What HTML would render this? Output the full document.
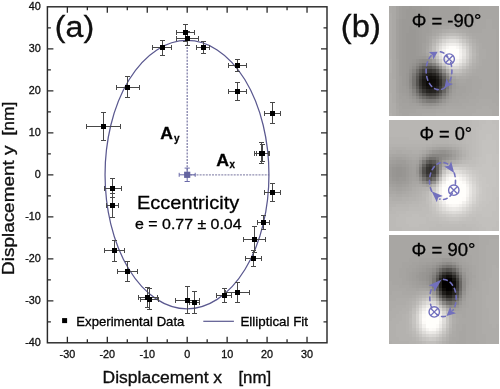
<!DOCTYPE html>
<html><head><meta charset="utf-8"><title>Eccentricity</title><style>
html,body{margin:0;padding:0;background:#fff;}
body{width:500px;height:389px;overflow:hidden;position:relative;}
svg{position:absolute;left:0;top:0;filter:blur(0.3px);}
text{font-family:"Liberation Sans", Arial, sans-serif;stroke:#000;stroke-width:0.3px;}
.tk{font-size:10.8px;fill:#1a1a1a;}
</style></head>
<body>
<svg width="500" height="389" viewBox="0 0 500 389">
<path d="M67.37 342.80v-6M67.37 6.80v6M87.34 342.80v-3.5M87.34 6.80v3.5M107.31 342.80v-6M107.31 6.80v6M127.29 342.80v-3.5M127.29 6.80v3.5M147.26 342.80v-6M147.26 6.80v6M167.23 342.80v-3.5M167.23 6.80v3.5M187.20 342.80v-6M187.20 6.80v6M207.17 342.80v-3.5M207.17 6.80v3.5M227.14 342.80v-6M227.14 6.80v6M247.11 342.80v-3.5M247.11 6.80v3.5M267.09 342.80v-6M267.09 6.80v6M287.06 342.80v-3.5M287.06 6.80v3.5M307.03 342.80v-6M307.03 6.80v6M47.40 321.80h3.5M327.00 321.80h-3.5M47.40 300.80h6M327.00 300.80h-6M47.40 279.80h3.5M327.00 279.80h-3.5M47.40 258.80h6M327.00 258.80h-6M47.40 237.80h3.5M327.00 237.80h-3.5M47.40 216.80h6M327.00 216.80h-6M47.40 195.80h3.5M327.00 195.80h-3.5M47.40 174.80h6M327.00 174.80h-6M47.40 153.80h3.5M327.00 153.80h-3.5M47.40 132.80h6M327.00 132.80h-6M47.40 111.80h3.5M327.00 111.80h-3.5M47.40 90.80h6M327.00 90.80h-6M47.40 69.80h3.5M327.00 69.80h-3.5M47.40 48.80h6M327.00 48.80h-6M47.40 27.80h3.5M327.00 27.80h-3.5" stroke="#2a2a2a" stroke-width="1.3" fill="none"/>
<rect x="47.4" y="6.8" width="279.60" height="336.00" fill="none" stroke="#2a2a2a" stroke-width="1.45"/>
<text x="40.8" y="345.50" text-anchor="end" class="tk">-40</text>
<text x="40.8" y="303.50" text-anchor="end" class="tk">-30</text>
<text x="40.8" y="261.50" text-anchor="end" class="tk">-20</text>
<text x="40.8" y="219.50" text-anchor="end" class="tk">-10</text>
<text x="40.8" y="177.50" text-anchor="end" class="tk">0</text>
<text x="40.8" y="135.50" text-anchor="end" class="tk">10</text>
<text x="40.8" y="93.50" text-anchor="end" class="tk">20</text>
<text x="40.8" y="51.50" text-anchor="end" class="tk">30</text>
<text x="40.8" y="9.50" text-anchor="end" class="tk">40</text>
<text x="67.37" y="357.6" text-anchor="middle" class="tk">-30</text>
<text x="107.31" y="357.6" text-anchor="middle" class="tk">-20</text>
<text x="147.26" y="357.6" text-anchor="middle" class="tk">-10</text>
<text x="187.20" y="357.6" text-anchor="middle" class="tk">0</text>
<text x="227.14" y="357.6" text-anchor="middle" class="tk">10</text>
<text x="267.09" y="357.6" text-anchor="middle" class="tk">20</text>
<text x="307.03" y="357.6" text-anchor="middle" class="tk">30</text>
<text transform="translate(102.60 383.30) scale(1.1214 1)" font-size="15.6" fill="#111">Displacement x</text>
<text transform="translate(238.42 383.30) scale(1.0796 1)" font-size="15.6" fill="#111">[nm]</text>
<text transform="translate(14.20 274.91) rotate(-90) scale(1.1983 1)" font-size="15.8" fill="#111">Displacement y</text>
<text transform="translate(14.20 135.62) rotate(-90) scale(1.1045 1)" font-size="15.8" fill="#111">[nm]</text>
<text transform="translate(54.87 36.50) scale(1.0727 1)" font-size="30" fill="#111">(a)</text>
<text transform="translate(340.84 36.90) scale(1.0730 1)" font-size="30.5" fill="#111">(b)</text>
<path d="M187.20 40.5V174.80" stroke="#8280aa" stroke-width="1.3" stroke-dasharray="2 1.2" fill="none"/>
<path d="M187.20 174.80H269" stroke="#9290b2" stroke-width="1.3" stroke-dasharray="2 1.1" fill="none"/>
<ellipse cx="187.0" cy="174.65" rx="81.95" ry="134.15" fill="none" stroke="#5a588f" stroke-width="1.25"/>
<path d="M176.5 32.5H194.5M185.5 24.5V41.5M176.5 30.0v5M194.5 30.0v5M183.0 24.5h5M183.0 41.5h5M176.5 38.5H198.5M187.5 31.5V45.5M176.5 36.0v5M198.5 36.0v5M185.0 31.5h5M185.0 45.5h5M152.5 47.5H171.5M162.5 40.5V55.5M152.5 45.0v5M171.5 45.0v5M160.0 40.5h5M160.0 55.5h5M196.5 47.5H209.5M203.5 41.5V53.5M196.5 45.0v5M209.5 45.0v5M201.0 41.5h5M201.0 53.5h5M228.5 65.5H246.5M237.5 59.5V71.5M228.5 63.0v5M246.5 63.0v5M235.0 59.5h5M235.0 71.5h5M228.5 91.5H246.5M237.5 82.5V100.5M228.5 89.0v5M246.5 89.0v5M235.0 82.5h5M235.0 100.5h5M116.5 87.5H139.5M127.5 76.5V97.5M116.5 85.0v5M139.5 85.0v5M125.0 76.5h5M125.0 97.5h5M86.5 126.5H120.5M103.5 112.5V140.5M86.5 124.0v5M120.5 124.0v5M101.0 112.5h5M101.0 140.5h5M264.5 113.5H280.5M272.5 102.5V123.5M264.5 111.0v5M280.5 111.0v5M270.0 102.5h5M270.0 123.5h5M254.5 153.5H269.5M261.5 142.5V163.5M254.5 151.0v5M269.5 151.0v5M259.0 142.5h5M259.0 163.5h5M256.5 153.5H268.5M262.5 144.5V161.5M256.5 151.0v5M268.5 151.0v5M260.0 144.5h5M260.0 161.5h5M104.5 188.5H121.5M112.5 178.5V197.5M104.5 186.0v5M121.5 186.0v5M110.0 178.5h5M110.0 197.5h5M106.5 205.5H118.5M112.5 193.5V217.5M106.5 203.0v5M118.5 203.0v5M110.0 193.5h5M110.0 217.5h5M264.5 192.5H280.5M272.5 183.5V201.5M264.5 190.0v5M280.5 190.0v5M270.0 183.5h5M270.0 201.5h5M257.5 222.5H269.5M263.5 215.5V229.5M257.5 220.0v5M269.5 220.0v5M261.0 215.5h5M261.0 229.5h5M243.5 239.5H265.5M254.5 226.5V252.5M243.5 237.0v5M265.5 237.0v5M252.0 226.5h5M252.0 252.5h5M245.5 258.5H261.5M253.5 250.5V266.5M245.5 256.0v5M261.5 256.0v5M251.0 250.5h5M251.0 266.5h5M104.5 250.5H124.5M114.5 240.5V261.5M104.5 248.0v5M124.5 248.0v5M112.0 240.5h5M112.0 261.5h5M117.5 271.5H137.5M127.5 261.5V281.5M117.5 269.0v5M137.5 269.0v5M125.0 261.5h5M125.0 281.5h5M138.5 297.5H157.5M147.5 287.5V307.5M138.5 295.0v5M157.5 295.0v5M145.0 287.5h5M145.0 307.5h5M140.5 299.5H158.5M149.5 288.5V309.5M140.5 297.0v5M158.5 297.0v5M147.0 288.5h5M147.0 309.5h5M175.5 300.5H199.5M187.5 286.5V313.5M175.5 298.0v5M199.5 298.0v5M185.0 286.5h5M185.0 313.5h5M189.5 302.5H199.5M194.5 291.5V313.5M189.5 300.0v5M199.5 300.0v5M192.0 291.5h5M192.0 313.5h5M216.5 295.5H231.5M224.5 288.5V302.5M216.5 293.0v5M231.5 293.0v5M222.0 288.5h5M222.0 302.5h5M225.5 292.5H249.5M237.5 282.5V302.5M225.5 290.0v5M249.5 290.0v5M235.0 282.5h5M235.0 302.5h5" stroke="#484848" stroke-width="1" fill="none"/>
<path d="M183.0 30.0h5v5h-5zM185.0 36.0h5v5h-5zM160.0 45.0h5v5h-5zM201.0 45.0h5v5h-5zM235.0 63.0h5v5h-5zM235.0 89.0h5v5h-5zM125.0 85.0h5v5h-5zM101.0 124.0h5v5h-5zM270.0 111.0h5v5h-5zM259.0 151.0h5v5h-5zM260.0 151.0h5v5h-5zM110.0 186.0h5v5h-5zM110.0 203.0h5v5h-5zM270.0 190.0h5v5h-5zM261.0 220.0h5v5h-5zM252.0 237.0h5v5h-5zM251.0 256.0h5v5h-5zM112.0 248.0h5v5h-5zM125.0 269.0h5v5h-5zM145.0 295.0h5v5h-5zM147.0 297.0h5v5h-5zM185.0 298.0h5v5h-5zM192.0 300.0h5v5h-5zM222.0 293.0h5v5h-5zM235.0 290.0h5v5h-5z" fill="#000"/>
<path d="M179.20 174.80H195.20M179.20 172.80v4M195.20 172.80v4M187.20 168.10V181.50M184.60 168.10h5.2M184.60 181.50h5.2" stroke="#6a6aa8" stroke-width="1" fill="none"/>
<rect x="184.10" y="171.70" width="6.2" height="6.2" fill="#6464a0"/>
<text transform="translate(160.36 139.00) scale(1.0122 1)" font-size="17.4" font-weight="700" fill="#000">A</text>
<text transform="translate(173.90 141.90) scale(0.8621 1)" font-size="11.6" font-weight="700" fill="#000">y</text>
<text transform="translate(216.26 166.10) scale(1.0208 1)" font-size="17.4" font-weight="700" fill="#000">A</text>
<text transform="translate(229.60 168.20) scale(0.8836 1)" font-size="11" font-weight="700" fill="#000">x</text>
<text transform="translate(137.00 209.00) scale(1.0929 1)" font-size="18.3" fill="#000">Eccentricity</text>
<text transform="translate(135.08 229.00) scale(1.0758 1)" font-size="14.8" fill="#000">e = 0.77 ± 0.04</text>
<rect x="62.1" y="318.1" width="5" height="5" fill="#000"/>
<text transform="translate(76.35 325.60) scale(1.0436 1)" font-size="12.6" fill="#000">Experimental Data</text>
<path d="M203.3 321.3H233.9" stroke="#5a588f" stroke-width="1.2"/>
<text transform="translate(240.43 325.60) scale(1.0619 1)" font-size="12.6" fill="#000">Elliptical Fit</text>
<g shape-rendering="crispEdges">
<rect x="389.00" y="6.00" width="3.73" height="3.73" fill="#acaaa7"/>
<rect x="392.33" y="6.00" width="3.73" height="3.73" fill="#aaa8a5"/>
<rect x="395.67" y="6.00" width="3.73" height="3.73" fill="#a4a29f"/>
<rect x="399.00" y="6.00" width="3.73" height="3.73" fill="#a09e9b"/>
<rect x="402.33" y="6.00" width="7.07" height="3.73" fill="#9e9c99"/>
<rect x="409.00" y="6.00" width="3.73" height="3.73" fill="#9c9a97"/>
<rect x="412.33" y="6.00" width="10.40" height="3.73" fill="#9e9c99"/>
<rect x="422.33" y="6.00" width="7.07" height="3.73" fill="#a09e9b"/>
<rect x="429.00" y="6.00" width="30.40" height="3.73" fill="#a2a09d"/>
<rect x="459.00" y="6.00" width="10.40" height="3.73" fill="#a4a29f"/>
<rect x="469.00" y="6.00" width="10.40" height="3.73" fill="#a6a4a1"/>
<rect x="479.00" y="6.00" width="20.40" height="3.73" fill="#a8a6a3"/>
<rect x="389.00" y="9.33" width="3.73" height="3.73" fill="#acaaa7"/>
<rect x="392.33" y="9.33" width="3.73" height="3.73" fill="#aaa8a5"/>
<rect x="395.67" y="9.33" width="3.73" height="3.73" fill="#a4a29f"/>
<rect x="399.00" y="9.33" width="3.73" height="3.73" fill="#a09e9b"/>
<rect x="402.33" y="9.33" width="3.73" height="3.73" fill="#9e9c99"/>
<rect x="405.67" y="9.33" width="10.40" height="3.73" fill="#9c9a97"/>
<rect x="415.67" y="9.33" width="7.07" height="3.73" fill="#9e9c99"/>
<rect x="422.33" y="9.33" width="7.07" height="3.73" fill="#a09e9b"/>
<rect x="429.00" y="9.33" width="30.40" height="3.73" fill="#a2a09d"/>
<rect x="459.00" y="9.33" width="10.40" height="3.73" fill="#a4a29f"/>
<rect x="469.00" y="9.33" width="10.40" height="3.73" fill="#a6a4a1"/>
<rect x="479.00" y="9.33" width="20.40" height="3.73" fill="#a8a6a3"/>
<rect x="389.00" y="12.67" width="3.73" height="3.73" fill="#aeaca9"/>
<rect x="392.33" y="12.67" width="3.73" height="3.73" fill="#aaa8a5"/>
<rect x="395.67" y="12.67" width="3.73" height="3.73" fill="#a4a29f"/>
<rect x="399.00" y="12.67" width="3.73" height="3.73" fill="#a09e9b"/>
<rect x="402.33" y="12.67" width="3.73" height="3.73" fill="#9e9c99"/>
<rect x="405.67" y="12.67" width="10.40" height="3.73" fill="#9c9a97"/>
<rect x="415.67" y="12.67" width="7.07" height="3.73" fill="#9e9c99"/>
<rect x="422.33" y="12.67" width="7.07" height="3.73" fill="#a09e9b"/>
<rect x="429.00" y="12.67" width="30.40" height="3.73" fill="#a2a09d"/>
<rect x="459.00" y="12.67" width="10.40" height="3.73" fill="#a4a29f"/>
<rect x="469.00" y="12.67" width="10.40" height="3.73" fill="#a6a4a1"/>
<rect x="479.00" y="12.67" width="20.40" height="3.73" fill="#a8a6a3"/>
<rect x="389.00" y="16.00" width="3.73" height="3.73" fill="#aeaca9"/>
<rect x="392.33" y="16.00" width="3.73" height="3.73" fill="#aaa8a5"/>
<rect x="395.67" y="16.00" width="3.73" height="3.73" fill="#a4a29f"/>
<rect x="399.00" y="16.00" width="3.73" height="3.73" fill="#a09e9b"/>
<rect x="402.33" y="16.00" width="3.73" height="3.73" fill="#9e9c99"/>
<rect x="405.67" y="16.00" width="13.73" height="3.73" fill="#9c9a97"/>
<rect x="419.00" y="16.00" width="3.73" height="3.73" fill="#9e9c99"/>
<rect x="422.33" y="16.00" width="7.07" height="3.73" fill="#a09e9b"/>
<rect x="429.00" y="16.00" width="27.07" height="3.73" fill="#a2a09d"/>
<rect x="455.67" y="16.00" width="13.73" height="3.73" fill="#a4a29f"/>
<rect x="469.00" y="16.00" width="7.07" height="3.73" fill="#a6a4a1"/>
<rect x="475.67" y="16.00" width="23.73" height="3.73" fill="#a8a6a3"/>
<rect x="389.00" y="19.33" width="3.73" height="3.73" fill="#aeaca9"/>
<rect x="392.33" y="19.33" width="3.73" height="3.73" fill="#aaa8a5"/>
<rect x="395.67" y="19.33" width="3.73" height="3.73" fill="#a2a09d"/>
<rect x="399.00" y="19.33" width="3.73" height="3.73" fill="#9e9c99"/>
<rect x="402.33" y="19.33" width="17.07" height="3.73" fill="#9c9a97"/>
<rect x="419.00" y="19.33" width="3.73" height="3.73" fill="#9e9c99"/>
<rect x="422.33" y="19.33" width="7.07" height="3.73" fill="#a09e9b"/>
<rect x="429.00" y="19.33" width="17.07" height="3.73" fill="#a2a09d"/>
<rect x="445.67" y="19.33" width="23.73" height="3.73" fill="#a4a29f"/>
<rect x="469.00" y="19.33" width="7.07" height="3.73" fill="#a6a4a1"/>
<rect x="475.67" y="19.33" width="10.40" height="3.73" fill="#a8a6a3"/>
<rect x="485.67" y="19.33" width="7.07" height="3.73" fill="#aaa8a5"/>
<rect x="492.33" y="19.33" width="7.07" height="3.73" fill="#a8a6a3"/>
<rect x="389.00" y="22.67" width="3.73" height="3.73" fill="#aeaca9"/>
<rect x="392.33" y="22.67" width="3.73" height="3.73" fill="#aaa8a5"/>
<rect x="395.67" y="22.67" width="3.73" height="3.73" fill="#a2a09d"/>
<rect x="399.00" y="22.67" width="3.73" height="3.73" fill="#9e9c99"/>
<rect x="402.33" y="22.67" width="17.07" height="3.73" fill="#9c9a97"/>
<rect x="419.00" y="22.67" width="3.73" height="3.73" fill="#9e9c99"/>
<rect x="422.33" y="22.67" width="7.07" height="3.73" fill="#a09e9b"/>
<rect x="429.00" y="22.67" width="10.40" height="3.73" fill="#a2a09d"/>
<rect x="439.00" y="22.67" width="10.40" height="3.73" fill="#a4a29f"/>
<rect x="449.00" y="22.67" width="27.07" height="3.73" fill="#a6a4a1"/>
<rect x="475.67" y="22.67" width="10.40" height="3.73" fill="#a8a6a3"/>
<rect x="485.67" y="22.67" width="7.07" height="3.73" fill="#aaa8a5"/>
<rect x="492.33" y="22.67" width="7.07" height="3.73" fill="#a8a6a3"/>
<rect x="389.00" y="26.00" width="3.73" height="3.73" fill="#aeaca9"/>
<rect x="392.33" y="26.00" width="3.73" height="3.73" fill="#aaa8a5"/>
<rect x="395.67" y="26.00" width="3.73" height="3.73" fill="#a2a09d"/>
<rect x="399.00" y="26.00" width="3.73" height="3.73" fill="#9e9c99"/>
<rect x="402.33" y="26.00" width="7.07" height="3.73" fill="#9c9a97"/>
<rect x="409.00" y="26.00" width="3.73" height="3.73" fill="#9a9895"/>
<rect x="412.33" y="26.00" width="7.07" height="3.73" fill="#9c9a97"/>
<rect x="419.00" y="26.00" width="3.73" height="3.73" fill="#9e9c99"/>
<rect x="422.33" y="26.00" width="7.07" height="3.73" fill="#a09e9b"/>
<rect x="429.00" y="26.00" width="3.73" height="3.73" fill="#a2a09d"/>
<rect x="432.33" y="26.00" width="7.07" height="3.73" fill="#a4a29f"/>
<rect x="439.00" y="26.00" width="3.73" height="3.73" fill="#a6a4a1"/>
<rect x="442.33" y="26.00" width="7.07" height="3.73" fill="#a8a6a3"/>
<rect x="449.00" y="26.00" width="10.40" height="3.73" fill="#aaa8a5"/>
<rect x="459.00" y="26.00" width="10.40" height="3.73" fill="#a8a6a3"/>
<rect x="469.00" y="26.00" width="3.73" height="3.73" fill="#a6a4a1"/>
<rect x="472.33" y="26.00" width="13.73" height="3.73" fill="#a8a6a3"/>
<rect x="485.67" y="26.00" width="7.07" height="3.73" fill="#aaa8a5"/>
<rect x="492.33" y="26.00" width="7.07" height="3.73" fill="#a8a6a3"/>
<rect x="389.00" y="29.33" width="3.73" height="3.73" fill="#aeaca9"/>
<rect x="392.33" y="29.33" width="3.73" height="3.73" fill="#aaa8a5"/>
<rect x="395.67" y="29.33" width="3.73" height="3.73" fill="#a2a09d"/>
<rect x="399.00" y="29.33" width="3.73" height="3.73" fill="#9e9c99"/>
<rect x="402.33" y="29.33" width="7.07" height="3.73" fill="#9c9a97"/>
<rect x="409.00" y="29.33" width="7.07" height="3.73" fill="#9a9895"/>
<rect x="415.67" y="29.33" width="3.73" height="3.73" fill="#9c9a97"/>
<rect x="419.00" y="29.33" width="3.73" height="3.73" fill="#9e9c99"/>
<rect x="422.33" y="29.33" width="7.07" height="3.73" fill="#a09e9b"/>
<rect x="429.00" y="29.33" width="3.73" height="3.73" fill="#a2a09d"/>
<rect x="432.33" y="29.33" width="3.73" height="3.73" fill="#a6a4a1"/>
<rect x="435.67" y="29.33" width="3.73" height="3.73" fill="#a8a6a3"/>
<rect x="439.00" y="29.33" width="3.73" height="3.73" fill="#aaa8a5"/>
<rect x="442.33" y="29.33" width="3.73" height="3.73" fill="#aeaca9"/>
<rect x="445.67" y="29.33" width="3.73" height="3.73" fill="#b0aeab"/>
<rect x="449.00" y="29.33" width="7.07" height="3.73" fill="#b2b0ad"/>
<rect x="455.67" y="29.33" width="3.73" height="3.73" fill="#b0aeab"/>
<rect x="459.00" y="29.33" width="3.73" height="3.73" fill="#aeaca9"/>
<rect x="462.33" y="29.33" width="3.73" height="3.73" fill="#acaaa7"/>
<rect x="465.67" y="29.33" width="3.73" height="3.73" fill="#aaa8a5"/>
<rect x="469.00" y="29.33" width="13.73" height="3.73" fill="#a8a6a3"/>
<rect x="482.33" y="29.33" width="13.73" height="3.73" fill="#aaa8a5"/>
<rect x="495.67" y="29.33" width="3.73" height="3.73" fill="#a8a6a3"/>
<rect x="389.00" y="32.67" width="3.73" height="3.73" fill="#aeaca9"/>
<rect x="392.33" y="32.67" width="3.73" height="3.73" fill="#aaa8a5"/>
<rect x="395.67" y="32.67" width="3.73" height="3.73" fill="#a2a09d"/>
<rect x="399.00" y="32.67" width="3.73" height="3.73" fill="#9e9c99"/>
<rect x="402.33" y="32.67" width="3.73" height="3.73" fill="#9c9a97"/>
<rect x="405.67" y="32.67" width="10.40" height="3.73" fill="#9a9895"/>
<rect x="415.67" y="32.67" width="3.73" height="3.73" fill="#9c9a97"/>
<rect x="419.00" y="32.67" width="3.73" height="3.73" fill="#9e9c99"/>
<rect x="422.33" y="32.67" width="3.73" height="3.73" fill="#a09e9b"/>
<rect x="425.67" y="32.67" width="3.73" height="3.73" fill="#a2a09d"/>
<rect x="429.00" y="32.67" width="3.73" height="3.73" fill="#a4a29f"/>
<rect x="432.33" y="32.67" width="3.73" height="3.73" fill="#a8a6a3"/>
<rect x="435.67" y="32.67" width="3.73" height="3.73" fill="#acaaa7"/>
<rect x="439.00" y="32.67" width="3.73" height="3.73" fill="#b2b0ad"/>
<rect x="442.33" y="32.67" width="3.73" height="3.73" fill="#b8b6b3"/>
<rect x="445.67" y="32.67" width="3.73" height="3.73" fill="#bcbab7"/>
<rect x="449.00" y="32.67" width="7.07" height="3.73" fill="#bebcb9"/>
<rect x="455.67" y="32.67" width="3.73" height="3.73" fill="#bcbab7"/>
<rect x="459.00" y="32.67" width="3.73" height="3.73" fill="#b8b6b3"/>
<rect x="462.33" y="32.67" width="3.73" height="3.73" fill="#b4b2af"/>
<rect x="465.67" y="32.67" width="3.73" height="3.73" fill="#aeaca9"/>
<rect x="469.00" y="32.67" width="3.73" height="3.73" fill="#acaaa7"/>
<rect x="472.33" y="32.67" width="23.73" height="3.73" fill="#aaa8a5"/>
<rect x="495.67" y="32.67" width="3.73" height="3.73" fill="#a8a6a3"/>
<rect x="389.00" y="36.00" width="3.73" height="3.73" fill="#aeaca9"/>
<rect x="392.33" y="36.00" width="3.73" height="3.73" fill="#aaa8a5"/>
<rect x="395.67" y="36.00" width="3.73" height="3.73" fill="#a2a09d"/>
<rect x="399.00" y="36.00" width="3.73" height="3.73" fill="#9e9c99"/>
<rect x="402.33" y="36.00" width="3.73" height="3.73" fill="#9c9a97"/>
<rect x="405.67" y="36.00" width="10.40" height="3.73" fill="#9a9895"/>
<rect x="415.67" y="36.00" width="3.73" height="3.73" fill="#9c9a97"/>
<rect x="419.00" y="36.00" width="3.73" height="3.73" fill="#9e9c99"/>
<rect x="422.33" y="36.00" width="3.73" height="3.73" fill="#a09e9b"/>
<rect x="425.67" y="36.00" width="3.73" height="3.73" fill="#a4a29f"/>
<rect x="429.00" y="36.00" width="3.73" height="3.73" fill="#a8a6a3"/>
<rect x="432.33" y="36.00" width="3.73" height="3.73" fill="#aeaca9"/>
<rect x="435.67" y="36.00" width="3.73" height="3.73" fill="#b4b2af"/>
<rect x="439.00" y="36.00" width="3.73" height="3.73" fill="#bcbab7"/>
<rect x="442.33" y="36.00" width="3.73" height="3.73" fill="#c4c2bf"/>
<rect x="445.67" y="36.00" width="3.73" height="3.73" fill="#cac8c5"/>
<rect x="449.00" y="36.00" width="7.07" height="3.73" fill="#ceccc9"/>
<rect x="455.67" y="36.00" width="3.73" height="3.73" fill="#cac8c5"/>
<rect x="459.00" y="36.00" width="3.73" height="3.73" fill="#c4c2bf"/>
<rect x="462.33" y="36.00" width="3.73" height="3.73" fill="#bcbab7"/>
<rect x="465.67" y="36.00" width="3.73" height="3.73" fill="#b6b4b1"/>
<rect x="469.00" y="36.00" width="3.73" height="3.73" fill="#b0aeab"/>
<rect x="472.33" y="36.00" width="3.73" height="3.73" fill="#acaaa7"/>
<rect x="475.67" y="36.00" width="20.40" height="3.73" fill="#aaa8a5"/>
<rect x="495.67" y="36.00" width="3.73" height="3.73" fill="#a8a6a3"/>
<rect x="389.00" y="39.33" width="3.73" height="3.73" fill="#aeaca9"/>
<rect x="392.33" y="39.33" width="3.73" height="3.73" fill="#aaa8a5"/>
<rect x="395.67" y="39.33" width="3.73" height="3.73" fill="#a2a09d"/>
<rect x="399.00" y="39.33" width="3.73" height="3.73" fill="#9e9c99"/>
<rect x="402.33" y="39.33" width="3.73" height="3.73" fill="#9c9a97"/>
<rect x="405.67" y="39.33" width="10.40" height="3.73" fill="#9a9895"/>
<rect x="415.67" y="39.33" width="3.73" height="3.73" fill="#9c9a97"/>
<rect x="419.00" y="39.33" width="3.73" height="3.73" fill="#9e9c99"/>
<rect x="422.33" y="39.33" width="3.73" height="3.73" fill="#a09e9b"/>
<rect x="425.67" y="39.33" width="3.73" height="3.73" fill="#a4a29f"/>
<rect x="429.00" y="39.33" width="3.73" height="3.73" fill="#aaa8a5"/>
<rect x="432.33" y="39.33" width="3.73" height="3.73" fill="#b4b2af"/>
<rect x="435.67" y="39.33" width="3.73" height="3.73" fill="#bebcb9"/>
<rect x="439.00" y="39.33" width="3.73" height="3.73" fill="#c8c6c3"/>
<rect x="442.33" y="39.33" width="3.73" height="3.73" fill="#d4d2cf"/>
<rect x="445.67" y="39.33" width="3.73" height="3.73" fill="#dcdad7"/>
<rect x="449.00" y="39.33" width="7.07" height="3.73" fill="#e0dedb"/>
<rect x="455.67" y="39.33" width="3.73" height="3.73" fill="#dcdad7"/>
<rect x="459.00" y="39.33" width="3.73" height="3.73" fill="#d2d0cd"/>
<rect x="462.33" y="39.33" width="3.73" height="3.73" fill="#c8c6c3"/>
<rect x="465.67" y="39.33" width="3.73" height="3.73" fill="#bebcb9"/>
<rect x="469.00" y="39.33" width="3.73" height="3.73" fill="#b6b4b1"/>
<rect x="472.33" y="39.33" width="3.73" height="3.73" fill="#b0aeab"/>
<rect x="475.67" y="39.33" width="3.73" height="3.73" fill="#acaaa7"/>
<rect x="479.00" y="39.33" width="17.07" height="3.73" fill="#aaa8a5"/>
<rect x="495.67" y="39.33" width="3.73" height="3.73" fill="#a8a6a3"/>
<rect x="389.00" y="42.67" width="3.73" height="3.73" fill="#aeaca9"/>
<rect x="392.33" y="42.67" width="3.73" height="3.73" fill="#aaa8a5"/>
<rect x="395.67" y="42.67" width="3.73" height="3.73" fill="#a2a09d"/>
<rect x="399.00" y="42.67" width="3.73" height="3.73" fill="#9e9c99"/>
<rect x="402.33" y="42.67" width="3.73" height="3.73" fill="#9c9a97"/>
<rect x="405.67" y="42.67" width="10.40" height="3.73" fill="#9a9895"/>
<rect x="415.67" y="42.67" width="3.73" height="3.73" fill="#9c9a97"/>
<rect x="419.00" y="42.67" width="3.73" height="3.73" fill="#9e9c99"/>
<rect x="422.33" y="42.67" width="3.73" height="3.73" fill="#a2a09d"/>
<rect x="425.67" y="42.67" width="3.73" height="3.73" fill="#a6a4a1"/>
<rect x="429.00" y="42.67" width="3.73" height="3.73" fill="#aeaca9"/>
<rect x="432.33" y="42.67" width="3.73" height="3.73" fill="#bab8b5"/>
<rect x="435.67" y="42.67" width="3.73" height="3.73" fill="#c8c6c3"/>
<rect x="439.00" y="42.67" width="3.73" height="3.73" fill="#d6d4d1"/>
<rect x="442.33" y="42.67" width="3.73" height="3.73" fill="#e2e0dd"/>
<rect x="445.67" y="42.67" width="3.73" height="3.73" fill="#eceae7"/>
<rect x="449.00" y="42.67" width="7.07" height="3.73" fill="#f0eeeb"/>
<rect x="455.67" y="42.67" width="3.73" height="3.73" fill="#eceae7"/>
<rect x="459.00" y="42.67" width="3.73" height="3.73" fill="#e2e0dd"/>
<rect x="462.33" y="42.67" width="3.73" height="3.73" fill="#d4d2cf"/>
<rect x="465.67" y="42.67" width="3.73" height="3.73" fill="#c8c6c3"/>
<rect x="469.00" y="42.67" width="3.73" height="3.73" fill="#bcbab7"/>
<rect x="472.33" y="42.67" width="3.73" height="3.73" fill="#b4b2af"/>
<rect x="475.67" y="42.67" width="3.73" height="3.73" fill="#aeaca9"/>
<rect x="479.00" y="42.67" width="3.73" height="3.73" fill="#acaaa7"/>
<rect x="482.33" y="42.67" width="13.73" height="3.73" fill="#aaa8a5"/>
<rect x="495.67" y="42.67" width="3.73" height="3.73" fill="#a8a6a3"/>
<rect x="389.00" y="46.00" width="3.73" height="3.73" fill="#aeaca9"/>
<rect x="392.33" y="46.00" width="3.73" height="3.73" fill="#aaa8a5"/>
<rect x="395.67" y="46.00" width="3.73" height="3.73" fill="#a2a09d"/>
<rect x="399.00" y="46.00" width="3.73" height="3.73" fill="#9e9c99"/>
<rect x="402.33" y="46.00" width="3.73" height="3.73" fill="#9c9a97"/>
<rect x="405.67" y="46.00" width="10.40" height="3.73" fill="#9a9895"/>
<rect x="415.67" y="46.00" width="3.73" height="3.73" fill="#9c9a97"/>
<rect x="419.00" y="46.00" width="3.73" height="3.73" fill="#9e9c99"/>
<rect x="422.33" y="46.00" width="3.73" height="3.73" fill="#a2a09d"/>
<rect x="425.67" y="46.00" width="3.73" height="3.73" fill="#a8a6a3"/>
<rect x="429.00" y="46.00" width="3.73" height="3.73" fill="#b2b0ad"/>
<rect x="432.33" y="46.00" width="3.73" height="3.73" fill="#c0bebb"/>
<rect x="435.67" y="46.00" width="3.73" height="3.73" fill="#d0cecb"/>
<rect x="439.00" y="46.00" width="3.73" height="3.73" fill="#e0dedb"/>
<rect x="442.33" y="46.00" width="3.73" height="3.73" fill="#eeece9"/>
<rect x="445.67" y="46.00" width="3.73" height="3.73" fill="#f8f6f3"/>
<rect x="449.00" y="46.00" width="7.07" height="3.73" fill="#fefcf9"/>
<rect x="455.67" y="46.00" width="3.73" height="3.73" fill="#f8f6f3"/>
<rect x="459.00" y="46.00" width="3.73" height="3.73" fill="#eeece9"/>
<rect x="462.33" y="46.00" width="3.73" height="3.73" fill="#dedcd9"/>
<rect x="465.67" y="46.00" width="3.73" height="3.73" fill="#d0cecb"/>
<rect x="469.00" y="46.00" width="3.73" height="3.73" fill="#c2c0bd"/>
<rect x="472.33" y="46.00" width="3.73" height="3.73" fill="#b6b4b1"/>
<rect x="475.67" y="46.00" width="3.73" height="3.73" fill="#b0aeab"/>
<rect x="479.00" y="46.00" width="3.73" height="3.73" fill="#acaaa7"/>
<rect x="482.33" y="46.00" width="13.73" height="3.73" fill="#aaa8a5"/>
<rect x="495.67" y="46.00" width="3.73" height="3.73" fill="#a8a6a3"/>
<rect x="389.00" y="49.33" width="3.73" height="3.73" fill="#aeaca9"/>
<rect x="392.33" y="49.33" width="3.73" height="3.73" fill="#aaa8a5"/>
<rect x="395.67" y="49.33" width="3.73" height="3.73" fill="#a2a09d"/>
<rect x="399.00" y="49.33" width="3.73" height="3.73" fill="#9e9c99"/>
<rect x="402.33" y="49.33" width="3.73" height="3.73" fill="#9c9a97"/>
<rect x="405.67" y="49.33" width="10.40" height="3.73" fill="#9a9895"/>
<rect x="415.67" y="49.33" width="3.73" height="3.73" fill="#9c9a97"/>
<rect x="419.00" y="49.33" width="3.73" height="3.73" fill="#9e9c99"/>
<rect x="422.33" y="49.33" width="3.73" height="3.73" fill="#a2a09d"/>
<rect x="425.67" y="49.33" width="3.73" height="3.73" fill="#aaa8a5"/>
<rect x="429.00" y="49.33" width="3.73" height="3.73" fill="#b4b2af"/>
<rect x="432.33" y="49.33" width="3.73" height="3.73" fill="#c2c0bd"/>
<rect x="435.67" y="49.33" width="3.73" height="3.73" fill="#d4d2cf"/>
<rect x="439.00" y="49.33" width="3.73" height="3.73" fill="#e6e4e1"/>
<rect x="442.33" y="49.33" width="3.73" height="3.73" fill="#f6f4f1"/>
<rect x="445.67" y="49.33" width="13.73" height="3.73" fill="#fffefb"/>
<rect x="459.00" y="49.33" width="3.73" height="3.73" fill="#f4f2ef"/>
<rect x="462.33" y="49.33" width="3.73" height="3.73" fill="#e6e4e1"/>
<rect x="465.67" y="49.33" width="3.73" height="3.73" fill="#d4d2cf"/>
<rect x="469.00" y="49.33" width="3.73" height="3.73" fill="#c4c2bf"/>
<rect x="472.33" y="49.33" width="3.73" height="3.73" fill="#b8b6b3"/>
<rect x="475.67" y="49.33" width="3.73" height="3.73" fill="#b0aeab"/>
<rect x="479.00" y="49.33" width="7.07" height="3.73" fill="#acaaa7"/>
<rect x="485.67" y="49.33" width="10.40" height="3.73" fill="#aaa8a5"/>
<rect x="495.67" y="49.33" width="3.73" height="3.73" fill="#a8a6a3"/>
<rect x="389.00" y="52.67" width="3.73" height="3.73" fill="#aeaca9"/>
<rect x="392.33" y="52.67" width="3.73" height="3.73" fill="#aaa8a5"/>
<rect x="395.67" y="52.67" width="3.73" height="3.73" fill="#a2a09d"/>
<rect x="399.00" y="52.67" width="3.73" height="3.73" fill="#9e9c99"/>
<rect x="402.33" y="52.67" width="3.73" height="3.73" fill="#9c9a97"/>
<rect x="405.67" y="52.67" width="10.40" height="3.73" fill="#9a9895"/>
<rect x="415.67" y="52.67" width="3.73" height="3.73" fill="#9c9a97"/>
<rect x="419.00" y="52.67" width="3.73" height="3.73" fill="#9e9c99"/>
<rect x="422.33" y="52.67" width="3.73" height="3.73" fill="#a09e9b"/>
<rect x="425.67" y="52.67" width="3.73" height="3.73" fill="#a6a4a1"/>
<rect x="429.00" y="52.67" width="3.73" height="3.73" fill="#b2b0ad"/>
<rect x="432.33" y="52.67" width="3.73" height="3.73" fill="#c0bebb"/>
<rect x="435.67" y="52.67" width="3.73" height="3.73" fill="#d4d2cf"/>
<rect x="439.00" y="52.67" width="3.73" height="3.73" fill="#e6e4e1"/>
<rect x="442.33" y="52.67" width="3.73" height="3.73" fill="#f8f6f3"/>
<rect x="445.67" y="52.67" width="13.73" height="3.73" fill="#fffefb"/>
<rect x="459.00" y="52.67" width="3.73" height="3.73" fill="#f6f4f1"/>
<rect x="462.33" y="52.67" width="3.73" height="3.73" fill="#e8e6e3"/>
<rect x="465.67" y="52.67" width="3.73" height="3.73" fill="#d6d4d1"/>
<rect x="469.00" y="52.67" width="3.73" height="3.73" fill="#c6c4c1"/>
<rect x="472.33" y="52.67" width="3.73" height="3.73" fill="#bab8b5"/>
<rect x="475.67" y="52.67" width="3.73" height="3.73" fill="#b2b0ad"/>
<rect x="479.00" y="52.67" width="7.07" height="3.73" fill="#acaaa7"/>
<rect x="485.67" y="52.67" width="10.40" height="3.73" fill="#aaa8a5"/>
<rect x="495.67" y="52.67" width="3.73" height="3.73" fill="#a8a6a3"/>
<rect x="389.00" y="56.00" width="3.73" height="3.73" fill="#aeaca9"/>
<rect x="392.33" y="56.00" width="3.73" height="3.73" fill="#aaa8a5"/>
<rect x="395.67" y="56.00" width="3.73" height="3.73" fill="#a2a09d"/>
<rect x="399.00" y="56.00" width="3.73" height="3.73" fill="#9e9c99"/>
<rect x="402.33" y="56.00" width="3.73" height="3.73" fill="#9c9a97"/>
<rect x="405.67" y="56.00" width="20.40" height="3.73" fill="#9a9895"/>
<rect x="425.67" y="56.00" width="3.73" height="3.73" fill="#9e9c99"/>
<rect x="429.00" y="56.00" width="3.73" height="3.73" fill="#a8a6a3"/>
<rect x="432.33" y="56.00" width="3.73" height="3.73" fill="#b6b4b1"/>
<rect x="435.67" y="56.00" width="3.73" height="3.73" fill="#cac8c5"/>
<rect x="439.00" y="56.00" width="3.73" height="3.73" fill="#e0dedb"/>
<rect x="442.33" y="56.00" width="3.73" height="3.73" fill="#f2f0ed"/>
<rect x="445.67" y="56.00" width="3.73" height="3.73" fill="#fefcf9"/>
<rect x="449.00" y="56.00" width="7.07" height="3.73" fill="#fffefb"/>
<rect x="455.67" y="56.00" width="3.73" height="3.73" fill="#fefcf9"/>
<rect x="459.00" y="56.00" width="3.73" height="3.73" fill="#f4f2ef"/>
<rect x="462.33" y="56.00" width="3.73" height="3.73" fill="#e4e2df"/>
<rect x="465.67" y="56.00" width="3.73" height="3.73" fill="#d4d2cf"/>
<rect x="469.00" y="56.00" width="3.73" height="3.73" fill="#c4c2bf"/>
<rect x="472.33" y="56.00" width="3.73" height="3.73" fill="#b8b6b3"/>
<rect x="475.67" y="56.00" width="3.73" height="3.73" fill="#b0aeab"/>
<rect x="479.00" y="56.00" width="7.07" height="3.73" fill="#acaaa7"/>
<rect x="485.67" y="56.00" width="10.40" height="3.73" fill="#aaa8a5"/>
<rect x="495.67" y="56.00" width="3.73" height="3.73" fill="#a8a6a3"/>
<rect x="389.00" y="59.33" width="3.73" height="3.73" fill="#b0aeab"/>
<rect x="392.33" y="59.33" width="3.73" height="3.73" fill="#aaa8a5"/>
<rect x="395.67" y="59.33" width="3.73" height="3.73" fill="#a4a29f"/>
<rect x="399.00" y="59.33" width="3.73" height="3.73" fill="#9e9c99"/>
<rect x="402.33" y="59.33" width="3.73" height="3.73" fill="#9c9a97"/>
<rect x="405.67" y="59.33" width="7.07" height="3.73" fill="#9a9895"/>
<rect x="412.33" y="59.33" width="3.73" height="3.73" fill="#989693"/>
<rect x="415.67" y="59.33" width="3.73" height="3.73" fill="#94928f"/>
<rect x="419.00" y="59.33" width="3.73" height="3.73" fill="#908e8b"/>
<rect x="422.33" y="59.33" width="7.07" height="3.73" fill="#8e8c89"/>
<rect x="429.00" y="59.33" width="3.73" height="3.73" fill="#94928f"/>
<rect x="432.33" y="59.33" width="3.73" height="3.73" fill="#a2a09d"/>
<rect x="435.67" y="59.33" width="3.73" height="3.73" fill="#b8b6b3"/>
<rect x="439.00" y="59.33" width="3.73" height="3.73" fill="#ceccc9"/>
<rect x="442.33" y="59.33" width="3.73" height="3.73" fill="#e4e2df"/>
<rect x="445.67" y="59.33" width="3.73" height="3.73" fill="#f2f0ed"/>
<rect x="449.00" y="59.33" width="7.07" height="3.73" fill="#faf8f5"/>
<rect x="455.67" y="59.33" width="3.73" height="3.73" fill="#f6f4f1"/>
<rect x="459.00" y="59.33" width="3.73" height="3.73" fill="#eceae7"/>
<rect x="462.33" y="59.33" width="3.73" height="3.73" fill="#dedcd9"/>
<rect x="465.67" y="59.33" width="3.73" height="3.73" fill="#ceccc9"/>
<rect x="469.00" y="59.33" width="3.73" height="3.73" fill="#c0bebb"/>
<rect x="472.33" y="59.33" width="3.73" height="3.73" fill="#b6b4b1"/>
<rect x="475.67" y="59.33" width="3.73" height="3.73" fill="#b0aeab"/>
<rect x="479.00" y="59.33" width="3.73" height="3.73" fill="#acaaa7"/>
<rect x="482.33" y="59.33" width="13.73" height="3.73" fill="#aaa8a5"/>
<rect x="495.67" y="59.33" width="3.73" height="3.73" fill="#a8a6a3"/>
<rect x="389.00" y="62.67" width="3.73" height="3.73" fill="#b0aeab"/>
<rect x="392.33" y="62.67" width="3.73" height="3.73" fill="#aaa8a5"/>
<rect x="395.67" y="62.67" width="3.73" height="3.73" fill="#a4a29f"/>
<rect x="399.00" y="62.67" width="3.73" height="3.73" fill="#9e9c99"/>
<rect x="402.33" y="62.67" width="3.73" height="3.73" fill="#9c9a97"/>
<rect x="405.67" y="62.67" width="3.73" height="3.73" fill="#9a9895"/>
<rect x="409.00" y="62.67" width="3.73" height="3.73" fill="#989693"/>
<rect x="412.33" y="62.67" width="3.73" height="3.73" fill="#94928f"/>
<rect x="415.67" y="62.67" width="3.73" height="3.73" fill="#8c8a87"/>
<rect x="419.00" y="62.67" width="3.73" height="3.73" fill="#82807d"/>
<rect x="422.33" y="62.67" width="3.73" height="3.73" fill="#787673"/>
<rect x="425.67" y="62.67" width="3.73" height="3.73" fill="#74726f"/>
<rect x="429.00" y="62.67" width="3.73" height="3.73" fill="#767471"/>
<rect x="432.33" y="62.67" width="3.73" height="3.73" fill="#84827f"/>
<rect x="435.67" y="62.67" width="3.73" height="3.73" fill="#9a9895"/>
<rect x="439.00" y="62.67" width="3.73" height="3.73" fill="#b4b2af"/>
<rect x="442.33" y="62.67" width="3.73" height="3.73" fill="#ceccc9"/>
<rect x="445.67" y="62.67" width="3.73" height="3.73" fill="#e0dedb"/>
<rect x="449.00" y="62.67" width="3.73" height="3.73" fill="#eae8e5"/>
<rect x="452.33" y="62.67" width="3.73" height="3.73" fill="#eceae7"/>
<rect x="455.67" y="62.67" width="3.73" height="3.73" fill="#e8e6e3"/>
<rect x="459.00" y="62.67" width="3.73" height="3.73" fill="#dedcd9"/>
<rect x="462.33" y="62.67" width="3.73" height="3.73" fill="#d2d0cd"/>
<rect x="465.67" y="62.67" width="3.73" height="3.73" fill="#c6c4c1"/>
<rect x="469.00" y="62.67" width="3.73" height="3.73" fill="#bab8b5"/>
<rect x="472.33" y="62.67" width="3.73" height="3.73" fill="#b2b0ad"/>
<rect x="475.67" y="62.67" width="3.73" height="3.73" fill="#aeaca9"/>
<rect x="479.00" y="62.67" width="3.73" height="3.73" fill="#acaaa7"/>
<rect x="482.33" y="62.67" width="13.73" height="3.73" fill="#aaa8a5"/>
<rect x="495.67" y="62.67" width="3.73" height="3.73" fill="#a8a6a3"/>
<rect x="389.00" y="66.00" width="3.73" height="3.73" fill="#b0aeab"/>
<rect x="392.33" y="66.00" width="3.73" height="3.73" fill="#aaa8a5"/>
<rect x="395.67" y="66.00" width="3.73" height="3.73" fill="#a4a29f"/>
<rect x="399.00" y="66.00" width="3.73" height="3.73" fill="#9e9c99"/>
<rect x="402.33" y="66.00" width="3.73" height="3.73" fill="#9c9a97"/>
<rect x="405.67" y="66.00" width="3.73" height="3.73" fill="#9a9895"/>
<rect x="409.00" y="66.00" width="3.73" height="3.73" fill="#969491"/>
<rect x="412.33" y="66.00" width="3.73" height="3.73" fill="#8e8c89"/>
<rect x="415.67" y="66.00" width="3.73" height="3.73" fill="#807e7b"/>
<rect x="419.00" y="66.00" width="3.73" height="3.73" fill="#6e6c69"/>
<rect x="422.33" y="66.00" width="3.73" height="3.73" fill="#5e5c59"/>
<rect x="425.67" y="66.00" width="7.07" height="3.73" fill="#54524f"/>
<rect x="432.33" y="66.00" width="3.73" height="3.73" fill="#605e5b"/>
<rect x="435.67" y="66.00" width="3.73" height="3.73" fill="#767471"/>
<rect x="439.00" y="66.00" width="3.73" height="3.73" fill="#92908d"/>
<rect x="442.33" y="66.00" width="3.73" height="3.73" fill="#b0aeab"/>
<rect x="445.67" y="66.00" width="3.73" height="3.73" fill="#c8c6c3"/>
<rect x="449.00" y="66.00" width="3.73" height="3.73" fill="#d6d4d1"/>
<rect x="452.33" y="66.00" width="3.73" height="3.73" fill="#dad8d5"/>
<rect x="455.67" y="66.00" width="3.73" height="3.73" fill="#d8d6d3"/>
<rect x="459.00" y="66.00" width="3.73" height="3.73" fill="#d0cecb"/>
<rect x="462.33" y="66.00" width="3.73" height="3.73" fill="#c6c4c1"/>
<rect x="465.67" y="66.00" width="3.73" height="3.73" fill="#bcbab7"/>
<rect x="469.00" y="66.00" width="3.73" height="3.73" fill="#b4b2af"/>
<rect x="472.33" y="66.00" width="3.73" height="3.73" fill="#b0aeab"/>
<rect x="475.67" y="66.00" width="3.73" height="3.73" fill="#acaaa7"/>
<rect x="479.00" y="66.00" width="17.07" height="3.73" fill="#aaa8a5"/>
<rect x="495.67" y="66.00" width="3.73" height="3.73" fill="#a8a6a3"/>
<rect x="389.00" y="69.33" width="3.73" height="3.73" fill="#b0aeab"/>
<rect x="392.33" y="69.33" width="3.73" height="3.73" fill="#aaa8a5"/>
<rect x="395.67" y="69.33" width="3.73" height="3.73" fill="#a4a29f"/>
<rect x="399.00" y="69.33" width="3.73" height="3.73" fill="#9e9c99"/>
<rect x="402.33" y="69.33" width="3.73" height="3.73" fill="#9c9a97"/>
<rect x="405.67" y="69.33" width="3.73" height="3.73" fill="#9a9895"/>
<rect x="409.00" y="69.33" width="3.73" height="3.73" fill="#92908d"/>
<rect x="412.33" y="69.33" width="3.73" height="3.73" fill="#868481"/>
<rect x="415.67" y="69.33" width="3.73" height="3.73" fill="#706e6b"/>
<rect x="419.00" y="69.33" width="3.73" height="3.73" fill="#585653"/>
<rect x="422.33" y="69.33" width="3.73" height="3.73" fill="#44423f"/>
<rect x="425.67" y="69.33" width="3.73" height="3.73" fill="#363431"/>
<rect x="429.00" y="69.33" width="3.73" height="3.73" fill="#34322f"/>
<rect x="432.33" y="69.33" width="3.73" height="3.73" fill="#3e3c39"/>
<rect x="435.67" y="69.33" width="3.73" height="3.73" fill="#52504d"/>
<rect x="439.00" y="69.33" width="3.73" height="3.73" fill="#706e6b"/>
<rect x="442.33" y="69.33" width="3.73" height="3.73" fill="#908e8b"/>
<rect x="445.67" y="69.33" width="3.73" height="3.73" fill="#aeaca9"/>
<rect x="449.00" y="69.33" width="3.73" height="3.73" fill="#c0bebb"/>
<rect x="452.33" y="69.33" width="7.07" height="3.73" fill="#c6c4c1"/>
<rect x="459.00" y="69.33" width="3.73" height="3.73" fill="#c2c0bd"/>
<rect x="462.33" y="69.33" width="3.73" height="3.73" fill="#bab8b5"/>
<rect x="465.67" y="69.33" width="3.73" height="3.73" fill="#b4b2af"/>
<rect x="469.00" y="69.33" width="3.73" height="3.73" fill="#b0aeab"/>
<rect x="472.33" y="69.33" width="3.73" height="3.73" fill="#acaaa7"/>
<rect x="475.67" y="69.33" width="20.40" height="3.73" fill="#aaa8a5"/>
<rect x="495.67" y="69.33" width="3.73" height="3.73" fill="#a8a6a3"/>
<rect x="389.00" y="72.67" width="3.73" height="3.73" fill="#aeaca9"/>
<rect x="392.33" y="72.67" width="3.73" height="3.73" fill="#aaa8a5"/>
<rect x="395.67" y="72.67" width="3.73" height="3.73" fill="#a4a29f"/>
<rect x="399.00" y="72.67" width="3.73" height="3.73" fill="#9e9c99"/>
<rect x="402.33" y="72.67" width="3.73" height="3.73" fill="#9c9a97"/>
<rect x="405.67" y="72.67" width="3.73" height="3.73" fill="#989693"/>
<rect x="409.00" y="72.67" width="3.73" height="3.73" fill="#8e8c89"/>
<rect x="412.33" y="72.67" width="3.73" height="3.73" fill="#7c7a77"/>
<rect x="415.67" y="72.67" width="3.73" height="3.73" fill="#62605d"/>
<rect x="419.00" y="72.67" width="3.73" height="3.73" fill="#464441"/>
<rect x="422.33" y="72.67" width="3.73" height="3.73" fill="#2e2c29"/>
<rect x="425.67" y="72.67" width="3.73" height="3.73" fill="#201e1b"/>
<rect x="429.00" y="72.67" width="3.73" height="3.73" fill="#1c1a17"/>
<rect x="432.33" y="72.67" width="3.73" height="3.73" fill="#24221f"/>
<rect x="435.67" y="72.67" width="3.73" height="3.73" fill="#34322f"/>
<rect x="439.00" y="72.67" width="3.73" height="3.73" fill="#52504d"/>
<rect x="442.33" y="72.67" width="3.73" height="3.73" fill="#74726f"/>
<rect x="445.67" y="72.67" width="3.73" height="3.73" fill="#94928f"/>
<rect x="449.00" y="72.67" width="3.73" height="3.73" fill="#acaaa7"/>
<rect x="452.33" y="72.67" width="3.73" height="3.73" fill="#b6b4b1"/>
<rect x="455.67" y="72.67" width="3.73" height="3.73" fill="#b8b6b3"/>
<rect x="459.00" y="72.67" width="3.73" height="3.73" fill="#b6b4b1"/>
<rect x="462.33" y="72.67" width="3.73" height="3.73" fill="#b2b0ad"/>
<rect x="465.67" y="72.67" width="3.73" height="3.73" fill="#aeaca9"/>
<rect x="469.00" y="72.67" width="3.73" height="3.73" fill="#acaaa7"/>
<rect x="472.33" y="72.67" width="23.73" height="3.73" fill="#aaa8a5"/>
<rect x="495.67" y="72.67" width="3.73" height="3.73" fill="#a8a6a3"/>
<rect x="389.00" y="76.00" width="3.73" height="3.73" fill="#aeaca9"/>
<rect x="392.33" y="76.00" width="3.73" height="3.73" fill="#aaa8a5"/>
<rect x="395.67" y="76.00" width="3.73" height="3.73" fill="#a4a29f"/>
<rect x="399.00" y="76.00" width="3.73" height="3.73" fill="#a09e9b"/>
<rect x="402.33" y="76.00" width="3.73" height="3.73" fill="#9c9a97"/>
<rect x="405.67" y="76.00" width="3.73" height="3.73" fill="#989693"/>
<rect x="409.00" y="76.00" width="3.73" height="3.73" fill="#8c8a87"/>
<rect x="412.33" y="76.00" width="3.73" height="3.73" fill="#767471"/>
<rect x="415.67" y="76.00" width="3.73" height="3.73" fill="#585653"/>
<rect x="419.00" y="76.00" width="3.73" height="3.73" fill="#383633"/>
<rect x="422.33" y="76.00" width="3.73" height="3.73" fill="#201e1b"/>
<rect x="425.67" y="76.00" width="3.73" height="3.73" fill="#12100d"/>
<rect x="429.00" y="76.00" width="3.73" height="3.73" fill="#100e0b"/>
<rect x="432.33" y="76.00" width="3.73" height="3.73" fill="#14120f"/>
<rect x="435.67" y="76.00" width="3.73" height="3.73" fill="#22201d"/>
<rect x="439.00" y="76.00" width="3.73" height="3.73" fill="#3e3c39"/>
<rect x="442.33" y="76.00" width="3.73" height="3.73" fill="#605e5b"/>
<rect x="445.67" y="76.00" width="3.73" height="3.73" fill="#82807d"/>
<rect x="449.00" y="76.00" width="3.73" height="3.73" fill="#9c9a97"/>
<rect x="452.33" y="76.00" width="3.73" height="3.73" fill="#a8a6a3"/>
<rect x="455.67" y="76.00" width="3.73" height="3.73" fill="#aeaca9"/>
<rect x="459.00" y="76.00" width="7.07" height="3.73" fill="#acaaa7"/>
<rect x="465.67" y="76.00" width="3.73" height="3.73" fill="#aaa8a5"/>
<rect x="469.00" y="76.00" width="10.40" height="3.73" fill="#a8a6a3"/>
<rect x="479.00" y="76.00" width="17.07" height="3.73" fill="#aaa8a5"/>
<rect x="495.67" y="76.00" width="3.73" height="3.73" fill="#a8a6a3"/>
<rect x="389.00" y="79.33" width="3.73" height="3.73" fill="#aeaca9"/>
<rect x="392.33" y="79.33" width="3.73" height="3.73" fill="#acaaa7"/>
<rect x="395.67" y="79.33" width="3.73" height="3.73" fill="#a4a29f"/>
<rect x="399.00" y="79.33" width="3.73" height="3.73" fill="#a09e9b"/>
<rect x="402.33" y="79.33" width="3.73" height="3.73" fill="#9c9a97"/>
<rect x="405.67" y="79.33" width="3.73" height="3.73" fill="#989693"/>
<rect x="409.00" y="79.33" width="3.73" height="3.73" fill="#8a8885"/>
<rect x="412.33" y="79.33" width="3.73" height="3.73" fill="#74726f"/>
<rect x="415.67" y="79.33" width="3.73" height="3.73" fill="#54524f"/>
<rect x="419.00" y="79.33" width="3.73" height="3.73" fill="#32302d"/>
<rect x="422.33" y="79.33" width="3.73" height="3.73" fill="#1a1815"/>
<rect x="425.67" y="79.33" width="3.73" height="3.73" fill="#0e0c09"/>
<rect x="429.00" y="79.33" width="3.73" height="3.73" fill="#0c0a07"/>
<rect x="432.33" y="79.33" width="3.73" height="3.73" fill="#0e0c09"/>
<rect x="435.67" y="79.33" width="3.73" height="3.73" fill="#1a1815"/>
<rect x="439.00" y="79.33" width="3.73" height="3.73" fill="#32302d"/>
<rect x="442.33" y="79.33" width="3.73" height="3.73" fill="#565451"/>
<rect x="445.67" y="79.33" width="3.73" height="3.73" fill="#787673"/>
<rect x="449.00" y="79.33" width="3.73" height="3.73" fill="#92908d"/>
<rect x="452.33" y="79.33" width="3.73" height="3.73" fill="#a2a09d"/>
<rect x="455.67" y="79.33" width="3.73" height="3.73" fill="#a6a4a1"/>
<rect x="459.00" y="79.33" width="7.07" height="3.73" fill="#a8a6a3"/>
<rect x="465.67" y="79.33" width="7.07" height="3.73" fill="#a6a4a1"/>
<rect x="472.33" y="79.33" width="10.40" height="3.73" fill="#a8a6a3"/>
<rect x="482.33" y="79.33" width="13.73" height="3.73" fill="#aaa8a5"/>
<rect x="495.67" y="79.33" width="3.73" height="3.73" fill="#a8a6a3"/>
<rect x="389.00" y="82.67" width="3.73" height="3.73" fill="#aeaca9"/>
<rect x="392.33" y="82.67" width="3.73" height="3.73" fill="#acaaa7"/>
<rect x="395.67" y="82.67" width="3.73" height="3.73" fill="#a4a29f"/>
<rect x="399.00" y="82.67" width="3.73" height="3.73" fill="#a09e9b"/>
<rect x="402.33" y="82.67" width="3.73" height="3.73" fill="#9c9a97"/>
<rect x="405.67" y="82.67" width="3.73" height="3.73" fill="#989693"/>
<rect x="409.00" y="82.67" width="3.73" height="3.73" fill="#8c8a87"/>
<rect x="412.33" y="82.67" width="3.73" height="3.73" fill="#74726f"/>
<rect x="415.67" y="82.67" width="3.73" height="3.73" fill="#54524f"/>
<rect x="419.00" y="82.67" width="3.73" height="3.73" fill="#34322f"/>
<rect x="422.33" y="82.67" width="3.73" height="3.73" fill="#1c1a17"/>
<rect x="425.67" y="82.67" width="3.73" height="3.73" fill="#0e0c09"/>
<rect x="429.00" y="82.67" width="3.73" height="3.73" fill="#0c0a07"/>
<rect x="432.33" y="82.67" width="3.73" height="3.73" fill="#100e0b"/>
<rect x="435.67" y="82.67" width="3.73" height="3.73" fill="#1a1815"/>
<rect x="439.00" y="82.67" width="3.73" height="3.73" fill="#32302d"/>
<rect x="442.33" y="82.67" width="3.73" height="3.73" fill="#54524f"/>
<rect x="445.67" y="82.67" width="3.73" height="3.73" fill="#767471"/>
<rect x="449.00" y="82.67" width="3.73" height="3.73" fill="#908e8b"/>
<rect x="452.33" y="82.67" width="3.73" height="3.73" fill="#9e9c99"/>
<rect x="455.67" y="82.67" width="3.73" height="3.73" fill="#a4a29f"/>
<rect x="459.00" y="82.67" width="13.73" height="3.73" fill="#a6a4a1"/>
<rect x="472.33" y="82.67" width="10.40" height="3.73" fill="#a8a6a3"/>
<rect x="482.33" y="82.67" width="13.73" height="3.73" fill="#aaa8a5"/>
<rect x="495.67" y="82.67" width="3.73" height="3.73" fill="#a8a6a3"/>
<rect x="389.00" y="86.00" width="3.73" height="3.73" fill="#aeaca9"/>
<rect x="392.33" y="86.00" width="3.73" height="3.73" fill="#acaaa7"/>
<rect x="395.67" y="86.00" width="3.73" height="3.73" fill="#a4a29f"/>
<rect x="399.00" y="86.00" width="3.73" height="3.73" fill="#a09e9b"/>
<rect x="402.33" y="86.00" width="3.73" height="3.73" fill="#9e9c99"/>
<rect x="405.67" y="86.00" width="3.73" height="3.73" fill="#9a9895"/>
<rect x="409.00" y="86.00" width="3.73" height="3.73" fill="#8e8c89"/>
<rect x="412.33" y="86.00" width="3.73" height="3.73" fill="#7a7875"/>
<rect x="415.67" y="86.00" width="3.73" height="3.73" fill="#5e5c59"/>
<rect x="419.00" y="86.00" width="3.73" height="3.73" fill="#3e3c39"/>
<rect x="422.33" y="86.00" width="3.73" height="3.73" fill="#24221f"/>
<rect x="425.67" y="86.00" width="3.73" height="3.73" fill="#161411"/>
<rect x="429.00" y="86.00" width="3.73" height="3.73" fill="#12100d"/>
<rect x="432.33" y="86.00" width="3.73" height="3.73" fill="#161411"/>
<rect x="435.67" y="86.00" width="3.73" height="3.73" fill="#22201d"/>
<rect x="439.00" y="86.00" width="3.73" height="3.73" fill="#3c3a37"/>
<rect x="442.33" y="86.00" width="3.73" height="3.73" fill="#5c5a57"/>
<rect x="445.67" y="86.00" width="3.73" height="3.73" fill="#7a7875"/>
<rect x="449.00" y="86.00" width="3.73" height="3.73" fill="#92908d"/>
<rect x="452.33" y="86.00" width="3.73" height="3.73" fill="#9e9c99"/>
<rect x="455.67" y="86.00" width="3.73" height="3.73" fill="#a2a09d"/>
<rect x="459.00" y="86.00" width="7.07" height="3.73" fill="#a4a29f"/>
<rect x="465.67" y="86.00" width="7.07" height="3.73" fill="#a6a4a1"/>
<rect x="472.33" y="86.00" width="10.40" height="3.73" fill="#a8a6a3"/>
<rect x="482.33" y="86.00" width="13.73" height="3.73" fill="#aaa8a5"/>
<rect x="495.67" y="86.00" width="3.73" height="3.73" fill="#a8a6a3"/>
<rect x="389.00" y="89.33" width="3.73" height="3.73" fill="#aeaca9"/>
<rect x="392.33" y="89.33" width="3.73" height="3.73" fill="#acaaa7"/>
<rect x="395.67" y="89.33" width="3.73" height="3.73" fill="#a4a29f"/>
<rect x="399.00" y="89.33" width="3.73" height="3.73" fill="#a09e9b"/>
<rect x="402.33" y="89.33" width="3.73" height="3.73" fill="#9e9c99"/>
<rect x="405.67" y="89.33" width="3.73" height="3.73" fill="#9c9a97"/>
<rect x="409.00" y="89.33" width="3.73" height="3.73" fill="#94928f"/>
<rect x="412.33" y="89.33" width="3.73" height="3.73" fill="#84827f"/>
<rect x="415.67" y="89.33" width="3.73" height="3.73" fill="#6a6865"/>
<rect x="419.00" y="89.33" width="3.73" height="3.73" fill="#4e4c49"/>
<rect x="422.33" y="89.33" width="3.73" height="3.73" fill="#363431"/>
<rect x="425.67" y="89.33" width="3.73" height="3.73" fill="#262421"/>
<rect x="429.00" y="89.33" width="3.73" height="3.73" fill="#22201d"/>
<rect x="432.33" y="89.33" width="3.73" height="3.73" fill="#262421"/>
<rect x="435.67" y="89.33" width="3.73" height="3.73" fill="#34322f"/>
<rect x="439.00" y="89.33" width="3.73" height="3.73" fill="#4c4a47"/>
<rect x="442.33" y="89.33" width="3.73" height="3.73" fill="#686663"/>
<rect x="445.67" y="89.33" width="3.73" height="3.73" fill="#84827f"/>
<rect x="449.00" y="89.33" width="3.73" height="3.73" fill="#969491"/>
<rect x="452.33" y="89.33" width="3.73" height="3.73" fill="#a09e9b"/>
<rect x="455.67" y="89.33" width="10.40" height="3.73" fill="#a4a29f"/>
<rect x="465.67" y="89.33" width="7.07" height="3.73" fill="#a6a4a1"/>
<rect x="472.33" y="89.33" width="7.07" height="3.73" fill="#a8a6a3"/>
<rect x="479.00" y="89.33" width="17.07" height="3.73" fill="#aaa8a5"/>
<rect x="495.67" y="89.33" width="3.73" height="3.73" fill="#a8a6a3"/>
<rect x="389.00" y="92.67" width="3.73" height="3.73" fill="#b0aeab"/>
<rect x="392.33" y="92.67" width="3.73" height="3.73" fill="#acaaa7"/>
<rect x="395.67" y="92.67" width="3.73" height="3.73" fill="#a6a4a1"/>
<rect x="399.00" y="92.67" width="3.73" height="3.73" fill="#a2a09d"/>
<rect x="402.33" y="92.67" width="3.73" height="3.73" fill="#a09e9b"/>
<rect x="405.67" y="92.67" width="3.73" height="3.73" fill="#9e9c99"/>
<rect x="409.00" y="92.67" width="3.73" height="3.73" fill="#989693"/>
<rect x="412.33" y="92.67" width="3.73" height="3.73" fill="#8c8a87"/>
<rect x="415.67" y="92.67" width="3.73" height="3.73" fill="#7a7875"/>
<rect x="419.00" y="92.67" width="3.73" height="3.73" fill="#64625f"/>
<rect x="422.33" y="92.67" width="3.73" height="3.73" fill="#504e4b"/>
<rect x="425.67" y="92.67" width="3.73" height="3.73" fill="#403e3b"/>
<rect x="429.00" y="92.67" width="3.73" height="3.73" fill="#3c3a37"/>
<rect x="432.33" y="92.67" width="3.73" height="3.73" fill="#403e3b"/>
<rect x="435.67" y="92.67" width="3.73" height="3.73" fill="#4e4c49"/>
<rect x="439.00" y="92.67" width="3.73" height="3.73" fill="#62605d"/>
<rect x="442.33" y="92.67" width="3.73" height="3.73" fill="#7a7875"/>
<rect x="445.67" y="92.67" width="3.73" height="3.73" fill="#8e8c89"/>
<rect x="449.00" y="92.67" width="3.73" height="3.73" fill="#9c9a97"/>
<rect x="452.33" y="92.67" width="3.73" height="3.73" fill="#a2a09d"/>
<rect x="455.67" y="92.67" width="7.07" height="3.73" fill="#a4a29f"/>
<rect x="462.33" y="92.67" width="7.07" height="3.73" fill="#a6a4a1"/>
<rect x="469.00" y="92.67" width="10.40" height="3.73" fill="#a8a6a3"/>
<rect x="479.00" y="92.67" width="20.40" height="3.73" fill="#aaa8a5"/>
<rect x="389.00" y="96.00" width="3.73" height="3.73" fill="#b0aeab"/>
<rect x="392.33" y="96.00" width="3.73" height="3.73" fill="#acaaa7"/>
<rect x="395.67" y="96.00" width="3.73" height="3.73" fill="#a6a4a1"/>
<rect x="399.00" y="96.00" width="7.07" height="3.73" fill="#a2a09d"/>
<rect x="405.67" y="96.00" width="3.73" height="3.73" fill="#a09e9b"/>
<rect x="409.00" y="96.00" width="3.73" height="3.73" fill="#9c9a97"/>
<rect x="412.33" y="96.00" width="3.73" height="3.73" fill="#969491"/>
<rect x="415.67" y="96.00" width="3.73" height="3.73" fill="#8a8885"/>
<rect x="419.00" y="96.00" width="3.73" height="3.73" fill="#7a7875"/>
<rect x="422.33" y="96.00" width="3.73" height="3.73" fill="#6c6a67"/>
<rect x="425.67" y="96.00" width="3.73" height="3.73" fill="#605e5b"/>
<rect x="429.00" y="96.00" width="3.73" height="3.73" fill="#5a5855"/>
<rect x="432.33" y="96.00" width="3.73" height="3.73" fill="#5e5c59"/>
<rect x="435.67" y="96.00" width="3.73" height="3.73" fill="#6a6865"/>
<rect x="439.00" y="96.00" width="3.73" height="3.73" fill="#7a7875"/>
<rect x="442.33" y="96.00" width="3.73" height="3.73" fill="#8a8885"/>
<rect x="445.67" y="96.00" width="3.73" height="3.73" fill="#989693"/>
<rect x="449.00" y="96.00" width="3.73" height="3.73" fill="#a09e9b"/>
<rect x="452.33" y="96.00" width="3.73" height="3.73" fill="#a4a29f"/>
<rect x="455.67" y="96.00" width="10.40" height="3.73" fill="#a6a4a1"/>
<rect x="465.67" y="96.00" width="10.40" height="3.73" fill="#a8a6a3"/>
<rect x="475.67" y="96.00" width="23.73" height="3.73" fill="#aaa8a5"/>
<rect x="389.00" y="99.33" width="3.73" height="3.73" fill="#b0aeab"/>
<rect x="392.33" y="99.33" width="3.73" height="3.73" fill="#acaaa7"/>
<rect x="395.67" y="99.33" width="3.73" height="3.73" fill="#a6a4a1"/>
<rect x="399.00" y="99.33" width="3.73" height="3.73" fill="#a4a29f"/>
<rect x="402.33" y="99.33" width="7.07" height="3.73" fill="#a2a09d"/>
<rect x="409.00" y="99.33" width="3.73" height="3.73" fill="#a09e9b"/>
<rect x="412.33" y="99.33" width="3.73" height="3.73" fill="#9c9a97"/>
<rect x="415.67" y="99.33" width="3.73" height="3.73" fill="#969491"/>
<rect x="419.00" y="99.33" width="3.73" height="3.73" fill="#8e8c89"/>
<rect x="422.33" y="99.33" width="3.73" height="3.73" fill="#84827f"/>
<rect x="425.67" y="99.33" width="3.73" height="3.73" fill="#7c7a77"/>
<rect x="429.00" y="99.33" width="3.73" height="3.73" fill="#7a7875"/>
<rect x="432.33" y="99.33" width="3.73" height="3.73" fill="#7c7a77"/>
<rect x="435.67" y="99.33" width="3.73" height="3.73" fill="#84827f"/>
<rect x="439.00" y="99.33" width="3.73" height="3.73" fill="#8e8c89"/>
<rect x="442.33" y="99.33" width="3.73" height="3.73" fill="#989693"/>
<rect x="445.67" y="99.33" width="3.73" height="3.73" fill="#a09e9b"/>
<rect x="449.00" y="99.33" width="3.73" height="3.73" fill="#a4a29f"/>
<rect x="452.33" y="99.33" width="7.07" height="3.73" fill="#a6a4a1"/>
<rect x="459.00" y="99.33" width="10.40" height="3.73" fill="#a8a6a3"/>
<rect x="469.00" y="99.33" width="10.40" height="3.73" fill="#aaa8a5"/>
<rect x="479.00" y="99.33" width="13.73" height="3.73" fill="#acaaa7"/>
<rect x="492.33" y="99.33" width="7.07" height="3.73" fill="#aaa8a5"/>
<rect x="389.00" y="102.67" width="3.73" height="3.73" fill="#b0aeab"/>
<rect x="392.33" y="102.67" width="3.73" height="3.73" fill="#aeaca9"/>
<rect x="395.67" y="102.67" width="3.73" height="3.73" fill="#a8a6a3"/>
<rect x="399.00" y="102.67" width="10.40" height="3.73" fill="#a4a29f"/>
<rect x="409.00" y="102.67" width="7.07" height="3.73" fill="#a2a09d"/>
<rect x="415.67" y="102.67" width="3.73" height="3.73" fill="#a09e9b"/>
<rect x="419.00" y="102.67" width="3.73" height="3.73" fill="#9c9a97"/>
<rect x="422.33" y="102.67" width="3.73" height="3.73" fill="#969491"/>
<rect x="425.67" y="102.67" width="3.73" height="3.73" fill="#94928f"/>
<rect x="429.00" y="102.67" width="3.73" height="3.73" fill="#92908d"/>
<rect x="432.33" y="102.67" width="3.73" height="3.73" fill="#94928f"/>
<rect x="435.67" y="102.67" width="3.73" height="3.73" fill="#989693"/>
<rect x="439.00" y="102.67" width="3.73" height="3.73" fill="#9e9c99"/>
<rect x="442.33" y="102.67" width="3.73" height="3.73" fill="#a2a09d"/>
<rect x="445.67" y="102.67" width="3.73" height="3.73" fill="#a6a4a1"/>
<rect x="449.00" y="102.67" width="13.73" height="3.73" fill="#a8a6a3"/>
<rect x="462.33" y="102.67" width="13.73" height="3.73" fill="#aaa8a5"/>
<rect x="475.67" y="102.67" width="20.40" height="3.73" fill="#acaaa7"/>
<rect x="495.67" y="102.67" width="3.73" height="3.73" fill="#aaa8a5"/>
<rect x="389.00" y="106.00" width="3.73" height="3.73" fill="#b0aeab"/>
<rect x="392.33" y="106.00" width="3.73" height="3.73" fill="#aeaca9"/>
<rect x="395.67" y="106.00" width="3.73" height="3.73" fill="#a8a6a3"/>
<rect x="399.00" y="106.00" width="3.73" height="3.73" fill="#a6a4a1"/>
<rect x="402.33" y="106.00" width="20.40" height="3.73" fill="#a4a29f"/>
<rect x="422.33" y="106.00" width="3.73" height="3.73" fill="#a2a09d"/>
<rect x="425.67" y="106.00" width="7.07" height="3.73" fill="#a09e9b"/>
<rect x="432.33" y="106.00" width="3.73" height="3.73" fill="#a2a09d"/>
<rect x="435.67" y="106.00" width="3.73" height="3.73" fill="#a4a29f"/>
<rect x="439.00" y="106.00" width="3.73" height="3.73" fill="#a6a4a1"/>
<rect x="442.33" y="106.00" width="3.73" height="3.73" fill="#a8a6a3"/>
<rect x="445.67" y="106.00" width="20.40" height="3.73" fill="#aaa8a5"/>
<rect x="465.67" y="106.00" width="17.07" height="3.73" fill="#acaaa7"/>
<rect x="482.33" y="106.00" width="7.07" height="3.73" fill="#aeaca9"/>
<rect x="489.00" y="106.00" width="10.40" height="3.73" fill="#acaaa7"/>
<rect x="389.00" y="109.33" width="3.73" height="3.73" fill="#b0aeab"/>
<rect x="392.33" y="109.33" width="3.73" height="3.73" fill="#aeaca9"/>
<rect x="395.67" y="109.33" width="3.73" height="3.73" fill="#aaa8a5"/>
<rect x="399.00" y="109.33" width="17.07" height="3.73" fill="#a6a4a1"/>
<rect x="415.67" y="109.33" width="20.40" height="3.73" fill="#a8a6a3"/>
<rect x="435.67" y="109.33" width="10.40" height="3.73" fill="#aaa8a5"/>
<rect x="445.67" y="109.33" width="30.40" height="3.73" fill="#acaaa7"/>
<rect x="475.67" y="109.33" width="17.07" height="3.73" fill="#aeaca9"/>
<rect x="492.33" y="109.33" width="7.07" height="3.73" fill="#acaaa7"/>
<rect x="389.00" y="112.67" width="3.73" height="3.73" fill="#b2b0ad"/>
<rect x="392.33" y="112.67" width="3.73" height="3.73" fill="#aeaca9"/>
<rect x="395.67" y="112.67" width="3.73" height="3.73" fill="#aaa8a5"/>
<rect x="399.00" y="112.67" width="3.73" height="3.73" fill="#a8a6a3"/>
<rect x="402.33" y="112.67" width="7.07" height="3.73" fill="#a6a4a1"/>
<rect x="409.00" y="112.67" width="13.73" height="3.73" fill="#a8a6a3"/>
<rect x="422.33" y="112.67" width="13.73" height="3.73" fill="#aaa8a5"/>
<rect x="435.67" y="112.67" width="37.07" height="3.73" fill="#acaaa7"/>
<rect x="472.33" y="112.67" width="20.40" height="3.73" fill="#aeaca9"/>
<rect x="492.33" y="112.67" width="7.07" height="3.73" fill="#acaaa7"/>
</g>
<path d="M450.69 62.67L450.83 63.12L450.96 63.57L451.08 64.02L451.19 64.48L451.29 64.95L451.39 65.42L451.48 65.89L451.56 66.36L451.63 66.84L451.69 67.32L451.75 67.80L451.80 68.29L451.83 68.77L451.86 69.26L451.88 69.75L451.90 70.24L451.90 70.72L451.90 71.21L451.88 71.70L451.86 72.19L451.83 72.68L451.79 73.16L451.74 73.65L451.69 74.13L451.62 74.61L451.55 75.09L451.47 75.56L451.38 76.03L451.28 76.50L451.18 76.96L451.07 77.42L450.94 77.88L450.81 78.33L450.68 78.77L450.53 79.21L450.38 79.65L450.22 80.08L450.05 80.50L449.88 80.92L449.69 81.32M445.06 87.48L444.20 88.09L443.31 88.61L442.39 89.03L441.46 89.35L440.52 89.57L439.56 89.68L438.61 89.69L437.65 89.60L436.70 89.40L435.77 89.09L434.85 88.69L433.96 88.19L433.09 87.59L432.26 86.90L431.46 86.12L430.71 85.25L430.00 84.31L429.34 83.29L428.73 82.20L428.18 81.05L427.69 79.84L427.26 78.58L426.90 77.28L426.60 75.94L426.37 74.57L426.21 73.18L426.12 71.78L426.10 70.37L426.15 68.96L426.28 67.56L426.47 66.18L426.73 64.83L427.06 63.51L427.46 62.22L427.91 60.99L428.43 59.80L429.01 58.68L429.64 57.62L430.33 56.64L431.06 55.73M440.35 51.80L440.55 51.84L440.75 51.88L440.95 51.92L441.15 51.97L441.35 52.02L441.55 52.07L441.75 52.14L441.95 52.20L442.14 52.27L442.34 52.35L442.53 52.43L442.73 52.51L442.92 52.60L443.11 52.69L443.31 52.79L443.50 52.89L443.69 53.00L443.87 53.11L444.06 53.22L444.25 53.34L444.43 53.47L444.61 53.59L444.80 53.73L444.98 53.86L445.16 54.00L445.33 54.15L445.51 54.30L445.68 54.45L445.86 54.60L446.03 54.77L446.19 54.93L446.36 55.10L446.53 55.27L446.69 55.45L446.85 55.63L447.01 55.81L447.17 56.00L447.33 56.19L447.48 56.38L447.63 56.58" fill="none" stroke="#7270bd" stroke-width="1.6" stroke-dasharray="3.8 3.6" stroke-linecap="round"/>
<path d="M437.65 51.80L433.26 59.42L432.38 54.94L428.86 52.03Z" fill="#7270bd"/>
<path d="M444.45 87.92L446.33 78.65L448.65 82.64L453.06 84.00Z" fill="#7270bd"/>
<circle cx="449.22" cy="59.11" r="5.2" fill="none" stroke="#7270bd" stroke-width="1.4"/><path d="M445.54 55.43L452.90 62.78M452.90 55.43L445.54 62.78" stroke="#7270bd" stroke-width="1.3"/>
<text transform="translate(411.69 26.60) scale(1.0524 1)" font-size="17.5" fill="#000">Φ = -90°</text>
<g shape-rendering="crispEdges">
<rect x="389.00" y="120.40" width="70.40" height="3.74" fill="#b8b6b3"/>
<rect x="459.00" y="120.40" width="10.40" height="3.74" fill="#bab8b5"/>
<rect x="469.00" y="120.40" width="3.73" height="3.74" fill="#bcbab7"/>
<rect x="472.33" y="120.40" width="7.07" height="3.74" fill="#bebcb9"/>
<rect x="479.00" y="120.40" width="7.07" height="3.74" fill="#c0bebb"/>
<rect x="485.67" y="120.40" width="7.07" height="3.74" fill="#c2c0bd"/>
<rect x="492.33" y="120.40" width="7.07" height="3.74" fill="#c0bebb"/>
<rect x="389.00" y="123.74" width="70.40" height="3.74" fill="#b8b6b3"/>
<rect x="459.00" y="123.74" width="10.40" height="3.74" fill="#bab8b5"/>
<rect x="469.00" y="123.74" width="3.73" height="3.74" fill="#bcbab7"/>
<rect x="472.33" y="123.74" width="7.07" height="3.74" fill="#bebcb9"/>
<rect x="479.00" y="123.74" width="3.73" height="3.74" fill="#c0bebb"/>
<rect x="482.33" y="123.74" width="13.73" height="3.74" fill="#c2c0bd"/>
<rect x="495.67" y="123.74" width="3.73" height="3.74" fill="#c0bebb"/>
<rect x="389.00" y="127.08" width="70.40" height="3.74" fill="#b8b6b3"/>
<rect x="459.00" y="127.08" width="7.07" height="3.74" fill="#bab8b5"/>
<rect x="465.67" y="127.08" width="7.07" height="3.74" fill="#bcbab7"/>
<rect x="472.33" y="127.08" width="3.73" height="3.74" fill="#bebcb9"/>
<rect x="475.67" y="127.08" width="7.07" height="3.74" fill="#c0bebb"/>
<rect x="482.33" y="127.08" width="13.73" height="3.74" fill="#c2c0bd"/>
<rect x="495.67" y="127.08" width="3.73" height="3.74" fill="#c0bebb"/>
<rect x="389.00" y="130.42" width="70.40" height="3.74" fill="#b8b6b3"/>
<rect x="459.00" y="130.42" width="7.07" height="3.74" fill="#bab8b5"/>
<rect x="465.67" y="130.42" width="7.07" height="3.74" fill="#bcbab7"/>
<rect x="472.33" y="130.42" width="3.73" height="3.74" fill="#bebcb9"/>
<rect x="475.67" y="130.42" width="3.73" height="3.74" fill="#c0bebb"/>
<rect x="479.00" y="130.42" width="20.40" height="3.74" fill="#c2c0bd"/>
<rect x="389.00" y="133.76" width="70.40" height="3.74" fill="#b8b6b3"/>
<rect x="459.00" y="133.76" width="7.07" height="3.74" fill="#bab8b5"/>
<rect x="465.67" y="133.76" width="7.07" height="3.74" fill="#bcbab7"/>
<rect x="472.33" y="133.76" width="3.73" height="3.74" fill="#bebcb9"/>
<rect x="475.67" y="133.76" width="3.73" height="3.74" fill="#c0bebb"/>
<rect x="479.00" y="133.76" width="7.07" height="3.74" fill="#c2c0bd"/>
<rect x="485.67" y="133.76" width="7.07" height="3.74" fill="#c4c2bf"/>
<rect x="492.33" y="133.76" width="7.07" height="3.74" fill="#c2c0bd"/>
<rect x="389.00" y="137.10" width="20.40" height="3.74" fill="#b6b4b1"/>
<rect x="409.00" y="137.10" width="27.07" height="3.74" fill="#b8b6b3"/>
<rect x="435.67" y="137.10" width="10.40" height="3.74" fill="#b6b4b1"/>
<rect x="445.67" y="137.10" width="13.73" height="3.74" fill="#b8b6b3"/>
<rect x="459.00" y="137.10" width="7.07" height="3.74" fill="#bab8b5"/>
<rect x="465.67" y="137.10" width="7.07" height="3.74" fill="#bcbab7"/>
<rect x="472.33" y="137.10" width="3.73" height="3.74" fill="#bebcb9"/>
<rect x="475.67" y="137.10" width="3.73" height="3.74" fill="#c0bebb"/>
<rect x="479.00" y="137.10" width="7.07" height="3.74" fill="#c2c0bd"/>
<rect x="485.67" y="137.10" width="7.07" height="3.74" fill="#c4c2bf"/>
<rect x="492.33" y="137.10" width="7.07" height="3.74" fill="#c2c0bd"/>
<rect x="389.00" y="140.44" width="43.73" height="3.74" fill="#b6b4b1"/>
<rect x="432.33" y="140.44" width="17.07" height="3.74" fill="#b4b2af"/>
<rect x="449.00" y="140.44" width="7.07" height="3.74" fill="#b6b4b1"/>
<rect x="455.67" y="140.44" width="7.07" height="3.74" fill="#b8b6b3"/>
<rect x="462.33" y="140.44" width="3.73" height="3.74" fill="#bab8b5"/>
<rect x="465.67" y="140.44" width="7.07" height="3.74" fill="#bcbab7"/>
<rect x="472.33" y="140.44" width="3.73" height="3.74" fill="#bebcb9"/>
<rect x="475.67" y="140.44" width="3.73" height="3.74" fill="#c0bebb"/>
<rect x="479.00" y="140.44" width="3.73" height="3.74" fill="#c2c0bd"/>
<rect x="482.33" y="140.44" width="13.73" height="3.74" fill="#c4c2bf"/>
<rect x="495.67" y="140.44" width="3.73" height="3.74" fill="#c2c0bd"/>
<rect x="389.00" y="143.78" width="37.07" height="3.74" fill="#b4b2af"/>
<rect x="425.67" y="143.78" width="7.07" height="3.74" fill="#b2b0ad"/>
<rect x="432.33" y="143.78" width="3.73" height="3.74" fill="#b0aeab"/>
<rect x="435.67" y="143.78" width="13.73" height="3.74" fill="#aeaca9"/>
<rect x="449.00" y="143.78" width="3.73" height="3.74" fill="#b0aeab"/>
<rect x="452.33" y="143.78" width="3.73" height="3.74" fill="#b2b0ad"/>
<rect x="455.67" y="143.78" width="3.73" height="3.74" fill="#b4b2af"/>
<rect x="459.00" y="143.78" width="3.73" height="3.74" fill="#b6b4b1"/>
<rect x="462.33" y="143.78" width="3.73" height="3.74" fill="#b8b6b3"/>
<rect x="465.67" y="143.78" width="3.73" height="3.74" fill="#bab8b5"/>
<rect x="469.00" y="143.78" width="3.73" height="3.74" fill="#bcbab7"/>
<rect x="472.33" y="143.78" width="3.73" height="3.74" fill="#bebcb9"/>
<rect x="475.67" y="143.78" width="3.73" height="3.74" fill="#c0bebb"/>
<rect x="479.00" y="143.78" width="3.73" height="3.74" fill="#c2c0bd"/>
<rect x="482.33" y="143.78" width="13.73" height="3.74" fill="#c4c2bf"/>
<rect x="495.67" y="143.78" width="3.73" height="3.74" fill="#c2c0bd"/>
<rect x="389.00" y="147.12" width="3.73" height="3.74" fill="#b2b0ad"/>
<rect x="392.33" y="147.12" width="13.73" height="3.74" fill="#b0aeab"/>
<rect x="405.67" y="147.12" width="17.07" height="3.74" fill="#b2b0ad"/>
<rect x="422.33" y="147.12" width="3.73" height="3.74" fill="#b0aeab"/>
<rect x="425.67" y="147.12" width="3.73" height="3.74" fill="#acaaa7"/>
<rect x="429.00" y="147.12" width="3.73" height="3.74" fill="#aaa8a5"/>
<rect x="432.33" y="147.12" width="3.73" height="3.74" fill="#a6a4a1"/>
<rect x="435.67" y="147.12" width="3.73" height="3.74" fill="#a4a29f"/>
<rect x="439.00" y="147.12" width="7.07" height="3.74" fill="#a2a09d"/>
<rect x="445.67" y="147.12" width="3.73" height="3.74" fill="#a4a29f"/>
<rect x="449.00" y="147.12" width="3.73" height="3.74" fill="#a6a4a1"/>
<rect x="452.33" y="147.12" width="3.73" height="3.74" fill="#aaa8a5"/>
<rect x="455.67" y="147.12" width="3.73" height="3.74" fill="#aeaca9"/>
<rect x="459.00" y="147.12" width="3.73" height="3.74" fill="#b2b0ad"/>
<rect x="462.33" y="147.12" width="3.73" height="3.74" fill="#b6b4b1"/>
<rect x="465.67" y="147.12" width="3.73" height="3.74" fill="#bab8b5"/>
<rect x="469.00" y="147.12" width="3.73" height="3.74" fill="#bcbab7"/>
<rect x="472.33" y="147.12" width="3.73" height="3.74" fill="#bebcb9"/>
<rect x="475.67" y="147.12" width="3.73" height="3.74" fill="#c0bebb"/>
<rect x="479.00" y="147.12" width="3.73" height="3.74" fill="#c2c0bd"/>
<rect x="482.33" y="147.12" width="13.73" height="3.74" fill="#c4c2bf"/>
<rect x="495.67" y="147.12" width="3.73" height="3.74" fill="#c2c0bd"/>
<rect x="389.00" y="150.45" width="7.07" height="3.74" fill="#aeaca9"/>
<rect x="395.67" y="150.45" width="7.07" height="3.74" fill="#acaaa7"/>
<rect x="402.33" y="150.45" width="10.40" height="3.74" fill="#aeaca9"/>
<rect x="412.33" y="150.45" width="7.07" height="3.74" fill="#b0aeab"/>
<rect x="419.00" y="150.45" width="3.73" height="3.74" fill="#aeaca9"/>
<rect x="422.33" y="150.45" width="3.73" height="3.74" fill="#aaa8a5"/>
<rect x="425.67" y="150.45" width="3.73" height="3.74" fill="#a4a29f"/>
<rect x="429.00" y="150.45" width="3.73" height="3.74" fill="#9e9c99"/>
<rect x="432.33" y="150.45" width="3.73" height="3.74" fill="#989693"/>
<rect x="435.67" y="150.45" width="3.73" height="3.74" fill="#969491"/>
<rect x="439.00" y="150.45" width="7.07" height="3.74" fill="#94928f"/>
<rect x="445.67" y="150.45" width="3.73" height="3.74" fill="#989693"/>
<rect x="449.00" y="150.45" width="3.73" height="3.74" fill="#9c9a97"/>
<rect x="452.33" y="150.45" width="3.73" height="3.74" fill="#a2a09d"/>
<rect x="455.67" y="150.45" width="3.73" height="3.74" fill="#a8a6a3"/>
<rect x="459.00" y="150.45" width="3.73" height="3.74" fill="#aeaca9"/>
<rect x="462.33" y="150.45" width="3.73" height="3.74" fill="#b4b2af"/>
<rect x="465.67" y="150.45" width="3.73" height="3.74" fill="#b8b6b3"/>
<rect x="469.00" y="150.45" width="3.73" height="3.74" fill="#bcbab7"/>
<rect x="472.33" y="150.45" width="3.73" height="3.74" fill="#bebcb9"/>
<rect x="475.67" y="150.45" width="3.73" height="3.74" fill="#c0bebb"/>
<rect x="479.00" y="150.45" width="3.73" height="3.74" fill="#c2c0bd"/>
<rect x="482.33" y="150.45" width="13.73" height="3.74" fill="#c4c2bf"/>
<rect x="495.67" y="150.45" width="3.73" height="3.74" fill="#c2c0bd"/>
<rect x="389.00" y="153.79" width="3.73" height="3.74" fill="#aaa8a5"/>
<rect x="392.33" y="153.79" width="13.73" height="3.74" fill="#a8a6a3"/>
<rect x="405.67" y="153.79" width="3.73" height="3.74" fill="#aaa8a5"/>
<rect x="409.00" y="153.79" width="10.40" height="3.74" fill="#acaaa7"/>
<rect x="419.00" y="153.79" width="3.73" height="3.74" fill="#a8a6a3"/>
<rect x="422.33" y="153.79" width="3.73" height="3.74" fill="#a09e9b"/>
<rect x="425.67" y="153.79" width="3.73" height="3.74" fill="#94928f"/>
<rect x="429.00" y="153.79" width="3.73" height="3.74" fill="#8c8a87"/>
<rect x="432.33" y="153.79" width="7.07" height="3.74" fill="#888683"/>
<rect x="439.00" y="153.79" width="3.73" height="3.74" fill="#8a8885"/>
<rect x="442.33" y="153.79" width="3.73" height="3.74" fill="#8c8a87"/>
<rect x="445.67" y="153.79" width="3.73" height="3.74" fill="#908e8b"/>
<rect x="449.00" y="153.79" width="3.73" height="3.74" fill="#969491"/>
<rect x="452.33" y="153.79" width="3.73" height="3.74" fill="#9e9c99"/>
<rect x="455.67" y="153.79" width="3.73" height="3.74" fill="#a6a4a1"/>
<rect x="459.00" y="153.79" width="3.73" height="3.74" fill="#acaaa7"/>
<rect x="462.33" y="153.79" width="3.73" height="3.74" fill="#b2b0ad"/>
<rect x="465.67" y="153.79" width="3.73" height="3.74" fill="#b8b6b3"/>
<rect x="469.00" y="153.79" width="3.73" height="3.74" fill="#bcbab7"/>
<rect x="472.33" y="153.79" width="3.73" height="3.74" fill="#bebcb9"/>
<rect x="475.67" y="153.79" width="3.73" height="3.74" fill="#c0bebb"/>
<rect x="479.00" y="153.79" width="3.73" height="3.74" fill="#c2c0bd"/>
<rect x="482.33" y="153.79" width="3.73" height="3.74" fill="#c4c2bf"/>
<rect x="485.67" y="153.79" width="7.07" height="3.74" fill="#c6c4c1"/>
<rect x="492.33" y="153.79" width="7.07" height="3.74" fill="#c4c2bf"/>
<rect x="389.00" y="157.13" width="3.73" height="3.74" fill="#a6a4a1"/>
<rect x="392.33" y="157.13" width="3.73" height="3.74" fill="#a4a29f"/>
<rect x="395.67" y="157.13" width="7.07" height="3.74" fill="#a2a09d"/>
<rect x="402.33" y="157.13" width="3.73" height="3.74" fill="#a4a29f"/>
<rect x="405.67" y="157.13" width="3.73" height="3.74" fill="#a6a4a1"/>
<rect x="409.00" y="157.13" width="3.73" height="3.74" fill="#a8a6a3"/>
<rect x="412.33" y="157.13" width="3.73" height="3.74" fill="#aaa8a5"/>
<rect x="415.67" y="157.13" width="3.73" height="3.74" fill="#a8a6a3"/>
<rect x="419.00" y="157.13" width="3.73" height="3.74" fill="#a09e9b"/>
<rect x="422.33" y="157.13" width="3.73" height="3.74" fill="#908e8b"/>
<rect x="425.67" y="157.13" width="3.73" height="3.74" fill="#7e7c79"/>
<rect x="429.00" y="157.13" width="3.73" height="3.74" fill="#72706d"/>
<rect x="432.33" y="157.13" width="3.73" height="3.74" fill="#74726f"/>
<rect x="435.67" y="157.13" width="3.73" height="3.74" fill="#7e7c79"/>
<rect x="439.00" y="157.13" width="3.73" height="3.74" fill="#888683"/>
<rect x="442.33" y="157.13" width="3.73" height="3.74" fill="#908e8b"/>
<rect x="445.67" y="157.13" width="3.73" height="3.74" fill="#969491"/>
<rect x="449.00" y="157.13" width="3.73" height="3.74" fill="#9c9a97"/>
<rect x="452.33" y="157.13" width="3.73" height="3.74" fill="#a2a09d"/>
<rect x="455.67" y="157.13" width="3.73" height="3.74" fill="#aaa8a5"/>
<rect x="459.00" y="157.13" width="3.73" height="3.74" fill="#b0aeab"/>
<rect x="462.33" y="157.13" width="3.73" height="3.74" fill="#b6b4b1"/>
<rect x="465.67" y="157.13" width="3.73" height="3.74" fill="#bab8b5"/>
<rect x="469.00" y="157.13" width="3.73" height="3.74" fill="#bcbab7"/>
<rect x="472.33" y="157.13" width="3.73" height="3.74" fill="#c0bebb"/>
<rect x="475.67" y="157.13" width="3.73" height="3.74" fill="#c2c0bd"/>
<rect x="479.00" y="157.13" width="7.07" height="3.74" fill="#c4c2bf"/>
<rect x="485.67" y="157.13" width="7.07" height="3.74" fill="#c6c4c1"/>
<rect x="492.33" y="157.13" width="7.07" height="3.74" fill="#c4c2bf"/>
<rect x="389.00" y="160.47" width="3.73" height="3.74" fill="#a2a09d"/>
<rect x="392.33" y="160.47" width="3.73" height="3.74" fill="#a09e9b"/>
<rect x="395.67" y="160.47" width="10.40" height="3.74" fill="#9e9c99"/>
<rect x="405.67" y="160.47" width="3.73" height="3.74" fill="#a2a09d"/>
<rect x="409.00" y="160.47" width="3.73" height="3.74" fill="#a4a29f"/>
<rect x="412.33" y="160.47" width="3.73" height="3.74" fill="#a6a4a1"/>
<rect x="415.67" y="160.47" width="3.73" height="3.74" fill="#a4a29f"/>
<rect x="419.00" y="160.47" width="3.73" height="3.74" fill="#94928f"/>
<rect x="422.33" y="160.47" width="3.73" height="3.74" fill="#7a7875"/>
<rect x="425.67" y="160.47" width="3.73" height="3.74" fill="#605e5b"/>
<rect x="429.00" y="160.47" width="3.73" height="3.74" fill="#54524f"/>
<rect x="432.33" y="160.47" width="3.73" height="3.74" fill="#5c5a57"/>
<rect x="435.67" y="160.47" width="3.73" height="3.74" fill="#72706d"/>
<rect x="439.00" y="160.47" width="3.73" height="3.74" fill="#8c8a87"/>
<rect x="442.33" y="160.47" width="3.73" height="3.74" fill="#9c9a97"/>
<rect x="445.67" y="160.47" width="3.73" height="3.74" fill="#a4a29f"/>
<rect x="449.00" y="160.47" width="3.73" height="3.74" fill="#aaa8a5"/>
<rect x="452.33" y="160.47" width="3.73" height="3.74" fill="#b0aeab"/>
<rect x="455.67" y="160.47" width="3.73" height="3.74" fill="#b4b2af"/>
<rect x="459.00" y="160.47" width="3.73" height="3.74" fill="#b8b6b3"/>
<rect x="462.33" y="160.47" width="3.73" height="3.74" fill="#bcbab7"/>
<rect x="465.67" y="160.47" width="3.73" height="3.74" fill="#bebcb9"/>
<rect x="469.00" y="160.47" width="7.07" height="3.74" fill="#c0bebb"/>
<rect x="475.67" y="160.47" width="3.73" height="3.74" fill="#c2c0bd"/>
<rect x="479.00" y="160.47" width="7.07" height="3.74" fill="#c4c2bf"/>
<rect x="485.67" y="160.47" width="7.07" height="3.74" fill="#c6c4c1"/>
<rect x="492.33" y="160.47" width="7.07" height="3.74" fill="#c4c2bf"/>
<rect x="389.00" y="163.81" width="3.73" height="3.74" fill="#9e9c99"/>
<rect x="392.33" y="163.81" width="3.73" height="3.74" fill="#9c9a97"/>
<rect x="395.67" y="163.81" width="7.07" height="3.74" fill="#9a9895"/>
<rect x="402.33" y="163.81" width="3.73" height="3.74" fill="#9c9a97"/>
<rect x="405.67" y="163.81" width="3.73" height="3.74" fill="#9e9c99"/>
<rect x="409.00" y="163.81" width="3.73" height="3.74" fill="#a2a09d"/>
<rect x="412.33" y="163.81" width="3.73" height="3.74" fill="#a4a29f"/>
<rect x="415.67" y="163.81" width="3.73" height="3.74" fill="#9e9c99"/>
<rect x="419.00" y="163.81" width="3.73" height="3.74" fill="#888683"/>
<rect x="422.33" y="163.81" width="3.73" height="3.74" fill="#64625f"/>
<rect x="425.67" y="163.81" width="3.73" height="3.74" fill="#44423f"/>
<rect x="429.00" y="163.81" width="3.73" height="3.74" fill="#3a3835"/>
<rect x="432.33" y="163.81" width="3.73" height="3.74" fill="#464441"/>
<rect x="435.67" y="163.81" width="3.73" height="3.74" fill="#686663"/>
<rect x="439.00" y="163.81" width="3.73" height="3.74" fill="#908e8b"/>
<rect x="442.33" y="163.81" width="3.73" height="3.74" fill="#aaa8a5"/>
<rect x="445.67" y="163.81" width="3.73" height="3.74" fill="#b6b4b1"/>
<rect x="449.00" y="163.81" width="3.73" height="3.74" fill="#bcbab7"/>
<rect x="452.33" y="163.81" width="3.73" height="3.74" fill="#c0bebb"/>
<rect x="455.67" y="163.81" width="3.73" height="3.74" fill="#c2c0bd"/>
<rect x="459.00" y="163.81" width="10.40" height="3.74" fill="#c4c2bf"/>
<rect x="469.00" y="163.81" width="7.07" height="3.74" fill="#c2c0bd"/>
<rect x="475.67" y="163.81" width="7.07" height="3.74" fill="#c4c2bf"/>
<rect x="482.33" y="163.81" width="10.40" height="3.74" fill="#c6c4c1"/>
<rect x="492.33" y="163.81" width="7.07" height="3.74" fill="#c4c2bf"/>
<rect x="389.00" y="167.15" width="3.73" height="3.74" fill="#9c9a97"/>
<rect x="392.33" y="167.15" width="3.73" height="3.74" fill="#989693"/>
<rect x="395.67" y="167.15" width="7.07" height="3.74" fill="#969491"/>
<rect x="402.33" y="167.15" width="3.73" height="3.74" fill="#989693"/>
<rect x="405.67" y="167.15" width="3.73" height="3.74" fill="#9c9a97"/>
<rect x="409.00" y="167.15" width="3.73" height="3.74" fill="#a09e9b"/>
<rect x="412.33" y="167.15" width="3.73" height="3.74" fill="#a2a09d"/>
<rect x="415.67" y="167.15" width="3.73" height="3.74" fill="#9a9895"/>
<rect x="419.00" y="167.15" width="3.73" height="3.74" fill="#7e7c79"/>
<rect x="422.33" y="167.15" width="3.73" height="3.74" fill="#54524f"/>
<rect x="425.67" y="167.15" width="3.73" height="3.74" fill="#363431"/>
<rect x="429.00" y="167.15" width="3.73" height="3.74" fill="#302e2b"/>
<rect x="432.33" y="167.15" width="3.73" height="3.74" fill="#3e3c39"/>
<rect x="435.67" y="167.15" width="3.73" height="3.74" fill="#64625f"/>
<rect x="439.00" y="167.15" width="3.73" height="3.74" fill="#94928f"/>
<rect x="442.33" y="167.15" width="3.73" height="3.74" fill="#b8b6b3"/>
<rect x="445.67" y="167.15" width="3.73" height="3.74" fill="#c8c6c3"/>
<rect x="449.00" y="167.15" width="3.73" height="3.74" fill="#ceccc9"/>
<rect x="452.33" y="167.15" width="7.07" height="3.74" fill="#d2d0cd"/>
<rect x="459.00" y="167.15" width="3.73" height="3.74" fill="#d0cecb"/>
<rect x="462.33" y="167.15" width="3.73" height="3.74" fill="#ceccc9"/>
<rect x="465.67" y="167.15" width="3.73" height="3.74" fill="#cac8c5"/>
<rect x="469.00" y="167.15" width="3.73" height="3.74" fill="#c8c6c3"/>
<rect x="472.33" y="167.15" width="23.73" height="3.74" fill="#c6c4c1"/>
<rect x="495.67" y="167.15" width="3.73" height="3.74" fill="#c4c2bf"/>
<rect x="389.00" y="170.49" width="3.73" height="3.74" fill="#9c9a97"/>
<rect x="392.33" y="170.49" width="3.73" height="3.74" fill="#989693"/>
<rect x="395.67" y="170.49" width="7.07" height="3.74" fill="#969491"/>
<rect x="402.33" y="170.49" width="3.73" height="3.74" fill="#989693"/>
<rect x="405.67" y="170.49" width="3.73" height="3.74" fill="#9c9a97"/>
<rect x="409.00" y="170.49" width="3.73" height="3.74" fill="#a09e9b"/>
<rect x="412.33" y="170.49" width="3.73" height="3.74" fill="#a2a09d"/>
<rect x="415.67" y="170.49" width="3.73" height="3.74" fill="#989693"/>
<rect x="419.00" y="170.49" width="3.73" height="3.74" fill="#7c7a77"/>
<rect x="422.33" y="170.49" width="3.73" height="3.74" fill="#52504d"/>
<rect x="425.67" y="170.49" width="3.73" height="3.74" fill="#363431"/>
<rect x="429.00" y="170.49" width="3.73" height="3.74" fill="#32302d"/>
<rect x="432.33" y="170.49" width="3.73" height="3.74" fill="#403e3b"/>
<rect x="435.67" y="170.49" width="3.73" height="3.74" fill="#686663"/>
<rect x="439.00" y="170.49" width="3.73" height="3.74" fill="#9e9c99"/>
<rect x="442.33" y="170.49" width="3.73" height="3.74" fill="#c6c4c1"/>
<rect x="445.67" y="170.49" width="3.73" height="3.74" fill="#d8d6d3"/>
<rect x="449.00" y="170.49" width="3.73" height="3.74" fill="#e0dedb"/>
<rect x="452.33" y="170.49" width="7.07" height="3.74" fill="#e2e0dd"/>
<rect x="459.00" y="170.49" width="3.73" height="3.74" fill="#dedcd9"/>
<rect x="462.33" y="170.49" width="3.73" height="3.74" fill="#d8d6d3"/>
<rect x="465.67" y="170.49" width="3.73" height="3.74" fill="#d2d0cd"/>
<rect x="469.00" y="170.49" width="3.73" height="3.74" fill="#ceccc9"/>
<rect x="472.33" y="170.49" width="3.73" height="3.74" fill="#cac8c5"/>
<rect x="475.67" y="170.49" width="3.73" height="3.74" fill="#c8c6c3"/>
<rect x="479.00" y="170.49" width="17.07" height="3.74" fill="#c6c4c1"/>
<rect x="495.67" y="170.49" width="3.73" height="3.74" fill="#c4c2bf"/>
<rect x="389.00" y="173.83" width="3.73" height="3.74" fill="#9c9a97"/>
<rect x="392.33" y="173.83" width="3.73" height="3.74" fill="#989693"/>
<rect x="395.67" y="173.83" width="7.07" height="3.74" fill="#969491"/>
<rect x="402.33" y="173.83" width="3.73" height="3.74" fill="#989693"/>
<rect x="405.67" y="173.83" width="3.73" height="3.74" fill="#9c9a97"/>
<rect x="409.00" y="173.83" width="3.73" height="3.74" fill="#a09e9b"/>
<rect x="412.33" y="173.83" width="3.73" height="3.74" fill="#a2a09d"/>
<rect x="415.67" y="173.83" width="3.73" height="3.74" fill="#9c9a97"/>
<rect x="419.00" y="173.83" width="3.73" height="3.74" fill="#84827f"/>
<rect x="422.33" y="173.83" width="3.73" height="3.74" fill="#5e5c59"/>
<rect x="425.67" y="173.83" width="3.73" height="3.74" fill="#42403d"/>
<rect x="429.00" y="173.83" width="3.73" height="3.74" fill="#3e3c39"/>
<rect x="432.33" y="173.83" width="3.73" height="3.74" fill="#504e4b"/>
<rect x="435.67" y="173.83" width="3.73" height="3.74" fill="#7c7a77"/>
<rect x="439.00" y="173.83" width="3.73" height="3.74" fill="#aeaca9"/>
<rect x="442.33" y="173.83" width="3.73" height="3.74" fill="#d4d2cf"/>
<rect x="445.67" y="173.83" width="3.73" height="3.74" fill="#e8e6e3"/>
<rect x="449.00" y="173.83" width="3.73" height="3.74" fill="#f0eeeb"/>
<rect x="452.33" y="173.83" width="3.73" height="3.74" fill="#f2f0ed"/>
<rect x="455.67" y="173.83" width="3.73" height="3.74" fill="#f0eeeb"/>
<rect x="459.00" y="173.83" width="3.73" height="3.74" fill="#eceae7"/>
<rect x="462.33" y="173.83" width="3.73" height="3.74" fill="#e4e2df"/>
<rect x="465.67" y="173.83" width="3.73" height="3.74" fill="#dcdad7"/>
<rect x="469.00" y="173.83" width="3.73" height="3.74" fill="#d4d2cf"/>
<rect x="472.33" y="173.83" width="3.73" height="3.74" fill="#ceccc9"/>
<rect x="475.67" y="173.83" width="3.73" height="3.74" fill="#cac8c5"/>
<rect x="479.00" y="173.83" width="3.73" height="3.74" fill="#c8c6c3"/>
<rect x="482.33" y="173.83" width="13.73" height="3.74" fill="#c6c4c1"/>
<rect x="495.67" y="173.83" width="3.73" height="3.74" fill="#c4c2bf"/>
<rect x="389.00" y="177.17" width="3.73" height="3.74" fill="#9e9c99"/>
<rect x="392.33" y="177.17" width="3.73" height="3.74" fill="#9a9895"/>
<rect x="395.67" y="177.17" width="3.73" height="3.74" fill="#989693"/>
<rect x="399.00" y="177.17" width="7.07" height="3.74" fill="#9a9895"/>
<rect x="405.67" y="177.17" width="3.73" height="3.74" fill="#9e9c99"/>
<rect x="409.00" y="177.17" width="3.73" height="3.74" fill="#a2a09d"/>
<rect x="412.33" y="177.17" width="3.73" height="3.74" fill="#a4a29f"/>
<rect x="415.67" y="177.17" width="3.73" height="3.74" fill="#a2a09d"/>
<rect x="419.00" y="177.17" width="3.73" height="3.74" fill="#92908d"/>
<rect x="422.33" y="177.17" width="3.73" height="3.74" fill="#767471"/>
<rect x="425.67" y="177.17" width="3.73" height="3.74" fill="#5e5c59"/>
<rect x="429.00" y="177.17" width="3.73" height="3.74" fill="#5a5855"/>
<rect x="432.33" y="177.17" width="3.73" height="3.74" fill="#706e6b"/>
<rect x="435.67" y="177.17" width="3.73" height="3.74" fill="#989693"/>
<rect x="439.00" y="177.17" width="3.73" height="3.74" fill="#c4c2bf"/>
<rect x="442.33" y="177.17" width="3.73" height="3.74" fill="#e4e2df"/>
<rect x="445.67" y="177.17" width="3.73" height="3.74" fill="#f6f4f1"/>
<rect x="449.00" y="177.17" width="3.73" height="3.74" fill="#fefcf9"/>
<rect x="452.33" y="177.17" width="3.73" height="3.74" fill="#fffefb"/>
<rect x="455.67" y="177.17" width="3.73" height="3.74" fill="#fefcf9"/>
<rect x="459.00" y="177.17" width="3.73" height="3.74" fill="#f8f6f3"/>
<rect x="462.33" y="177.17" width="3.73" height="3.74" fill="#f0eeeb"/>
<rect x="465.67" y="177.17" width="3.73" height="3.74" fill="#e4e2df"/>
<rect x="469.00" y="177.17" width="3.73" height="3.74" fill="#dad8d5"/>
<rect x="472.33" y="177.17" width="3.73" height="3.74" fill="#d2d0cd"/>
<rect x="475.67" y="177.17" width="3.73" height="3.74" fill="#cccac7"/>
<rect x="479.00" y="177.17" width="7.07" height="3.74" fill="#c8c6c3"/>
<rect x="485.67" y="177.17" width="10.40" height="3.74" fill="#c6c4c1"/>
<rect x="495.67" y="177.17" width="3.73" height="3.74" fill="#c4c2bf"/>
<rect x="389.00" y="180.51" width="3.73" height="3.74" fill="#a09e9b"/>
<rect x="392.33" y="180.51" width="3.73" height="3.74" fill="#9e9c99"/>
<rect x="395.67" y="180.51" width="7.07" height="3.74" fill="#9c9a97"/>
<rect x="402.33" y="180.51" width="3.73" height="3.74" fill="#9e9c99"/>
<rect x="405.67" y="180.51" width="3.73" height="3.74" fill="#a09e9b"/>
<rect x="409.00" y="180.51" width="3.73" height="3.74" fill="#a4a29f"/>
<rect x="412.33" y="180.51" width="7.07" height="3.74" fill="#a8a6a3"/>
<rect x="419.00" y="180.51" width="3.73" height="3.74" fill="#a09e9b"/>
<rect x="422.33" y="180.51" width="3.73" height="3.74" fill="#908e8b"/>
<rect x="425.67" y="180.51" width="7.07" height="3.74" fill="#82807d"/>
<rect x="432.33" y="180.51" width="3.73" height="3.74" fill="#969491"/>
<rect x="435.67" y="180.51" width="3.73" height="3.74" fill="#b8b6b3"/>
<rect x="439.00" y="180.51" width="3.73" height="3.74" fill="#dad8d5"/>
<rect x="442.33" y="180.51" width="3.73" height="3.74" fill="#f2f0ed"/>
<rect x="445.67" y="180.51" width="17.07" height="3.74" fill="#fffefb"/>
<rect x="462.33" y="180.51" width="3.73" height="3.74" fill="#faf8f5"/>
<rect x="465.67" y="180.51" width="3.73" height="3.74" fill="#eceae7"/>
<rect x="469.00" y="180.51" width="3.73" height="3.74" fill="#e0dedb"/>
<rect x="472.33" y="180.51" width="3.73" height="3.74" fill="#d6d4d1"/>
<rect x="475.67" y="180.51" width="3.73" height="3.74" fill="#ceccc9"/>
<rect x="479.00" y="180.51" width="3.73" height="3.74" fill="#cac8c5"/>
<rect x="482.33" y="180.51" width="3.73" height="3.74" fill="#c8c6c3"/>
<rect x="485.67" y="180.51" width="10.40" height="3.74" fill="#c6c4c1"/>
<rect x="495.67" y="180.51" width="3.73" height="3.74" fill="#c4c2bf"/>
<rect x="389.00" y="183.85" width="3.73" height="3.74" fill="#a4a29f"/>
<rect x="392.33" y="183.85" width="3.73" height="3.74" fill="#a2a09d"/>
<rect x="395.67" y="183.85" width="7.07" height="3.74" fill="#a09e9b"/>
<rect x="402.33" y="183.85" width="3.73" height="3.74" fill="#a2a09d"/>
<rect x="405.67" y="183.85" width="3.73" height="3.74" fill="#a4a29f"/>
<rect x="409.00" y="183.85" width="3.73" height="3.74" fill="#a8a6a3"/>
<rect x="412.33" y="183.85" width="3.73" height="3.74" fill="#aaa8a5"/>
<rect x="415.67" y="183.85" width="7.07" height="3.74" fill="#acaaa7"/>
<rect x="422.33" y="183.85" width="3.73" height="3.74" fill="#a8a6a3"/>
<rect x="425.67" y="183.85" width="3.73" height="3.74" fill="#a2a09d"/>
<rect x="429.00" y="183.85" width="3.73" height="3.74" fill="#a8a6a3"/>
<rect x="432.33" y="183.85" width="3.73" height="3.74" fill="#b8b6b3"/>
<rect x="435.67" y="183.85" width="3.73" height="3.74" fill="#d0cecb"/>
<rect x="439.00" y="183.85" width="3.73" height="3.74" fill="#eae8e5"/>
<rect x="442.33" y="183.85" width="3.73" height="3.74" fill="#fcfaf7"/>
<rect x="445.67" y="183.85" width="20.40" height="3.74" fill="#fffefb"/>
<rect x="465.67" y="183.85" width="3.73" height="3.74" fill="#f4f2ef"/>
<rect x="469.00" y="183.85" width="3.73" height="3.74" fill="#e6e4e1"/>
<rect x="472.33" y="183.85" width="3.73" height="3.74" fill="#dad8d5"/>
<rect x="475.67" y="183.85" width="3.73" height="3.74" fill="#d0cecb"/>
<rect x="479.00" y="183.85" width="3.73" height="3.74" fill="#cac8c5"/>
<rect x="482.33" y="183.85" width="7.07" height="3.74" fill="#c8c6c3"/>
<rect x="489.00" y="183.85" width="7.07" height="3.74" fill="#c6c4c1"/>
<rect x="495.67" y="183.85" width="3.73" height="3.74" fill="#c4c2bf"/>
<rect x="389.00" y="187.19" width="3.73" height="3.74" fill="#a8a6a3"/>
<rect x="392.33" y="187.19" width="3.73" height="3.74" fill="#a6a4a1"/>
<rect x="395.67" y="187.19" width="7.07" height="3.74" fill="#a4a29f"/>
<rect x="402.33" y="187.19" width="3.73" height="3.74" fill="#a6a4a1"/>
<rect x="405.67" y="187.19" width="3.73" height="3.74" fill="#a8a6a3"/>
<rect x="409.00" y="187.19" width="3.73" height="3.74" fill="#aaa8a5"/>
<rect x="412.33" y="187.19" width="3.73" height="3.74" fill="#aeaca9"/>
<rect x="415.67" y="187.19" width="3.73" height="3.74" fill="#b0aeab"/>
<rect x="419.00" y="187.19" width="3.73" height="3.74" fill="#b2b0ad"/>
<rect x="422.33" y="187.19" width="3.73" height="3.74" fill="#b4b2af"/>
<rect x="425.67" y="187.19" width="3.73" height="3.74" fill="#b6b4b1"/>
<rect x="429.00" y="187.19" width="3.73" height="3.74" fill="#bcbab7"/>
<rect x="432.33" y="187.19" width="3.73" height="3.74" fill="#cac8c5"/>
<rect x="435.67" y="187.19" width="3.73" height="3.74" fill="#dedcd9"/>
<rect x="439.00" y="187.19" width="3.73" height="3.74" fill="#f2f0ed"/>
<rect x="442.33" y="187.19" width="23.73" height="3.74" fill="#fffefb"/>
<rect x="465.67" y="187.19" width="3.73" height="3.74" fill="#f8f6f3"/>
<rect x="469.00" y="187.19" width="3.73" height="3.74" fill="#e8e6e3"/>
<rect x="472.33" y="187.19" width="3.73" height="3.74" fill="#dcdad7"/>
<rect x="475.67" y="187.19" width="3.73" height="3.74" fill="#d2d0cd"/>
<rect x="479.00" y="187.19" width="3.73" height="3.74" fill="#cccac7"/>
<rect x="482.33" y="187.19" width="3.73" height="3.74" fill="#c8c6c3"/>
<rect x="485.67" y="187.19" width="7.07" height="3.74" fill="#c6c4c1"/>
<rect x="492.33" y="187.19" width="7.07" height="3.74" fill="#c4c2bf"/>
<rect x="389.00" y="190.53" width="7.07" height="3.74" fill="#aaa8a5"/>
<rect x="395.67" y="190.53" width="7.07" height="3.74" fill="#a8a6a3"/>
<rect x="402.33" y="190.53" width="3.73" height="3.74" fill="#aaa8a5"/>
<rect x="405.67" y="190.53" width="3.73" height="3.74" fill="#acaaa7"/>
<rect x="409.00" y="190.53" width="3.73" height="3.74" fill="#aeaca9"/>
<rect x="412.33" y="190.53" width="3.73" height="3.74" fill="#b0aeab"/>
<rect x="415.67" y="190.53" width="3.73" height="3.74" fill="#b2b0ad"/>
<rect x="419.00" y="190.53" width="3.73" height="3.74" fill="#b4b2af"/>
<rect x="422.33" y="190.53" width="3.73" height="3.74" fill="#b8b6b3"/>
<rect x="425.67" y="190.53" width="3.73" height="3.74" fill="#bcbab7"/>
<rect x="429.00" y="190.53" width="3.73" height="3.74" fill="#c6c4c1"/>
<rect x="432.33" y="190.53" width="3.73" height="3.74" fill="#d2d0cd"/>
<rect x="435.67" y="190.53" width="3.73" height="3.74" fill="#e2e0dd"/>
<rect x="439.00" y="190.53" width="3.73" height="3.74" fill="#f4f2ef"/>
<rect x="442.33" y="190.53" width="23.73" height="3.74" fill="#fffefb"/>
<rect x="465.67" y="190.53" width="3.73" height="3.74" fill="#f8f6f3"/>
<rect x="469.00" y="190.53" width="3.73" height="3.74" fill="#e8e6e3"/>
<rect x="472.33" y="190.53" width="3.73" height="3.74" fill="#dcdad7"/>
<rect x="475.67" y="190.53" width="3.73" height="3.74" fill="#d2d0cd"/>
<rect x="479.00" y="190.53" width="3.73" height="3.74" fill="#cccac7"/>
<rect x="482.33" y="190.53" width="3.73" height="3.74" fill="#c8c6c3"/>
<rect x="485.67" y="190.53" width="7.07" height="3.74" fill="#c6c4c1"/>
<rect x="492.33" y="190.53" width="7.07" height="3.74" fill="#c4c2bf"/>
<rect x="389.00" y="193.87" width="7.07" height="3.74" fill="#aeaca9"/>
<rect x="395.67" y="193.87" width="7.07" height="3.74" fill="#acaaa7"/>
<rect x="402.33" y="193.87" width="7.07" height="3.74" fill="#aeaca9"/>
<rect x="409.00" y="193.87" width="3.73" height="3.74" fill="#b0aeab"/>
<rect x="412.33" y="193.87" width="3.73" height="3.74" fill="#b2b0ad"/>
<rect x="415.67" y="193.87" width="3.73" height="3.74" fill="#b4b2af"/>
<rect x="419.00" y="193.87" width="3.73" height="3.74" fill="#b6b4b1"/>
<rect x="422.33" y="193.87" width="3.73" height="3.74" fill="#bab8b5"/>
<rect x="425.67" y="193.87" width="3.73" height="3.74" fill="#bebcb9"/>
<rect x="429.00" y="193.87" width="3.73" height="3.74" fill="#c6c4c1"/>
<rect x="432.33" y="193.87" width="3.73" height="3.74" fill="#d2d0cd"/>
<rect x="435.67" y="193.87" width="3.73" height="3.74" fill="#e2e0dd"/>
<rect x="439.00" y="193.87" width="3.73" height="3.74" fill="#f2f0ed"/>
<rect x="442.33" y="193.87" width="23.73" height="3.74" fill="#fffefb"/>
<rect x="465.67" y="193.87" width="3.73" height="3.74" fill="#f6f4f1"/>
<rect x="469.00" y="193.87" width="3.73" height="3.74" fill="#e6e4e1"/>
<rect x="472.33" y="193.87" width="3.73" height="3.74" fill="#dad8d5"/>
<rect x="475.67" y="193.87" width="3.73" height="3.74" fill="#d0cecb"/>
<rect x="479.00" y="193.87" width="3.73" height="3.74" fill="#cac8c5"/>
<rect x="482.33" y="193.87" width="3.73" height="3.74" fill="#c8c6c3"/>
<rect x="485.67" y="193.87" width="7.07" height="3.74" fill="#c6c4c1"/>
<rect x="492.33" y="193.87" width="7.07" height="3.74" fill="#c4c2bf"/>
<rect x="389.00" y="197.21" width="3.73" height="3.74" fill="#b2b0ad"/>
<rect x="392.33" y="197.21" width="10.40" height="3.74" fill="#b0aeab"/>
<rect x="402.33" y="197.21" width="7.07" height="3.74" fill="#b2b0ad"/>
<rect x="409.00" y="197.21" width="7.07" height="3.74" fill="#b4b2af"/>
<rect x="415.67" y="197.21" width="3.73" height="3.74" fill="#b6b4b1"/>
<rect x="419.00" y="197.21" width="3.73" height="3.74" fill="#b8b6b3"/>
<rect x="422.33" y="197.21" width="3.73" height="3.74" fill="#bab8b5"/>
<rect x="425.67" y="197.21" width="3.73" height="3.74" fill="#c0bebb"/>
<rect x="429.00" y="197.21" width="3.73" height="3.74" fill="#c6c4c1"/>
<rect x="432.33" y="197.21" width="3.73" height="3.74" fill="#d0cecb"/>
<rect x="435.67" y="197.21" width="3.73" height="3.74" fill="#dedcd9"/>
<rect x="439.00" y="197.21" width="3.73" height="3.74" fill="#eceae7"/>
<rect x="442.33" y="197.21" width="3.73" height="3.74" fill="#fcfaf7"/>
<rect x="445.67" y="197.21" width="17.07" height="3.74" fill="#fffefb"/>
<rect x="462.33" y="197.21" width="3.73" height="3.74" fill="#fefcf9"/>
<rect x="465.67" y="197.21" width="3.73" height="3.74" fill="#f0eeeb"/>
<rect x="469.00" y="197.21" width="3.73" height="3.74" fill="#e2e0dd"/>
<rect x="472.33" y="197.21" width="3.73" height="3.74" fill="#d8d6d3"/>
<rect x="475.67" y="197.21" width="3.73" height="3.74" fill="#ceccc9"/>
<rect x="479.00" y="197.21" width="3.73" height="3.74" fill="#cac8c5"/>
<rect x="482.33" y="197.21" width="3.73" height="3.74" fill="#c8c6c3"/>
<rect x="485.67" y="197.21" width="7.07" height="3.74" fill="#c6c4c1"/>
<rect x="492.33" y="197.21" width="3.73" height="3.74" fill="#c4c2bf"/>
<rect x="495.67" y="197.21" width="3.73" height="3.74" fill="#c2c0bd"/>
<rect x="389.00" y="200.55" width="17.07" height="3.74" fill="#b4b2af"/>
<rect x="405.67" y="200.55" width="7.07" height="3.74" fill="#b6b4b1"/>
<rect x="412.33" y="200.55" width="7.07" height="3.74" fill="#b8b6b3"/>
<rect x="419.00" y="200.55" width="3.73" height="3.74" fill="#bab8b5"/>
<rect x="422.33" y="200.55" width="3.73" height="3.74" fill="#bcbab7"/>
<rect x="425.67" y="200.55" width="3.73" height="3.74" fill="#c0bebb"/>
<rect x="429.00" y="200.55" width="3.73" height="3.74" fill="#c4c2bf"/>
<rect x="432.33" y="200.55" width="3.73" height="3.74" fill="#ceccc9"/>
<rect x="435.67" y="200.55" width="3.73" height="3.74" fill="#d8d6d3"/>
<rect x="439.00" y="200.55" width="3.73" height="3.74" fill="#e6e4e1"/>
<rect x="442.33" y="200.55" width="3.73" height="3.74" fill="#f2f0ed"/>
<rect x="445.67" y="200.55" width="3.73" height="3.74" fill="#fefcf9"/>
<rect x="449.00" y="200.55" width="10.40" height="3.74" fill="#fffefb"/>
<rect x="459.00" y="200.55" width="3.73" height="3.74" fill="#fefcf9"/>
<rect x="462.33" y="200.55" width="3.73" height="3.74" fill="#f4f2ef"/>
<rect x="465.67" y="200.55" width="3.73" height="3.74" fill="#e8e6e3"/>
<rect x="469.00" y="200.55" width="3.73" height="3.74" fill="#dedcd9"/>
<rect x="472.33" y="200.55" width="3.73" height="3.74" fill="#d4d2cf"/>
<rect x="475.67" y="200.55" width="3.73" height="3.74" fill="#cccac7"/>
<rect x="479.00" y="200.55" width="3.73" height="3.74" fill="#c8c6c3"/>
<rect x="482.33" y="200.55" width="7.07" height="3.74" fill="#c6c4c1"/>
<rect x="489.00" y="200.55" width="7.07" height="3.74" fill="#c4c2bf"/>
<rect x="495.67" y="200.55" width="3.73" height="3.74" fill="#c2c0bd"/>
<rect x="389.00" y="203.88" width="7.07" height="3.74" fill="#b6b4b1"/>
<rect x="395.67" y="203.88" width="13.73" height="3.74" fill="#b8b6b3"/>
<rect x="409.00" y="203.88" width="10.40" height="3.74" fill="#bab8b5"/>
<rect x="419.00" y="203.88" width="7.07" height="3.74" fill="#bcbab7"/>
<rect x="425.67" y="203.88" width="3.73" height="3.74" fill="#bebcb9"/>
<rect x="429.00" y="203.88" width="3.73" height="3.74" fill="#c4c2bf"/>
<rect x="432.33" y="203.88" width="3.73" height="3.74" fill="#cac8c5"/>
<rect x="435.67" y="203.88" width="3.73" height="3.74" fill="#d2d0cd"/>
<rect x="439.00" y="203.88" width="3.73" height="3.74" fill="#dedcd9"/>
<rect x="442.33" y="203.88" width="3.73" height="3.74" fill="#e8e6e3"/>
<rect x="445.67" y="203.88" width="3.73" height="3.74" fill="#f2f0ed"/>
<rect x="449.00" y="203.88" width="3.73" height="3.74" fill="#f8f6f3"/>
<rect x="452.33" y="203.88" width="3.73" height="3.74" fill="#faf8f5"/>
<rect x="455.67" y="203.88" width="3.73" height="3.74" fill="#f8f6f3"/>
<rect x="459.00" y="203.88" width="3.73" height="3.74" fill="#f2f0ed"/>
<rect x="462.33" y="203.88" width="3.73" height="3.74" fill="#eae8e5"/>
<rect x="465.67" y="203.88" width="3.73" height="3.74" fill="#e0dedb"/>
<rect x="469.00" y="203.88" width="3.73" height="3.74" fill="#d6d4d1"/>
<rect x="472.33" y="203.88" width="3.73" height="3.74" fill="#ceccc9"/>
<rect x="475.67" y="203.88" width="3.73" height="3.74" fill="#cac8c5"/>
<rect x="479.00" y="203.88" width="7.07" height="3.74" fill="#c6c4c1"/>
<rect x="485.67" y="203.88" width="10.40" height="3.74" fill="#c4c2bf"/>
<rect x="495.67" y="203.88" width="3.73" height="3.74" fill="#c2c0bd"/>
<rect x="389.00" y="207.22" width="3.73" height="3.74" fill="#b8b6b3"/>
<rect x="392.33" y="207.22" width="17.07" height="3.74" fill="#bab8b5"/>
<rect x="409.00" y="207.22" width="13.73" height="3.74" fill="#bcbab7"/>
<rect x="422.33" y="207.22" width="7.07" height="3.74" fill="#bebcb9"/>
<rect x="429.00" y="207.22" width="3.73" height="3.74" fill="#c2c0bd"/>
<rect x="432.33" y="207.22" width="3.73" height="3.74" fill="#c6c4c1"/>
<rect x="435.67" y="207.22" width="3.73" height="3.74" fill="#ceccc9"/>
<rect x="439.00" y="207.22" width="3.73" height="3.74" fill="#d6d4d1"/>
<rect x="442.33" y="207.22" width="3.73" height="3.74" fill="#dedcd9"/>
<rect x="445.67" y="207.22" width="3.73" height="3.74" fill="#e6e4e1"/>
<rect x="449.00" y="207.22" width="3.73" height="3.74" fill="#eae8e5"/>
<rect x="452.33" y="207.22" width="3.73" height="3.74" fill="#eceae7"/>
<rect x="455.67" y="207.22" width="3.73" height="3.74" fill="#eae8e5"/>
<rect x="459.00" y="207.22" width="3.73" height="3.74" fill="#e6e4e1"/>
<rect x="462.33" y="207.22" width="3.73" height="3.74" fill="#dedcd9"/>
<rect x="465.67" y="207.22" width="3.73" height="3.74" fill="#d6d4d1"/>
<rect x="469.00" y="207.22" width="3.73" height="3.74" fill="#d0cecb"/>
<rect x="472.33" y="207.22" width="3.73" height="3.74" fill="#cac8c5"/>
<rect x="475.67" y="207.22" width="7.07" height="3.74" fill="#c6c4c1"/>
<rect x="482.33" y="207.22" width="13.73" height="3.74" fill="#c4c2bf"/>
<rect x="495.67" y="207.22" width="3.73" height="3.74" fill="#c2c0bd"/>
<rect x="389.00" y="210.56" width="7.07" height="3.74" fill="#bab8b5"/>
<rect x="395.67" y="210.56" width="10.40" height="3.74" fill="#bcbab7"/>
<rect x="405.67" y="210.56" width="23.73" height="3.74" fill="#bebcb9"/>
<rect x="429.00" y="210.56" width="3.73" height="3.74" fill="#c0bebb"/>
<rect x="432.33" y="210.56" width="3.73" height="3.74" fill="#c4c2bf"/>
<rect x="435.67" y="210.56" width="3.73" height="3.74" fill="#c8c6c3"/>
<rect x="439.00" y="210.56" width="3.73" height="3.74" fill="#ceccc9"/>
<rect x="442.33" y="210.56" width="3.73" height="3.74" fill="#d4d2cf"/>
<rect x="445.67" y="210.56" width="3.73" height="3.74" fill="#d8d6d3"/>
<rect x="449.00" y="210.56" width="3.73" height="3.74" fill="#dcdad7"/>
<rect x="452.33" y="210.56" width="3.73" height="3.74" fill="#dedcd9"/>
<rect x="455.67" y="210.56" width="3.73" height="3.74" fill="#dcdad7"/>
<rect x="459.00" y="210.56" width="3.73" height="3.74" fill="#dad8d5"/>
<rect x="462.33" y="210.56" width="3.73" height="3.74" fill="#d4d2cf"/>
<rect x="465.67" y="210.56" width="3.73" height="3.74" fill="#ceccc9"/>
<rect x="469.00" y="210.56" width="3.73" height="3.74" fill="#cac8c5"/>
<rect x="472.33" y="210.56" width="3.73" height="3.74" fill="#c6c4c1"/>
<rect x="475.67" y="210.56" width="17.07" height="3.74" fill="#c4c2bf"/>
<rect x="492.33" y="210.56" width="7.07" height="3.74" fill="#c2c0bd"/>
<rect x="389.00" y="213.90" width="10.40" height="3.74" fill="#bcbab7"/>
<rect x="399.00" y="213.90" width="13.73" height="3.74" fill="#bebcb9"/>
<rect x="412.33" y="213.90" width="7.07" height="3.74" fill="#c0bebb"/>
<rect x="419.00" y="213.90" width="7.07" height="3.74" fill="#bebcb9"/>
<rect x="425.67" y="213.90" width="7.07" height="3.74" fill="#c0bebb"/>
<rect x="432.33" y="213.90" width="3.73" height="3.74" fill="#c2c0bd"/>
<rect x="435.67" y="213.90" width="3.73" height="3.74" fill="#c4c2bf"/>
<rect x="439.00" y="213.90" width="3.73" height="3.74" fill="#c8c6c3"/>
<rect x="442.33" y="213.90" width="3.73" height="3.74" fill="#cac8c5"/>
<rect x="445.67" y="213.90" width="3.73" height="3.74" fill="#ceccc9"/>
<rect x="449.00" y="213.90" width="3.73" height="3.74" fill="#d0cecb"/>
<rect x="452.33" y="213.90" width="3.73" height="3.74" fill="#d2d0cd"/>
<rect x="455.67" y="213.90" width="3.73" height="3.74" fill="#d0cecb"/>
<rect x="459.00" y="213.90" width="3.73" height="3.74" fill="#ceccc9"/>
<rect x="462.33" y="213.90" width="3.73" height="3.74" fill="#cccac7"/>
<rect x="465.67" y="213.90" width="3.73" height="3.74" fill="#c8c6c3"/>
<rect x="469.00" y="213.90" width="7.07" height="3.74" fill="#c4c2bf"/>
<rect x="475.67" y="213.90" width="7.07" height="3.74" fill="#c2c0bd"/>
<rect x="482.33" y="213.90" width="10.40" height="3.74" fill="#c4c2bf"/>
<rect x="492.33" y="213.90" width="7.07" height="3.74" fill="#c2c0bd"/>
<rect x="389.00" y="217.24" width="7.07" height="3.74" fill="#bcbab7"/>
<rect x="395.67" y="217.24" width="10.40" height="3.74" fill="#bebcb9"/>
<rect x="405.67" y="217.24" width="20.40" height="3.74" fill="#c0bebb"/>
<rect x="425.67" y="217.24" width="3.73" height="3.74" fill="#bebcb9"/>
<rect x="429.00" y="217.24" width="10.40" height="3.74" fill="#c0bebb"/>
<rect x="439.00" y="217.24" width="3.73" height="3.74" fill="#c2c0bd"/>
<rect x="442.33" y="217.24" width="3.73" height="3.74" fill="#c4c2bf"/>
<rect x="445.67" y="217.24" width="3.73" height="3.74" fill="#c6c4c1"/>
<rect x="449.00" y="217.24" width="10.40" height="3.74" fill="#c8c6c3"/>
<rect x="459.00" y="217.24" width="3.73" height="3.74" fill="#c6c4c1"/>
<rect x="462.33" y="217.24" width="3.73" height="3.74" fill="#c4c2bf"/>
<rect x="465.67" y="217.24" width="7.07" height="3.74" fill="#c2c0bd"/>
<rect x="472.33" y="217.24" width="3.73" height="3.74" fill="#c0bebb"/>
<rect x="475.67" y="217.24" width="23.73" height="3.74" fill="#c2c0bd"/>
<rect x="389.00" y="220.58" width="7.07" height="3.74" fill="#bcbab7"/>
<rect x="395.67" y="220.58" width="10.40" height="3.74" fill="#bebcb9"/>
<rect x="405.67" y="220.58" width="20.40" height="3.74" fill="#c0bebb"/>
<rect x="425.67" y="220.58" width="13.73" height="3.74" fill="#bebcb9"/>
<rect x="439.00" y="220.58" width="10.40" height="3.74" fill="#c0bebb"/>
<rect x="449.00" y="220.58" width="10.40" height="3.74" fill="#c2c0bd"/>
<rect x="459.00" y="220.58" width="20.40" height="3.74" fill="#c0bebb"/>
<rect x="479.00" y="220.58" width="17.07" height="3.74" fill="#c2c0bd"/>
<rect x="495.67" y="220.58" width="3.73" height="3.74" fill="#c0bebb"/>
<rect x="389.00" y="223.92" width="7.07" height="3.74" fill="#bcbab7"/>
<rect x="395.67" y="223.92" width="13.73" height="3.74" fill="#bebcb9"/>
<rect x="409.00" y="223.92" width="10.40" height="3.74" fill="#c0bebb"/>
<rect x="419.00" y="223.92" width="17.07" height="3.74" fill="#bebcb9"/>
<rect x="435.67" y="223.92" width="7.07" height="3.74" fill="#bcbab7"/>
<rect x="442.33" y="223.92" width="20.40" height="3.74" fill="#bebcb9"/>
<rect x="462.33" y="223.92" width="3.73" height="3.74" fill="#bcbab7"/>
<rect x="465.67" y="223.92" width="10.40" height="3.74" fill="#bebcb9"/>
<rect x="475.67" y="223.92" width="7.07" height="3.74" fill="#c0bebb"/>
<rect x="482.33" y="223.92" width="13.73" height="3.74" fill="#c2c0bd"/>
<rect x="495.67" y="223.92" width="3.73" height="3.74" fill="#c0bebb"/>
<rect x="389.00" y="227.26" width="13.73" height="3.74" fill="#bcbab7"/>
<rect x="402.33" y="227.26" width="27.07" height="3.74" fill="#bebcb9"/>
<rect x="429.00" y="227.26" width="43.73" height="3.74" fill="#bcbab7"/>
<rect x="472.33" y="227.26" width="7.07" height="3.74" fill="#bebcb9"/>
<rect x="479.00" y="227.26" width="7.07" height="3.74" fill="#c0bebb"/>
<rect x="485.67" y="227.26" width="7.07" height="3.74" fill="#c2c0bd"/>
<rect x="492.33" y="227.26" width="7.07" height="3.74" fill="#c0bebb"/>
</g>
<path d="M452.31 193.14L452.08 193.50L451.85 193.86L451.60 194.21L451.35 194.55L451.10 194.88L450.84 195.20L450.57 195.51L450.29 195.81L450.02 196.09L449.73 196.37L449.44 196.64L449.15 196.90L448.85 197.14L448.55 197.38L448.24 197.60L447.93 197.81L447.61 198.01L447.29 198.20L446.97 198.37L446.65 198.53L446.32 198.68L445.99 198.82L445.65 198.95L445.32 199.06L444.98 199.16L444.64 199.25L444.30 199.32L443.96 199.38L443.61 199.43L443.27 199.47L442.93 199.49L442.58 199.50L442.24 199.50L441.89 199.48L441.55 199.45L441.20 199.41L440.86 199.35L440.52 199.28L440.18 199.20L439.84 199.11M431.65 191.18L431.21 190.17L430.82 189.13L430.48 188.04L430.19 186.93L429.95 185.80L429.75 184.65L429.62 183.48L429.53 182.30L429.50 181.11L429.52 179.93L429.60 178.75L429.72 177.57L429.91 176.42L430.14 175.28L430.42 174.16L430.75 173.08L431.13 172.02L431.56 171.00L432.03 170.03L432.55 169.10L433.10 168.21L433.70 167.38L434.33 166.61L435.00 165.89L435.69 165.24L436.41 164.65L437.16 164.13L437.93 163.68L438.72 163.30L439.53 162.99L440.34 162.76L441.17 162.60L442.00 162.51L442.83 162.51L443.66 162.57L444.49 162.72L445.31 162.94L446.12 163.23L446.91 163.60L447.68 164.03M454.23 173.04L454.34 173.35L454.44 173.67L454.53 174.00L454.62 174.32L454.71 174.65L454.79 174.98L454.87 175.32L454.95 175.65L455.01 175.99L455.08 176.33L455.14 176.67L455.19 177.01L455.25 177.36L455.29 177.70L455.33 178.05L455.37 178.39L455.40 178.74L455.43 179.09L455.45 179.44L455.47 179.79L455.49 180.14L455.50 180.49L455.50 180.84L455.50 181.19L455.49 181.54L455.48 181.90L455.47 182.25L455.45 182.60L455.43 182.95L455.40 183.29L455.37 183.64L455.33 183.99L455.29 184.34L455.24 184.68L455.19 185.02L455.13 185.37L455.07 185.71L455.01 186.04L454.94 186.38L454.86 186.72" fill="none" stroke="#7270bd" stroke-width="1.6" stroke-dasharray="3.8 3.6" stroke-linecap="round"/>
<path d="M454.23 173.04L444.21 166.56L448.99 165.83L451.16 161.50Z" fill="#7270bd"/>
<path d="M431.65 191.18L442.83 196.02L438.20 197.52L436.85 202.20Z" fill="#7270bd"/>
<circle cx="453.80" cy="190.14" r="5.2" fill="none" stroke="#7270bd" stroke-width="1.4"/><path d="M450.13 186.46L457.48 193.81M457.48 186.46L450.13 193.81" stroke="#7270bd" stroke-width="1.3"/>
<text transform="translate(419.40 139.70) scale(1.0401 1)" font-size="17.5" fill="#000">Φ = 0°</text>
<g shape-rendering="crispEdges">
<rect x="389.00" y="235.40" width="80.40" height="3.69" fill="#a8a6a3"/>
<rect x="469.00" y="235.40" width="10.40" height="3.69" fill="#aaa8a5"/>
<rect x="479.00" y="235.40" width="20.40" height="3.69" fill="#acaaa7"/>
<rect x="389.00" y="238.69" width="80.40" height="3.69" fill="#a8a6a3"/>
<rect x="469.00" y="238.69" width="10.40" height="3.69" fill="#aaa8a5"/>
<rect x="479.00" y="238.69" width="10.40" height="3.69" fill="#acaaa7"/>
<rect x="489.00" y="238.69" width="10.40" height="3.69" fill="#aeaca9"/>
<rect x="389.00" y="241.98" width="80.40" height="3.69" fill="#a8a6a3"/>
<rect x="469.00" y="241.98" width="10.40" height="3.69" fill="#aaa8a5"/>
<rect x="479.00" y="241.98" width="10.40" height="3.69" fill="#acaaa7"/>
<rect x="489.00" y="241.98" width="10.40" height="3.69" fill="#aeaca9"/>
<rect x="389.00" y="245.27" width="80.40" height="3.69" fill="#a8a6a3"/>
<rect x="469.00" y="245.27" width="10.40" height="3.69" fill="#aaa8a5"/>
<rect x="479.00" y="245.27" width="7.07" height="3.69" fill="#acaaa7"/>
<rect x="485.67" y="245.27" width="13.73" height="3.69" fill="#aeaca9"/>
<rect x="389.00" y="248.56" width="80.40" height="3.69" fill="#a8a6a3"/>
<rect x="469.00" y="248.56" width="10.40" height="3.69" fill="#aaa8a5"/>
<rect x="479.00" y="248.56" width="7.07" height="3.69" fill="#acaaa7"/>
<rect x="485.67" y="248.56" width="13.73" height="3.69" fill="#aeaca9"/>
<rect x="389.00" y="251.85" width="37.07" height="3.69" fill="#a8a6a3"/>
<rect x="425.67" y="251.85" width="30.40" height="3.69" fill="#a6a4a1"/>
<rect x="455.67" y="251.85" width="13.73" height="3.69" fill="#a8a6a3"/>
<rect x="469.00" y="251.85" width="10.40" height="3.69" fill="#aaa8a5"/>
<rect x="479.00" y="251.85" width="7.07" height="3.69" fill="#acaaa7"/>
<rect x="485.67" y="251.85" width="13.73" height="3.69" fill="#aeaca9"/>
<rect x="389.00" y="255.15" width="23.73" height="3.69" fill="#a8a6a3"/>
<rect x="412.33" y="255.15" width="23.73" height="3.69" fill="#a6a4a1"/>
<rect x="435.67" y="255.15" width="20.40" height="3.69" fill="#a4a29f"/>
<rect x="455.67" y="255.15" width="7.07" height="3.69" fill="#a6a4a1"/>
<rect x="462.33" y="255.15" width="10.40" height="3.69" fill="#a8a6a3"/>
<rect x="472.33" y="255.15" width="7.07" height="3.69" fill="#aaa8a5"/>
<rect x="479.00" y="255.15" width="7.07" height="3.69" fill="#acaaa7"/>
<rect x="485.67" y="255.15" width="13.73" height="3.69" fill="#aeaca9"/>
<rect x="389.00" y="258.44" width="20.40" height="3.69" fill="#a8a6a3"/>
<rect x="409.00" y="258.44" width="10.40" height="3.69" fill="#a6a4a1"/>
<rect x="419.00" y="258.44" width="13.73" height="3.69" fill="#a4a29f"/>
<rect x="432.33" y="258.44" width="7.07" height="3.69" fill="#a2a09d"/>
<rect x="439.00" y="258.44" width="3.73" height="3.69" fill="#a09e9b"/>
<rect x="442.33" y="258.44" width="10.40" height="3.69" fill="#9c9a97"/>
<rect x="452.33" y="258.44" width="3.73" height="3.69" fill="#a09e9b"/>
<rect x="455.67" y="258.44" width="3.73" height="3.69" fill="#a2a09d"/>
<rect x="459.00" y="258.44" width="3.73" height="3.69" fill="#a4a29f"/>
<rect x="462.33" y="258.44" width="3.73" height="3.69" fill="#a6a4a1"/>
<rect x="465.67" y="258.44" width="7.07" height="3.69" fill="#a8a6a3"/>
<rect x="472.33" y="258.44" width="7.07" height="3.69" fill="#aaa8a5"/>
<rect x="479.00" y="258.44" width="7.07" height="3.69" fill="#acaaa7"/>
<rect x="485.67" y="258.44" width="13.73" height="3.69" fill="#aeaca9"/>
<rect x="389.00" y="261.73" width="13.73" height="3.69" fill="#a8a6a3"/>
<rect x="402.33" y="261.73" width="10.40" height="3.69" fill="#a6a4a1"/>
<rect x="412.33" y="261.73" width="7.07" height="3.69" fill="#a4a29f"/>
<rect x="419.00" y="261.73" width="7.07" height="3.69" fill="#a2a09d"/>
<rect x="425.67" y="261.73" width="7.07" height="3.69" fill="#a09e9b"/>
<rect x="432.33" y="261.73" width="3.73" height="3.69" fill="#9e9c99"/>
<rect x="435.67" y="261.73" width="3.73" height="3.69" fill="#9a9895"/>
<rect x="439.00" y="261.73" width="3.73" height="3.69" fill="#969491"/>
<rect x="442.33" y="261.73" width="3.73" height="3.69" fill="#908e8b"/>
<rect x="445.67" y="261.73" width="3.73" height="3.69" fill="#8c8a87"/>
<rect x="449.00" y="261.73" width="3.73" height="3.69" fill="#8e8c89"/>
<rect x="452.33" y="261.73" width="3.73" height="3.69" fill="#94928f"/>
<rect x="455.67" y="261.73" width="3.73" height="3.69" fill="#9c9a97"/>
<rect x="459.00" y="261.73" width="3.73" height="3.69" fill="#a2a09d"/>
<rect x="462.33" y="261.73" width="3.73" height="3.69" fill="#a4a29f"/>
<rect x="465.67" y="261.73" width="3.73" height="3.69" fill="#a6a4a1"/>
<rect x="469.00" y="261.73" width="3.73" height="3.69" fill="#a8a6a3"/>
<rect x="472.33" y="261.73" width="7.07" height="3.69" fill="#aaa8a5"/>
<rect x="479.00" y="261.73" width="7.07" height="3.69" fill="#acaaa7"/>
<rect x="485.67" y="261.73" width="13.73" height="3.69" fill="#aeaca9"/>
<rect x="389.00" y="265.02" width="13.73" height="3.69" fill="#a8a6a3"/>
<rect x="402.33" y="265.02" width="7.07" height="3.69" fill="#a6a4a1"/>
<rect x="409.00" y="265.02" width="7.07" height="3.69" fill="#a4a29f"/>
<rect x="415.67" y="265.02" width="3.73" height="3.69" fill="#a2a09d"/>
<rect x="419.00" y="265.02" width="3.73" height="3.69" fill="#a09e9b"/>
<rect x="422.33" y="265.02" width="3.73" height="3.69" fill="#9e9c99"/>
<rect x="425.67" y="265.02" width="7.07" height="3.69" fill="#9c9a97"/>
<rect x="432.33" y="265.02" width="3.73" height="3.69" fill="#989693"/>
<rect x="435.67" y="265.02" width="3.73" height="3.69" fill="#908e8b"/>
<rect x="439.00" y="265.02" width="3.73" height="3.69" fill="#868481"/>
<rect x="442.33" y="265.02" width="3.73" height="3.69" fill="#7a7875"/>
<rect x="445.67" y="265.02" width="3.73" height="3.69" fill="#74726f"/>
<rect x="449.00" y="265.02" width="3.73" height="3.69" fill="#767471"/>
<rect x="452.33" y="265.02" width="3.73" height="3.69" fill="#807e7b"/>
<rect x="455.67" y="265.02" width="3.73" height="3.69" fill="#908e8b"/>
<rect x="459.00" y="265.02" width="3.73" height="3.69" fill="#9a9895"/>
<rect x="462.33" y="265.02" width="3.73" height="3.69" fill="#a2a09d"/>
<rect x="465.67" y="265.02" width="3.73" height="3.69" fill="#a4a29f"/>
<rect x="469.00" y="265.02" width="3.73" height="3.69" fill="#a6a4a1"/>
<rect x="472.33" y="265.02" width="3.73" height="3.69" fill="#a8a6a3"/>
<rect x="475.67" y="265.02" width="3.73" height="3.69" fill="#aaa8a5"/>
<rect x="479.00" y="265.02" width="7.07" height="3.69" fill="#acaaa7"/>
<rect x="485.67" y="265.02" width="7.07" height="3.69" fill="#aeaca9"/>
<rect x="492.33" y="265.02" width="3.73" height="3.69" fill="#b0aeab"/>
<rect x="495.67" y="265.02" width="3.73" height="3.69" fill="#aeaca9"/>
<rect x="389.00" y="268.31" width="10.40" height="3.69" fill="#a8a6a3"/>
<rect x="399.00" y="268.31" width="7.07" height="3.69" fill="#a6a4a1"/>
<rect x="405.67" y="268.31" width="7.07" height="3.69" fill="#a4a29f"/>
<rect x="412.33" y="268.31" width="3.73" height="3.69" fill="#a2a09d"/>
<rect x="415.67" y="268.31" width="3.73" height="3.69" fill="#a09e9b"/>
<rect x="419.00" y="268.31" width="3.73" height="3.69" fill="#9e9c99"/>
<rect x="422.33" y="268.31" width="3.73" height="3.69" fill="#9c9a97"/>
<rect x="425.67" y="268.31" width="3.73" height="3.69" fill="#989693"/>
<rect x="429.00" y="268.31" width="3.73" height="3.69" fill="#969491"/>
<rect x="432.33" y="268.31" width="3.73" height="3.69" fill="#908e8b"/>
<rect x="435.67" y="268.31" width="3.73" height="3.69" fill="#82807d"/>
<rect x="439.00" y="268.31" width="3.73" height="3.69" fill="#6e6c69"/>
<rect x="442.33" y="268.31" width="3.73" height="3.69" fill="#5c5a57"/>
<rect x="445.67" y="268.31" width="3.73" height="3.69" fill="#52504d"/>
<rect x="449.00" y="268.31" width="3.73" height="3.69" fill="#565451"/>
<rect x="452.33" y="268.31" width="3.73" height="3.69" fill="#666461"/>
<rect x="455.67" y="268.31" width="3.73" height="3.69" fill="#7e7c79"/>
<rect x="459.00" y="268.31" width="3.73" height="3.69" fill="#92908d"/>
<rect x="462.33" y="268.31" width="3.73" height="3.69" fill="#9e9c99"/>
<rect x="465.67" y="268.31" width="3.73" height="3.69" fill="#a2a09d"/>
<rect x="469.00" y="268.31" width="3.73" height="3.69" fill="#a6a4a1"/>
<rect x="472.33" y="268.31" width="3.73" height="3.69" fill="#a8a6a3"/>
<rect x="475.67" y="268.31" width="3.73" height="3.69" fill="#aaa8a5"/>
<rect x="479.00" y="268.31" width="7.07" height="3.69" fill="#acaaa7"/>
<rect x="485.67" y="268.31" width="7.07" height="3.69" fill="#aeaca9"/>
<rect x="492.33" y="268.31" width="7.07" height="3.69" fill="#b0aeab"/>
<rect x="389.00" y="271.60" width="10.40" height="3.69" fill="#a8a6a3"/>
<rect x="399.00" y="271.60" width="7.07" height="3.69" fill="#a6a4a1"/>
<rect x="405.67" y="271.60" width="3.73" height="3.69" fill="#a4a29f"/>
<rect x="409.00" y="271.60" width="3.73" height="3.69" fill="#a2a09d"/>
<rect x="412.33" y="271.60" width="3.73" height="3.69" fill="#a09e9b"/>
<rect x="415.67" y="271.60" width="3.73" height="3.69" fill="#9e9c99"/>
<rect x="419.00" y="271.60" width="3.73" height="3.69" fill="#9a9895"/>
<rect x="422.33" y="271.60" width="3.73" height="3.69" fill="#989693"/>
<rect x="425.67" y="271.60" width="3.73" height="3.69" fill="#969491"/>
<rect x="429.00" y="271.60" width="3.73" height="3.69" fill="#92908d"/>
<rect x="432.33" y="271.60" width="3.73" height="3.69" fill="#888683"/>
<rect x="435.67" y="271.60" width="3.73" height="3.69" fill="#72706d"/>
<rect x="439.00" y="271.60" width="3.73" height="3.69" fill="#54524f"/>
<rect x="442.33" y="271.60" width="3.73" height="3.69" fill="#3a3835"/>
<rect x="445.67" y="271.60" width="3.73" height="3.69" fill="#2e2c29"/>
<rect x="449.00" y="271.60" width="3.73" height="3.69" fill="#32302d"/>
<rect x="452.33" y="271.60" width="3.73" height="3.69" fill="#484643"/>
<rect x="455.67" y="271.60" width="3.73" height="3.69" fill="#686663"/>
<rect x="459.00" y="271.60" width="3.73" height="3.69" fill="#868481"/>
<rect x="462.33" y="271.60" width="3.73" height="3.69" fill="#989693"/>
<rect x="465.67" y="271.60" width="3.73" height="3.69" fill="#a2a09d"/>
<rect x="469.00" y="271.60" width="3.73" height="3.69" fill="#a4a29f"/>
<rect x="472.33" y="271.60" width="3.73" height="3.69" fill="#a8a6a3"/>
<rect x="475.67" y="271.60" width="3.73" height="3.69" fill="#aaa8a5"/>
<rect x="479.00" y="271.60" width="7.07" height="3.69" fill="#acaaa7"/>
<rect x="485.67" y="271.60" width="7.07" height="3.69" fill="#aeaca9"/>
<rect x="492.33" y="271.60" width="7.07" height="3.69" fill="#b0aeab"/>
<rect x="389.00" y="274.89" width="10.40" height="3.69" fill="#a8a6a3"/>
<rect x="399.00" y="274.89" width="7.07" height="3.69" fill="#a6a4a1"/>
<rect x="405.67" y="274.89" width="3.73" height="3.69" fill="#a4a29f"/>
<rect x="409.00" y="274.89" width="3.73" height="3.69" fill="#a2a09d"/>
<rect x="412.33" y="274.89" width="3.73" height="3.69" fill="#a09e9b"/>
<rect x="415.67" y="274.89" width="3.73" height="3.69" fill="#9c9a97"/>
<rect x="419.00" y="274.89" width="3.73" height="3.69" fill="#9a9895"/>
<rect x="422.33" y="274.89" width="3.73" height="3.69" fill="#989693"/>
<rect x="425.67" y="274.89" width="3.73" height="3.69" fill="#94928f"/>
<rect x="429.00" y="274.89" width="3.73" height="3.69" fill="#8e8c89"/>
<rect x="432.33" y="274.89" width="3.73" height="3.69" fill="#807e7b"/>
<rect x="435.67" y="274.89" width="3.73" height="3.69" fill="#62605d"/>
<rect x="439.00" y="274.89" width="3.73" height="3.69" fill="#3c3a37"/>
<rect x="442.33" y="274.89" width="3.73" height="3.69" fill="#1e1c19"/>
<rect x="445.67" y="274.89" width="3.73" height="3.69" fill="#100e0b"/>
<rect x="449.00" y="274.89" width="3.73" height="3.69" fill="#14120f"/>
<rect x="452.33" y="274.89" width="3.73" height="3.69" fill="#2c2a27"/>
<rect x="455.67" y="274.89" width="3.73" height="3.69" fill="#52504d"/>
<rect x="459.00" y="274.89" width="3.73" height="3.69" fill="#787673"/>
<rect x="462.33" y="274.89" width="3.73" height="3.69" fill="#94928f"/>
<rect x="465.67" y="274.89" width="3.73" height="3.69" fill="#a09e9b"/>
<rect x="469.00" y="274.89" width="3.73" height="3.69" fill="#a4a29f"/>
<rect x="472.33" y="274.89" width="3.73" height="3.69" fill="#a6a4a1"/>
<rect x="475.67" y="274.89" width="3.73" height="3.69" fill="#aaa8a5"/>
<rect x="479.00" y="274.89" width="7.07" height="3.69" fill="#acaaa7"/>
<rect x="485.67" y="274.89" width="7.07" height="3.69" fill="#aeaca9"/>
<rect x="492.33" y="274.89" width="7.07" height="3.69" fill="#b0aeab"/>
<rect x="389.00" y="278.18" width="13.73" height="3.69" fill="#a8a6a3"/>
<rect x="402.33" y="278.18" width="3.73" height="3.69" fill="#a6a4a1"/>
<rect x="405.67" y="278.18" width="3.73" height="3.69" fill="#a4a29f"/>
<rect x="409.00" y="278.18" width="3.73" height="3.69" fill="#a2a09d"/>
<rect x="412.33" y="278.18" width="3.73" height="3.69" fill="#a09e9b"/>
<rect x="415.67" y="278.18" width="3.73" height="3.69" fill="#9e9c99"/>
<rect x="419.00" y="278.18" width="3.73" height="3.69" fill="#9a9895"/>
<rect x="422.33" y="278.18" width="3.73" height="3.69" fill="#989693"/>
<rect x="425.67" y="278.18" width="3.73" height="3.69" fill="#94928f"/>
<rect x="429.00" y="278.18" width="3.73" height="3.69" fill="#8e8c89"/>
<rect x="432.33" y="278.18" width="3.73" height="3.69" fill="#7a7875"/>
<rect x="435.67" y="278.18" width="3.73" height="3.69" fill="#565451"/>
<rect x="439.00" y="278.18" width="3.73" height="3.69" fill="#2a2825"/>
<rect x="442.33" y="278.18" width="3.73" height="3.69" fill="#0a0805"/>
<rect x="445.67" y="278.18" width="7.07" height="3.69" fill="#020000"/>
<rect x="452.33" y="278.18" width="3.73" height="3.69" fill="#181613"/>
<rect x="455.67" y="278.18" width="3.73" height="3.69" fill="#403e3b"/>
<rect x="459.00" y="278.18" width="3.73" height="3.69" fill="#6e6c69"/>
<rect x="462.33" y="278.18" width="3.73" height="3.69" fill="#908e8b"/>
<rect x="465.67" y="278.18" width="3.73" height="3.69" fill="#9e9c99"/>
<rect x="469.00" y="278.18" width="3.73" height="3.69" fill="#a4a29f"/>
<rect x="472.33" y="278.18" width="3.73" height="3.69" fill="#a8a6a3"/>
<rect x="475.67" y="278.18" width="3.73" height="3.69" fill="#aaa8a5"/>
<rect x="479.00" y="278.18" width="7.07" height="3.69" fill="#acaaa7"/>
<rect x="485.67" y="278.18" width="3.73" height="3.69" fill="#aeaca9"/>
<rect x="489.00" y="278.18" width="10.40" height="3.69" fill="#b0aeab"/>
<rect x="389.00" y="281.47" width="3.73" height="3.69" fill="#aaa8a5"/>
<rect x="392.33" y="281.47" width="10.40" height="3.69" fill="#a8a6a3"/>
<rect x="402.33" y="281.47" width="7.07" height="3.69" fill="#a6a4a1"/>
<rect x="409.00" y="281.47" width="3.73" height="3.69" fill="#a4a29f"/>
<rect x="412.33" y="281.47" width="3.73" height="3.69" fill="#a2a09d"/>
<rect x="415.67" y="281.47" width="3.73" height="3.69" fill="#a09e9b"/>
<rect x="419.00" y="281.47" width="3.73" height="3.69" fill="#9e9c99"/>
<rect x="422.33" y="281.47" width="3.73" height="3.69" fill="#9c9a97"/>
<rect x="425.67" y="281.47" width="3.73" height="3.69" fill="#989693"/>
<rect x="429.00" y="281.47" width="3.73" height="3.69" fill="#908e8b"/>
<rect x="432.33" y="281.47" width="3.73" height="3.69" fill="#7a7875"/>
<rect x="435.67" y="281.47" width="3.73" height="3.69" fill="#52504d"/>
<rect x="439.00" y="281.47" width="3.73" height="3.69" fill="#22201d"/>
<rect x="442.33" y="281.47" width="10.40" height="3.69" fill="#020000"/>
<rect x="452.33" y="281.47" width="3.73" height="3.69" fill="#0e0c09"/>
<rect x="455.67" y="281.47" width="3.73" height="3.69" fill="#363431"/>
<rect x="459.00" y="281.47" width="3.73" height="3.69" fill="#686663"/>
<rect x="462.33" y="281.47" width="3.73" height="3.69" fill="#8e8c89"/>
<rect x="465.67" y="281.47" width="3.73" height="3.69" fill="#9e9c99"/>
<rect x="469.00" y="281.47" width="3.73" height="3.69" fill="#a4a29f"/>
<rect x="472.33" y="281.47" width="3.73" height="3.69" fill="#a8a6a3"/>
<rect x="475.67" y="281.47" width="3.73" height="3.69" fill="#aaa8a5"/>
<rect x="479.00" y="281.47" width="3.73" height="3.69" fill="#acaaa7"/>
<rect x="482.33" y="281.47" width="7.07" height="3.69" fill="#aeaca9"/>
<rect x="489.00" y="281.47" width="10.40" height="3.69" fill="#b0aeab"/>
<rect x="389.00" y="284.76" width="10.40" height="3.69" fill="#aaa8a5"/>
<rect x="399.00" y="284.76" width="10.40" height="3.69" fill="#a8a6a3"/>
<rect x="409.00" y="284.76" width="3.73" height="3.69" fill="#a6a4a1"/>
<rect x="412.33" y="284.76" width="3.73" height="3.69" fill="#a4a29f"/>
<rect x="415.67" y="284.76" width="7.07" height="3.69" fill="#a2a09d"/>
<rect x="422.33" y="284.76" width="3.73" height="3.69" fill="#a09e9b"/>
<rect x="425.67" y="284.76" width="3.73" height="3.69" fill="#9e9c99"/>
<rect x="429.00" y="284.76" width="3.73" height="3.69" fill="#969491"/>
<rect x="432.33" y="284.76" width="3.73" height="3.69" fill="#807e7b"/>
<rect x="435.67" y="284.76" width="3.73" height="3.69" fill="#54524f"/>
<rect x="439.00" y="284.76" width="3.73" height="3.69" fill="#24221f"/>
<rect x="442.33" y="284.76" width="3.73" height="3.69" fill="#040200"/>
<rect x="445.67" y="284.76" width="7.07" height="3.69" fill="#020000"/>
<rect x="452.33" y="284.76" width="3.73" height="3.69" fill="#0e0c09"/>
<rect x="455.67" y="284.76" width="3.73" height="3.69" fill="#363431"/>
<rect x="459.00" y="284.76" width="3.73" height="3.69" fill="#686663"/>
<rect x="462.33" y="284.76" width="3.73" height="3.69" fill="#8e8c89"/>
<rect x="465.67" y="284.76" width="3.73" height="3.69" fill="#a09e9b"/>
<rect x="469.00" y="284.76" width="3.73" height="3.69" fill="#a6a4a1"/>
<rect x="472.33" y="284.76" width="3.73" height="3.69" fill="#a8a6a3"/>
<rect x="475.67" y="284.76" width="3.73" height="3.69" fill="#aaa8a5"/>
<rect x="479.00" y="284.76" width="3.73" height="3.69" fill="#acaaa7"/>
<rect x="482.33" y="284.76" width="7.07" height="3.69" fill="#aeaca9"/>
<rect x="489.00" y="284.76" width="10.40" height="3.69" fill="#b0aeab"/>
<rect x="389.00" y="288.05" width="17.07" height="3.69" fill="#aaa8a5"/>
<rect x="405.67" y="288.05" width="10.40" height="3.69" fill="#a8a6a3"/>
<rect x="415.67" y="288.05" width="3.73" height="3.69" fill="#a6a4a1"/>
<rect x="419.00" y="288.05" width="7.07" height="3.69" fill="#a8a6a3"/>
<rect x="425.67" y="288.05" width="3.73" height="3.69" fill="#a6a4a1"/>
<rect x="429.00" y="288.05" width="3.73" height="3.69" fill="#a09e9b"/>
<rect x="432.33" y="288.05" width="3.73" height="3.69" fill="#8a8885"/>
<rect x="435.67" y="288.05" width="3.73" height="3.69" fill="#605e5b"/>
<rect x="439.00" y="288.05" width="3.73" height="3.69" fill="#302e2b"/>
<rect x="442.33" y="288.05" width="3.73" height="3.69" fill="#0e0c09"/>
<rect x="445.67" y="288.05" width="3.73" height="3.69" fill="#020000"/>
<rect x="449.00" y="288.05" width="3.73" height="3.69" fill="#040200"/>
<rect x="452.33" y="288.05" width="3.73" height="3.69" fill="#161411"/>
<rect x="455.67" y="288.05" width="3.73" height="3.69" fill="#3c3a37"/>
<rect x="459.00" y="288.05" width="3.73" height="3.69" fill="#6c6a67"/>
<rect x="462.33" y="288.05" width="3.73" height="3.69" fill="#908e8b"/>
<rect x="465.67" y="288.05" width="3.73" height="3.69" fill="#a2a09d"/>
<rect x="469.00" y="288.05" width="3.73" height="3.69" fill="#a6a4a1"/>
<rect x="472.33" y="288.05" width="7.07" height="3.69" fill="#aaa8a5"/>
<rect x="479.00" y="288.05" width="3.73" height="3.69" fill="#acaaa7"/>
<rect x="482.33" y="288.05" width="7.07" height="3.69" fill="#aeaca9"/>
<rect x="489.00" y="288.05" width="10.40" height="3.69" fill="#b0aeab"/>
<rect x="389.00" y="291.35" width="3.73" height="3.69" fill="#aaa8a5"/>
<rect x="392.33" y="291.35" width="10.40" height="3.69" fill="#acaaa7"/>
<rect x="402.33" y="291.35" width="13.73" height="3.69" fill="#aaa8a5"/>
<rect x="415.67" y="291.35" width="3.73" height="3.69" fill="#acaaa7"/>
<rect x="419.00" y="291.35" width="3.73" height="3.69" fill="#aeaca9"/>
<rect x="422.33" y="291.35" width="3.73" height="3.69" fill="#b0aeab"/>
<rect x="425.67" y="291.35" width="3.73" height="3.69" fill="#b2b0ad"/>
<rect x="429.00" y="291.35" width="3.73" height="3.69" fill="#aeaca9"/>
<rect x="432.33" y="291.35" width="3.73" height="3.69" fill="#9a9895"/>
<rect x="435.67" y="291.35" width="3.73" height="3.69" fill="#74726f"/>
<rect x="439.00" y="291.35" width="3.73" height="3.69" fill="#464441"/>
<rect x="442.33" y="291.35" width="3.73" height="3.69" fill="#201e1b"/>
<rect x="445.67" y="291.35" width="3.73" height="3.69" fill="#100e0b"/>
<rect x="449.00" y="291.35" width="3.73" height="3.69" fill="#12100d"/>
<rect x="452.33" y="291.35" width="3.73" height="3.69" fill="#24221f"/>
<rect x="455.67" y="291.35" width="3.73" height="3.69" fill="#4a4845"/>
<rect x="459.00" y="291.35" width="3.73" height="3.69" fill="#767471"/>
<rect x="462.33" y="291.35" width="3.73" height="3.69" fill="#969491"/>
<rect x="465.67" y="291.35" width="3.73" height="3.69" fill="#a4a29f"/>
<rect x="469.00" y="291.35" width="3.73" height="3.69" fill="#a8a6a3"/>
<rect x="472.33" y="291.35" width="3.73" height="3.69" fill="#aaa8a5"/>
<rect x="475.67" y="291.35" width="7.07" height="3.69" fill="#acaaa7"/>
<rect x="482.33" y="291.35" width="7.07" height="3.69" fill="#aeaca9"/>
<rect x="489.00" y="291.35" width="10.40" height="3.69" fill="#b0aeab"/>
<rect x="389.00" y="294.64" width="23.73" height="3.69" fill="#acaaa7"/>
<rect x="412.33" y="294.64" width="3.73" height="3.69" fill="#aeaca9"/>
<rect x="415.67" y="294.64" width="3.73" height="3.69" fill="#b2b0ad"/>
<rect x="419.00" y="294.64" width="3.73" height="3.69" fill="#b6b4b1"/>
<rect x="422.33" y="294.64" width="3.73" height="3.69" fill="#bab8b5"/>
<rect x="425.67" y="294.64" width="3.73" height="3.69" fill="#bebcb9"/>
<rect x="429.00" y="294.64" width="3.73" height="3.69" fill="#bcbab7"/>
<rect x="432.33" y="294.64" width="3.73" height="3.69" fill="#aeaca9"/>
<rect x="435.67" y="294.64" width="3.73" height="3.69" fill="#8e8c89"/>
<rect x="439.00" y="294.64" width="3.73" height="3.69" fill="#62605d"/>
<rect x="442.33" y="294.64" width="3.73" height="3.69" fill="#3e3c39"/>
<rect x="445.67" y="294.64" width="7.07" height="3.69" fill="#282623"/>
<rect x="452.33" y="294.64" width="3.73" height="3.69" fill="#3c3a37"/>
<rect x="455.67" y="294.64" width="3.73" height="3.69" fill="#5e5c59"/>
<rect x="459.00" y="294.64" width="3.73" height="3.69" fill="#82807d"/>
<rect x="462.33" y="294.64" width="3.73" height="3.69" fill="#9c9a97"/>
<rect x="465.67" y="294.64" width="3.73" height="3.69" fill="#a6a4a1"/>
<rect x="469.00" y="294.64" width="3.73" height="3.69" fill="#a8a6a3"/>
<rect x="472.33" y="294.64" width="3.73" height="3.69" fill="#aaa8a5"/>
<rect x="475.67" y="294.64" width="7.07" height="3.69" fill="#acaaa7"/>
<rect x="482.33" y="294.64" width="3.73" height="3.69" fill="#aeaca9"/>
<rect x="485.67" y="294.64" width="13.73" height="3.69" fill="#b0aeab"/>
<rect x="389.00" y="297.93" width="7.07" height="3.69" fill="#acaaa7"/>
<rect x="395.67" y="297.93" width="13.73" height="3.69" fill="#aeaca9"/>
<rect x="409.00" y="297.93" width="3.73" height="3.69" fill="#b0aeab"/>
<rect x="412.33" y="297.93" width="3.73" height="3.69" fill="#b2b0ad"/>
<rect x="415.67" y="297.93" width="3.73" height="3.69" fill="#b8b6b3"/>
<rect x="419.00" y="297.93" width="3.73" height="3.69" fill="#bebcb9"/>
<rect x="422.33" y="297.93" width="3.73" height="3.69" fill="#c6c4c1"/>
<rect x="425.67" y="297.93" width="7.07" height="3.69" fill="#ceccc9"/>
<rect x="432.33" y="297.93" width="3.73" height="3.69" fill="#c4c2bf"/>
<rect x="435.67" y="297.93" width="3.73" height="3.69" fill="#acaaa7"/>
<rect x="439.00" y="297.93" width="3.73" height="3.69" fill="#868481"/>
<rect x="442.33" y="297.93" width="3.73" height="3.69" fill="#62605d"/>
<rect x="445.67" y="297.93" width="3.73" height="3.69" fill="#4c4a47"/>
<rect x="449.00" y="297.93" width="3.73" height="3.69" fill="#484643"/>
<rect x="452.33" y="297.93" width="3.73" height="3.69" fill="#585653"/>
<rect x="455.67" y="297.93" width="3.73" height="3.69" fill="#74726f"/>
<rect x="459.00" y="297.93" width="3.73" height="3.69" fill="#908e8b"/>
<rect x="462.33" y="297.93" width="3.73" height="3.69" fill="#a09e9b"/>
<rect x="465.67" y="297.93" width="3.73" height="3.69" fill="#a8a6a3"/>
<rect x="469.00" y="297.93" width="7.07" height="3.69" fill="#aaa8a5"/>
<rect x="475.67" y="297.93" width="7.07" height="3.69" fill="#acaaa7"/>
<rect x="482.33" y="297.93" width="3.73" height="3.69" fill="#aeaca9"/>
<rect x="485.67" y="297.93" width="13.73" height="3.69" fill="#b0aeab"/>
<rect x="389.00" y="301.22" width="17.07" height="3.69" fill="#aeaca9"/>
<rect x="405.67" y="301.22" width="3.73" height="3.69" fill="#b0aeab"/>
<rect x="409.00" y="301.22" width="3.73" height="3.69" fill="#b2b0ad"/>
<rect x="412.33" y="301.22" width="3.73" height="3.69" fill="#b6b4b1"/>
<rect x="415.67" y="301.22" width="3.73" height="3.69" fill="#bebcb9"/>
<rect x="419.00" y="301.22" width="3.73" height="3.69" fill="#c8c6c3"/>
<rect x="422.33" y="301.22" width="3.73" height="3.69" fill="#d4d2cf"/>
<rect x="425.67" y="301.22" width="3.73" height="3.69" fill="#dedcd9"/>
<rect x="429.00" y="301.22" width="3.73" height="3.69" fill="#e2e0dd"/>
<rect x="432.33" y="301.22" width="3.73" height="3.69" fill="#dcdad7"/>
<rect x="435.67" y="301.22" width="3.73" height="3.69" fill="#c8c6c3"/>
<rect x="439.00" y="301.22" width="3.73" height="3.69" fill="#a8a6a3"/>
<rect x="442.33" y="301.22" width="3.73" height="3.69" fill="#888683"/>
<rect x="445.67" y="301.22" width="3.73" height="3.69" fill="#72706d"/>
<rect x="449.00" y="301.22" width="3.73" height="3.69" fill="#6c6a67"/>
<rect x="452.33" y="301.22" width="3.73" height="3.69" fill="#767471"/>
<rect x="455.67" y="301.22" width="3.73" height="3.69" fill="#8a8885"/>
<rect x="459.00" y="301.22" width="3.73" height="3.69" fill="#9a9895"/>
<rect x="462.33" y="301.22" width="3.73" height="3.69" fill="#a4a29f"/>
<rect x="465.67" y="301.22" width="3.73" height="3.69" fill="#a8a6a3"/>
<rect x="469.00" y="301.22" width="7.07" height="3.69" fill="#aaa8a5"/>
<rect x="475.67" y="301.22" width="7.07" height="3.69" fill="#acaaa7"/>
<rect x="482.33" y="301.22" width="3.73" height="3.69" fill="#aeaca9"/>
<rect x="485.67" y="301.22" width="13.73" height="3.69" fill="#b0aeab"/>
<rect x="389.00" y="304.51" width="7.07" height="3.69" fill="#aeaca9"/>
<rect x="395.67" y="304.51" width="10.40" height="3.69" fill="#b0aeab"/>
<rect x="405.67" y="304.51" width="3.73" height="3.69" fill="#b2b0ad"/>
<rect x="409.00" y="304.51" width="3.73" height="3.69" fill="#b4b2af"/>
<rect x="412.33" y="304.51" width="3.73" height="3.69" fill="#bab8b5"/>
<rect x="415.67" y="304.51" width="3.73" height="3.69" fill="#c6c4c1"/>
<rect x="419.00" y="304.51" width="3.73" height="3.69" fill="#d4d2cf"/>
<rect x="422.33" y="304.51" width="3.73" height="3.69" fill="#e2e0dd"/>
<rect x="425.67" y="304.51" width="3.73" height="3.69" fill="#eeece9"/>
<rect x="429.00" y="304.51" width="3.73" height="3.69" fill="#f2f0ed"/>
<rect x="432.33" y="304.51" width="3.73" height="3.69" fill="#eeece9"/>
<rect x="435.67" y="304.51" width="3.73" height="3.69" fill="#e0dedb"/>
<rect x="439.00" y="304.51" width="3.73" height="3.69" fill="#c8c6c3"/>
<rect x="442.33" y="304.51" width="3.73" height="3.69" fill="#acaaa7"/>
<rect x="445.67" y="304.51" width="3.73" height="3.69" fill="#969491"/>
<rect x="449.00" y="304.51" width="3.73" height="3.69" fill="#8c8a87"/>
<rect x="452.33" y="304.51" width="3.73" height="3.69" fill="#908e8b"/>
<rect x="455.67" y="304.51" width="3.73" height="3.69" fill="#9a9895"/>
<rect x="459.00" y="304.51" width="3.73" height="3.69" fill="#a2a09d"/>
<rect x="462.33" y="304.51" width="3.73" height="3.69" fill="#a6a4a1"/>
<rect x="465.67" y="304.51" width="3.73" height="3.69" fill="#a8a6a3"/>
<rect x="469.00" y="304.51" width="7.07" height="3.69" fill="#aaa8a5"/>
<rect x="475.67" y="304.51" width="7.07" height="3.69" fill="#acaaa7"/>
<rect x="482.33" y="304.51" width="3.73" height="3.69" fill="#aeaca9"/>
<rect x="485.67" y="304.51" width="13.73" height="3.69" fill="#b0aeab"/>
<rect x="389.00" y="307.80" width="3.73" height="3.69" fill="#aeaca9"/>
<rect x="392.33" y="307.80" width="10.40" height="3.69" fill="#b0aeab"/>
<rect x="402.33" y="307.80" width="7.07" height="3.69" fill="#b2b0ad"/>
<rect x="409.00" y="307.80" width="3.73" height="3.69" fill="#b6b4b1"/>
<rect x="412.33" y="307.80" width="3.73" height="3.69" fill="#c0bebb"/>
<rect x="415.67" y="307.80" width="3.73" height="3.69" fill="#cccac7"/>
<rect x="419.00" y="307.80" width="3.73" height="3.69" fill="#dedcd9"/>
<rect x="422.33" y="307.80" width="3.73" height="3.69" fill="#eeece9"/>
<rect x="425.67" y="307.80" width="3.73" height="3.69" fill="#faf8f5"/>
<rect x="429.00" y="307.80" width="3.73" height="3.69" fill="#fffefb"/>
<rect x="432.33" y="307.80" width="3.73" height="3.69" fill="#fefcf9"/>
<rect x="435.67" y="307.80" width="3.73" height="3.69" fill="#f2f0ed"/>
<rect x="439.00" y="307.80" width="3.73" height="3.69" fill="#dedcd9"/>
<rect x="442.33" y="307.80" width="3.73" height="3.69" fill="#c6c4c1"/>
<rect x="445.67" y="307.80" width="3.73" height="3.69" fill="#b0aeab"/>
<rect x="449.00" y="307.80" width="3.73" height="3.69" fill="#a4a29f"/>
<rect x="452.33" y="307.80" width="3.73" height="3.69" fill="#a09e9b"/>
<rect x="455.67" y="307.80" width="3.73" height="3.69" fill="#a4a29f"/>
<rect x="459.00" y="307.80" width="3.73" height="3.69" fill="#a6a4a1"/>
<rect x="462.33" y="307.80" width="3.73" height="3.69" fill="#a8a6a3"/>
<rect x="465.67" y="307.80" width="10.40" height="3.69" fill="#aaa8a5"/>
<rect x="475.67" y="307.80" width="7.07" height="3.69" fill="#acaaa7"/>
<rect x="482.33" y="307.80" width="7.07" height="3.69" fill="#aeaca9"/>
<rect x="489.00" y="307.80" width="10.40" height="3.69" fill="#b0aeab"/>
<rect x="389.00" y="311.09" width="10.40" height="3.69" fill="#b0aeab"/>
<rect x="399.00" y="311.09" width="7.07" height="3.69" fill="#b2b0ad"/>
<rect x="405.67" y="311.09" width="3.73" height="3.69" fill="#b4b2af"/>
<rect x="409.00" y="311.09" width="3.73" height="3.69" fill="#bab8b5"/>
<rect x="412.33" y="311.09" width="3.73" height="3.69" fill="#c2c0bd"/>
<rect x="415.67" y="311.09" width="3.73" height="3.69" fill="#d2d0cd"/>
<rect x="419.00" y="311.09" width="3.73" height="3.69" fill="#e4e2df"/>
<rect x="422.33" y="311.09" width="3.73" height="3.69" fill="#f8f6f3"/>
<rect x="425.67" y="311.09" width="10.40" height="3.69" fill="#fffefb"/>
<rect x="435.67" y="311.09" width="3.73" height="3.69" fill="#fefcf9"/>
<rect x="439.00" y="311.09" width="3.73" height="3.69" fill="#eceae7"/>
<rect x="442.33" y="311.09" width="3.73" height="3.69" fill="#d6d4d1"/>
<rect x="445.67" y="311.09" width="3.73" height="3.69" fill="#c0bebb"/>
<rect x="449.00" y="311.09" width="3.73" height="3.69" fill="#b2b0ad"/>
<rect x="452.33" y="311.09" width="3.73" height="3.69" fill="#aaa8a5"/>
<rect x="455.67" y="311.09" width="10.40" height="3.69" fill="#a8a6a3"/>
<rect x="465.67" y="311.09" width="10.40" height="3.69" fill="#aaa8a5"/>
<rect x="475.67" y="311.09" width="7.07" height="3.69" fill="#acaaa7"/>
<rect x="482.33" y="311.09" width="7.07" height="3.69" fill="#aeaca9"/>
<rect x="489.00" y="311.09" width="10.40" height="3.69" fill="#b0aeab"/>
<rect x="389.00" y="314.38" width="7.07" height="3.69" fill="#b0aeab"/>
<rect x="395.67" y="314.38" width="7.07" height="3.69" fill="#b2b0ad"/>
<rect x="402.33" y="314.38" width="3.73" height="3.69" fill="#b4b2af"/>
<rect x="405.67" y="314.38" width="3.73" height="3.69" fill="#b6b4b1"/>
<rect x="409.00" y="314.38" width="3.73" height="3.69" fill="#bab8b5"/>
<rect x="412.33" y="314.38" width="3.73" height="3.69" fill="#c6c4c1"/>
<rect x="415.67" y="314.38" width="3.73" height="3.69" fill="#d6d4d1"/>
<rect x="419.00" y="314.38" width="3.73" height="3.69" fill="#eae8e5"/>
<rect x="422.33" y="314.38" width="3.73" height="3.69" fill="#fcfaf7"/>
<rect x="425.67" y="314.38" width="13.73" height="3.69" fill="#fffefb"/>
<rect x="439.00" y="314.38" width="3.73" height="3.69" fill="#f4f2ef"/>
<rect x="442.33" y="314.38" width="3.73" height="3.69" fill="#dedcd9"/>
<rect x="445.67" y="314.38" width="3.73" height="3.69" fill="#c8c6c3"/>
<rect x="449.00" y="314.38" width="3.73" height="3.69" fill="#b8b6b3"/>
<rect x="452.33" y="314.38" width="3.73" height="3.69" fill="#aeaca9"/>
<rect x="455.67" y="314.38" width="7.07" height="3.69" fill="#aaa8a5"/>
<rect x="462.33" y="314.38" width="3.73" height="3.69" fill="#a8a6a3"/>
<rect x="465.67" y="314.38" width="10.40" height="3.69" fill="#aaa8a5"/>
<rect x="475.67" y="314.38" width="7.07" height="3.69" fill="#acaaa7"/>
<rect x="482.33" y="314.38" width="7.07" height="3.69" fill="#aeaca9"/>
<rect x="489.00" y="314.38" width="10.40" height="3.69" fill="#b0aeab"/>
<rect x="389.00" y="317.67" width="3.73" height="3.69" fill="#b0aeab"/>
<rect x="392.33" y="317.67" width="10.40" height="3.69" fill="#b2b0ad"/>
<rect x="402.33" y="317.67" width="3.73" height="3.69" fill="#b4b2af"/>
<rect x="405.67" y="317.67" width="3.73" height="3.69" fill="#b6b4b1"/>
<rect x="409.00" y="317.67" width="3.73" height="3.69" fill="#bcbab7"/>
<rect x="412.33" y="317.67" width="3.73" height="3.69" fill="#c6c4c1"/>
<rect x="415.67" y="317.67" width="3.73" height="3.69" fill="#d6d4d1"/>
<rect x="419.00" y="317.67" width="3.73" height="3.69" fill="#eae8e5"/>
<rect x="422.33" y="317.67" width="3.73" height="3.69" fill="#fefcf9"/>
<rect x="425.67" y="317.67" width="13.73" height="3.69" fill="#fffefb"/>
<rect x="439.00" y="317.67" width="3.73" height="3.69" fill="#f6f4f1"/>
<rect x="442.33" y="317.67" width="3.73" height="3.69" fill="#e0dedb"/>
<rect x="445.67" y="317.67" width="3.73" height="3.69" fill="#cac8c5"/>
<rect x="449.00" y="317.67" width="3.73" height="3.69" fill="#bab8b5"/>
<rect x="452.33" y="317.67" width="3.73" height="3.69" fill="#b0aeab"/>
<rect x="455.67" y="317.67" width="3.73" height="3.69" fill="#acaaa7"/>
<rect x="459.00" y="317.67" width="17.07" height="3.69" fill="#aaa8a5"/>
<rect x="475.67" y="317.67" width="7.07" height="3.69" fill="#acaaa7"/>
<rect x="482.33" y="317.67" width="7.07" height="3.69" fill="#aeaca9"/>
<rect x="489.00" y="317.67" width="10.40" height="3.69" fill="#b0aeab"/>
<rect x="389.00" y="320.96" width="10.40" height="3.69" fill="#b2b0ad"/>
<rect x="399.00" y="320.96" width="7.07" height="3.69" fill="#b4b2af"/>
<rect x="405.67" y="320.96" width="3.73" height="3.69" fill="#b6b4b1"/>
<rect x="409.00" y="320.96" width="3.73" height="3.69" fill="#bcbab7"/>
<rect x="412.33" y="320.96" width="3.73" height="3.69" fill="#c6c4c1"/>
<rect x="415.67" y="320.96" width="3.73" height="3.69" fill="#d6d4d1"/>
<rect x="419.00" y="320.96" width="3.73" height="3.69" fill="#e8e6e3"/>
<rect x="422.33" y="320.96" width="3.73" height="3.69" fill="#fcfaf7"/>
<rect x="425.67" y="320.96" width="13.73" height="3.69" fill="#fffefb"/>
<rect x="439.00" y="320.96" width="3.73" height="3.69" fill="#f2f0ed"/>
<rect x="442.33" y="320.96" width="3.73" height="3.69" fill="#dedcd9"/>
<rect x="445.67" y="320.96" width="3.73" height="3.69" fill="#cac8c5"/>
<rect x="449.00" y="320.96" width="3.73" height="3.69" fill="#bab8b5"/>
<rect x="452.33" y="320.96" width="3.73" height="3.69" fill="#b0aeab"/>
<rect x="455.67" y="320.96" width="3.73" height="3.69" fill="#acaaa7"/>
<rect x="459.00" y="320.96" width="17.07" height="3.69" fill="#aaa8a5"/>
<rect x="475.67" y="320.96" width="7.07" height="3.69" fill="#acaaa7"/>
<rect x="482.33" y="320.96" width="7.07" height="3.69" fill="#aeaca9"/>
<rect x="489.00" y="320.96" width="10.40" height="3.69" fill="#b0aeab"/>
<rect x="389.00" y="324.25" width="7.07" height="3.69" fill="#b2b0ad"/>
<rect x="395.67" y="324.25" width="10.40" height="3.69" fill="#b4b2af"/>
<rect x="405.67" y="324.25" width="3.73" height="3.69" fill="#b6b4b1"/>
<rect x="409.00" y="324.25" width="3.73" height="3.69" fill="#bab8b5"/>
<rect x="412.33" y="324.25" width="3.73" height="3.69" fill="#c4c2bf"/>
<rect x="415.67" y="324.25" width="3.73" height="3.69" fill="#d2d0cd"/>
<rect x="419.00" y="324.25" width="3.73" height="3.69" fill="#e2e0dd"/>
<rect x="422.33" y="324.25" width="3.73" height="3.69" fill="#f4f2ef"/>
<rect x="425.67" y="324.25" width="10.40" height="3.69" fill="#fffefb"/>
<rect x="435.67" y="324.25" width="3.73" height="3.69" fill="#fcfaf7"/>
<rect x="439.00" y="324.25" width="3.73" height="3.69" fill="#eceae7"/>
<rect x="442.33" y="324.25" width="3.73" height="3.69" fill="#d8d6d3"/>
<rect x="445.67" y="324.25" width="3.73" height="3.69" fill="#c6c4c1"/>
<rect x="449.00" y="324.25" width="3.73" height="3.69" fill="#b8b6b3"/>
<rect x="452.33" y="324.25" width="3.73" height="3.69" fill="#aeaca9"/>
<rect x="455.67" y="324.25" width="7.07" height="3.69" fill="#aaa8a5"/>
<rect x="462.33" y="324.25" width="3.73" height="3.69" fill="#a8a6a3"/>
<rect x="465.67" y="324.25" width="10.40" height="3.69" fill="#aaa8a5"/>
<rect x="475.67" y="324.25" width="7.07" height="3.69" fill="#acaaa7"/>
<rect x="482.33" y="324.25" width="10.40" height="3.69" fill="#aeaca9"/>
<rect x="492.33" y="324.25" width="3.73" height="3.69" fill="#b0aeab"/>
<rect x="495.67" y="324.25" width="3.73" height="3.69" fill="#aeaca9"/>
<rect x="389.00" y="327.55" width="7.07" height="3.69" fill="#b2b0ad"/>
<rect x="395.67" y="327.55" width="10.40" height="3.69" fill="#b4b2af"/>
<rect x="405.67" y="327.55" width="3.73" height="3.69" fill="#b6b4b1"/>
<rect x="409.00" y="327.55" width="3.73" height="3.69" fill="#bab8b5"/>
<rect x="412.33" y="327.55" width="3.73" height="3.69" fill="#c0bebb"/>
<rect x="415.67" y="327.55" width="3.73" height="3.69" fill="#cccac7"/>
<rect x="419.00" y="327.55" width="3.73" height="3.69" fill="#dad8d5"/>
<rect x="422.33" y="327.55" width="3.73" height="3.69" fill="#eae8e5"/>
<rect x="425.67" y="327.55" width="3.73" height="3.69" fill="#f6f4f1"/>
<rect x="429.00" y="327.55" width="3.73" height="3.69" fill="#fcfaf7"/>
<rect x="432.33" y="327.55" width="3.73" height="3.69" fill="#faf8f5"/>
<rect x="435.67" y="327.55" width="3.73" height="3.69" fill="#f0eeeb"/>
<rect x="439.00" y="327.55" width="3.73" height="3.69" fill="#e2e0dd"/>
<rect x="442.33" y="327.55" width="3.73" height="3.69" fill="#d0cecb"/>
<rect x="445.67" y="327.55" width="3.73" height="3.69" fill="#c0bebb"/>
<rect x="449.00" y="327.55" width="3.73" height="3.69" fill="#b4b2af"/>
<rect x="452.33" y="327.55" width="3.73" height="3.69" fill="#aeaca9"/>
<rect x="455.67" y="327.55" width="7.07" height="3.69" fill="#aaa8a5"/>
<rect x="462.33" y="327.55" width="3.73" height="3.69" fill="#a8a6a3"/>
<rect x="465.67" y="327.55" width="10.40" height="3.69" fill="#aaa8a5"/>
<rect x="475.67" y="327.55" width="7.07" height="3.69" fill="#acaaa7"/>
<rect x="482.33" y="327.55" width="17.07" height="3.69" fill="#aeaca9"/>
<rect x="389.00" y="330.84" width="7.07" height="3.69" fill="#b2b0ad"/>
<rect x="395.67" y="330.84" width="10.40" height="3.69" fill="#b4b2af"/>
<rect x="405.67" y="330.84" width="3.73" height="3.69" fill="#b6b4b1"/>
<rect x="409.00" y="330.84" width="3.73" height="3.69" fill="#b8b6b3"/>
<rect x="412.33" y="330.84" width="3.73" height="3.69" fill="#bcbab7"/>
<rect x="415.67" y="330.84" width="3.73" height="3.69" fill="#c6c4c1"/>
<rect x="419.00" y="330.84" width="3.73" height="3.69" fill="#d2d0cd"/>
<rect x="422.33" y="330.84" width="3.73" height="3.69" fill="#dedcd9"/>
<rect x="425.67" y="330.84" width="3.73" height="3.69" fill="#e8e6e3"/>
<rect x="429.00" y="330.84" width="3.73" height="3.69" fill="#eceae7"/>
<rect x="432.33" y="330.84" width="3.73" height="3.69" fill="#eae8e5"/>
<rect x="435.67" y="330.84" width="3.73" height="3.69" fill="#e2e0dd"/>
<rect x="439.00" y="330.84" width="3.73" height="3.69" fill="#d6d4d1"/>
<rect x="442.33" y="330.84" width="3.73" height="3.69" fill="#c8c6c3"/>
<rect x="445.67" y="330.84" width="3.73" height="3.69" fill="#bcbab7"/>
<rect x="449.00" y="330.84" width="3.73" height="3.69" fill="#b2b0ad"/>
<rect x="452.33" y="330.84" width="3.73" height="3.69" fill="#acaaa7"/>
<rect x="455.67" y="330.84" width="3.73" height="3.69" fill="#aaa8a5"/>
<rect x="459.00" y="330.84" width="7.07" height="3.69" fill="#a8a6a3"/>
<rect x="465.67" y="330.84" width="10.40" height="3.69" fill="#aaa8a5"/>
<rect x="475.67" y="330.84" width="7.07" height="3.69" fill="#acaaa7"/>
<rect x="482.33" y="330.84" width="17.07" height="3.69" fill="#aeaca9"/>
<rect x="389.00" y="334.13" width="7.07" height="3.69" fill="#b2b0ad"/>
<rect x="395.67" y="334.13" width="13.73" height="3.69" fill="#b4b2af"/>
<rect x="409.00" y="334.13" width="3.73" height="3.69" fill="#b6b4b1"/>
<rect x="412.33" y="334.13" width="3.73" height="3.69" fill="#bab8b5"/>
<rect x="415.67" y="334.13" width="3.73" height="3.69" fill="#c0bebb"/>
<rect x="419.00" y="334.13" width="3.73" height="3.69" fill="#c8c6c3"/>
<rect x="422.33" y="334.13" width="3.73" height="3.69" fill="#d2d0cd"/>
<rect x="425.67" y="334.13" width="3.73" height="3.69" fill="#d8d6d3"/>
<rect x="429.00" y="334.13" width="3.73" height="3.69" fill="#dcdad7"/>
<rect x="432.33" y="334.13" width="3.73" height="3.69" fill="#dad8d5"/>
<rect x="435.67" y="334.13" width="3.73" height="3.69" fill="#d4d2cf"/>
<rect x="439.00" y="334.13" width="3.73" height="3.69" fill="#cac8c5"/>
<rect x="442.33" y="334.13" width="3.73" height="3.69" fill="#c0bebb"/>
<rect x="445.67" y="334.13" width="3.73" height="3.69" fill="#b6b4b1"/>
<rect x="449.00" y="334.13" width="3.73" height="3.69" fill="#aeaca9"/>
<rect x="452.33" y="334.13" width="3.73" height="3.69" fill="#acaaa7"/>
<rect x="455.67" y="334.13" width="3.73" height="3.69" fill="#aaa8a5"/>
<rect x="459.00" y="334.13" width="7.07" height="3.69" fill="#a8a6a3"/>
<rect x="465.67" y="334.13" width="10.40" height="3.69" fill="#aaa8a5"/>
<rect x="475.67" y="334.13" width="10.40" height="3.69" fill="#acaaa7"/>
<rect x="485.67" y="334.13" width="13.73" height="3.69" fill="#aeaca9"/>
<rect x="389.00" y="337.42" width="10.40" height="3.69" fill="#b2b0ad"/>
<rect x="399.00" y="337.42" width="13.73" height="3.69" fill="#b4b2af"/>
<rect x="412.33" y="337.42" width="3.73" height="3.69" fill="#b6b4b1"/>
<rect x="415.67" y="337.42" width="3.73" height="3.69" fill="#bab8b5"/>
<rect x="419.00" y="337.42" width="3.73" height="3.69" fill="#c0bebb"/>
<rect x="422.33" y="337.42" width="3.73" height="3.69" fill="#c6c4c1"/>
<rect x="425.67" y="337.42" width="3.73" height="3.69" fill="#cac8c5"/>
<rect x="429.00" y="337.42" width="3.73" height="3.69" fill="#ceccc9"/>
<rect x="432.33" y="337.42" width="3.73" height="3.69" fill="#cccac7"/>
<rect x="435.67" y="337.42" width="3.73" height="3.69" fill="#c6c4c1"/>
<rect x="439.00" y="337.42" width="3.73" height="3.69" fill="#c0bebb"/>
<rect x="442.33" y="337.42" width="3.73" height="3.69" fill="#b8b6b3"/>
<rect x="445.67" y="337.42" width="3.73" height="3.69" fill="#b2b0ad"/>
<rect x="449.00" y="337.42" width="3.73" height="3.69" fill="#acaaa7"/>
<rect x="452.33" y="337.42" width="7.07" height="3.69" fill="#aaa8a5"/>
<rect x="459.00" y="337.42" width="7.07" height="3.69" fill="#a8a6a3"/>
<rect x="465.67" y="337.42" width="10.40" height="3.69" fill="#aaa8a5"/>
<rect x="475.67" y="337.42" width="10.40" height="3.69" fill="#acaaa7"/>
<rect x="485.67" y="337.42" width="13.73" height="3.69" fill="#aeaca9"/>
<rect x="389.00" y="340.71" width="3.73" height="3.69" fill="#b0aeab"/>
<rect x="392.33" y="340.71" width="17.07" height="3.69" fill="#b2b0ad"/>
<rect x="409.00" y="340.71" width="7.07" height="3.69" fill="#b4b2af"/>
<rect x="415.67" y="340.71" width="3.73" height="3.69" fill="#b6b4b1"/>
<rect x="419.00" y="340.71" width="3.73" height="3.69" fill="#b8b6b3"/>
<rect x="422.33" y="340.71" width="3.73" height="3.69" fill="#bcbab7"/>
<rect x="425.67" y="340.71" width="10.40" height="3.69" fill="#c0bebb"/>
<rect x="435.67" y="340.71" width="3.73" height="3.69" fill="#bcbab7"/>
<rect x="439.00" y="340.71" width="3.73" height="3.69" fill="#b8b6b3"/>
<rect x="442.33" y="340.71" width="3.73" height="3.69" fill="#b2b0ad"/>
<rect x="445.67" y="340.71" width="3.73" height="3.69" fill="#aeaca9"/>
<rect x="449.00" y="340.71" width="7.07" height="3.69" fill="#aaa8a5"/>
<rect x="455.67" y="340.71" width="10.40" height="3.69" fill="#a8a6a3"/>
<rect x="465.67" y="340.71" width="13.73" height="3.69" fill="#aaa8a5"/>
<rect x="479.00" y="340.71" width="7.07" height="3.69" fill="#acaaa7"/>
<rect x="485.67" y="340.71" width="13.73" height="3.69" fill="#aeaca9"/>
</g>
<path d="M431.81 307.86L431.62 307.43L431.44 306.99L431.28 306.55L431.12 306.10L430.96 305.64L430.82 305.18L430.69 304.71L430.56 304.24L430.45 303.76L430.34 303.28L430.25 302.80L430.16 302.31L430.08 301.82L430.01 301.33L429.95 300.83L429.90 300.33L429.86 299.83L429.83 299.33L429.81 298.83L429.80 298.32L429.80 297.82L429.81 297.32L429.83 296.82L429.85 296.31L429.89 295.81L429.94 295.31L429.99 294.82L430.06 294.32L430.14 293.83L430.22 293.34L430.31 292.86L430.42 292.38L430.53 291.90L430.65 291.43L430.78 290.96L430.92 290.49L431.07 290.04L431.23 289.58L431.39 289.14L431.57 288.70M443.46 279.41L444.21 279.48L444.95 279.60L445.69 279.79L446.42 280.03L447.13 280.34L447.84 280.69L448.53 281.11L449.20 281.58L449.85 282.10L450.48 282.67L451.08 283.29L451.66 283.96L452.21 284.68L452.73 285.43L453.22 286.23L453.68 287.07L454.10 287.94L454.49 288.84L454.84 289.77L455.15 290.73L455.42 291.71L455.66 292.72L455.85 293.74L456.00 294.77L456.11 295.81L456.18 296.86L456.20 297.92L456.18 298.97L456.12 300.02L456.02 301.07L455.87 302.10L455.69 303.13L455.46 304.13L455.20 305.12L454.89 306.08L454.54 307.02L454.16 307.93L453.75 308.80L453.29 309.64L452.81 310.45M445.29 316.32L445.08 316.37L444.86 316.41L444.64 316.46L444.43 316.49L444.21 316.52L443.99 316.55L443.77 316.57L443.55 316.58L443.33 316.59L443.12 316.60L442.90 316.60L442.68 316.59L442.46 316.58L442.24 316.57L442.02 316.55L441.80 316.52L441.59 316.49L441.37 316.46L441.15 316.42L440.94 316.37L440.72 316.32L440.50 316.26L440.29 316.20L440.08 316.14L439.86 316.07L439.65 315.99L439.44 315.91L439.23 315.82L439.02 315.73L438.81 315.64L438.60 315.54L438.40 315.43L438.19 315.32L437.99 315.21L437.79 315.09L437.59 314.97L437.39 314.84L437.19 314.70L437.00 314.57L436.80 314.42" fill="none" stroke="#7270bd" stroke-width="1.6" stroke-dasharray="3.8 3.6" stroke-linecap="round"/>
<path d="M441.62 279.50L434.47 291.87L433.58 286.86L428.67 285.53Z" fill="#7270bd"/>
<path d="M446.51 315.93L450.23 306.77L451.79 311.15L456.00 313.14Z" fill="#7270bd"/>
<circle cx="434.24" cy="311.91" r="5.2" fill="none" stroke="#7270bd" stroke-width="1.4"/><path d="M430.56 308.23L437.91 315.59M437.91 308.23L430.56 315.59" stroke="#7270bd" stroke-width="1.3"/>
<text transform="translate(411.58 255.90) scale(1.0572 1)" font-size="17.5" fill="#000">Φ = 90°</text>
</svg>
</body></html>
